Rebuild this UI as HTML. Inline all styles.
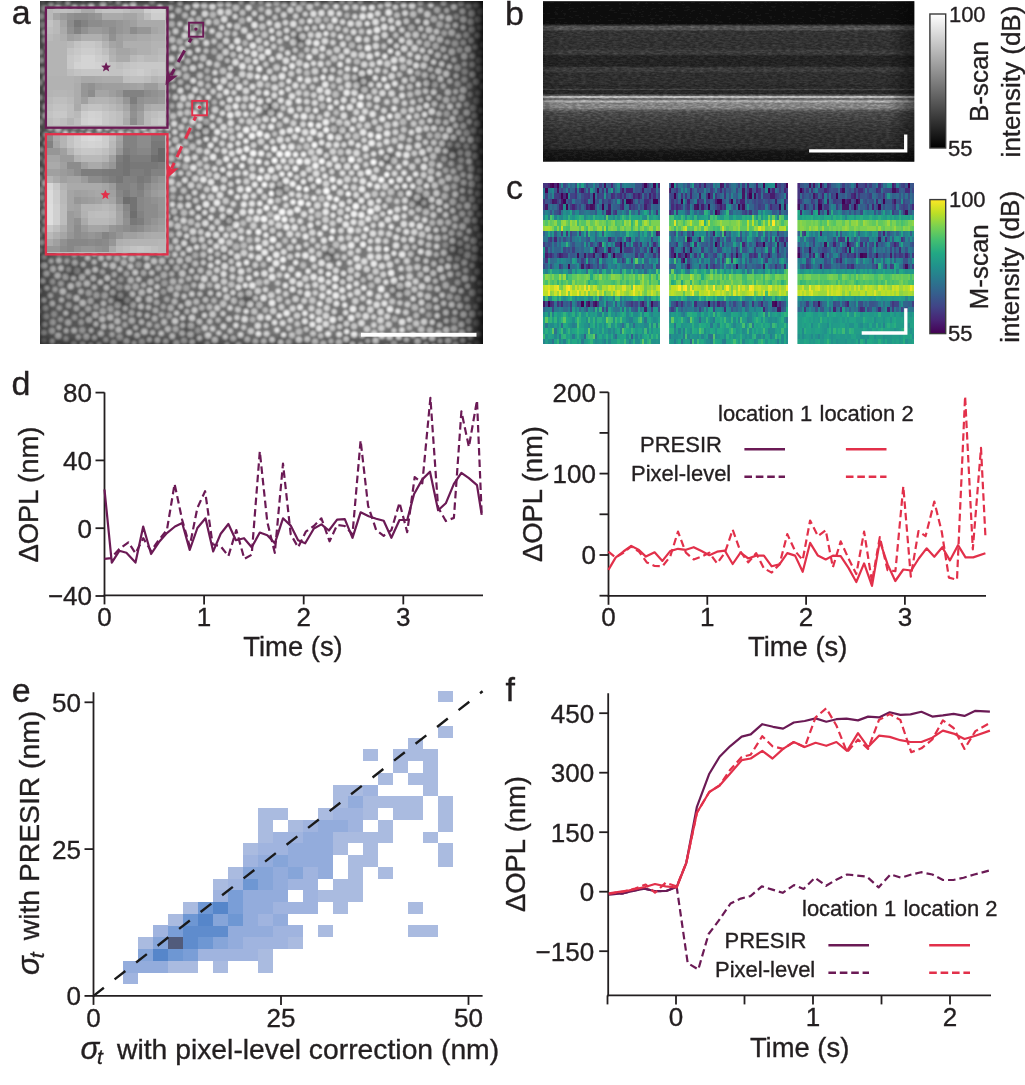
<!DOCTYPE html>
<html><head><meta charset="utf-8"><title>Figure</title>
<style>html,body{margin:0;padding:0;background:#fff;}body{width:1025px;height:1085px;overflow:hidden;font-family:"Liberation Sans",sans-serif;}svg{display:block;}</style>
</head><body>
<svg width="1025" height="1085" viewBox="0 0 1025 1085" font-family="'Liberation Sans', sans-serif" fill="#231f20">
<style>text{stroke:#231f20;stroke-width:0.35px;}</style>
<defs><clipPath id="clipA"><rect x="40.0" y="1.0" width="443.0" height="343.0"/></clipPath><filter id="blurA" x="-2%" y="-2%" width="104%" height="104%"><feGaussianBlur stdDeviation="1.0"/></filter><linearGradient id="shadeAx" x1="0" x2="1" y1="0" y2="0"><stop offset="0" stop-color="#000" stop-opacity="0.45"/><stop offset="0.03" stop-color="#000" stop-opacity="0.2"/><stop offset="0.3" stop-color="#000" stop-opacity="0.12"/><stop offset="0.5" stop-color="#000" stop-opacity="0.0"/><stop offset="0.78" stop-color="#000" stop-opacity="0.0"/><stop offset="0.86" stop-color="#000" stop-opacity="0.1"/><stop offset="0.92" stop-color="#000" stop-opacity="0.22"/><stop offset="0.97" stop-color="#000" stop-opacity="0.45"/><stop offset="1" stop-color="#000" stop-opacity="0.85"/></linearGradient><linearGradient id="shadeAy" x1="0" x2="0" y1="0" y2="1"><stop offset="0" stop-color="#000" stop-opacity="0.5"/><stop offset="0.012" stop-color="#000" stop-opacity="0.1"/><stop offset="0.5" stop-color="#000" stop-opacity="0.0"/><stop offset="0.97" stop-color="#000" stop-opacity="0.08"/><stop offset="1" stop-color="#000" stop-opacity="0.35"/></linearGradient><radialGradient id="blob"><stop offset="0" stop-color="#000" stop-opacity="0.28"/><stop offset="1" stop-color="#000" stop-opacity="0"/></radialGradient><radialGradient id="shadeBL" cx="0.1" cy="0.95" r="0.45"><stop offset="0" stop-color="#000" stop-opacity="0.1"/><stop offset="1" stop-color="#000" stop-opacity="0"/></radialGradient><filter id="blurI" x="-2%" y="-2%" width="104%" height="104%"><feGaussianBlur stdDeviation="0.7"/></filter><linearGradient id="bscanG" x1="0" x2="0" y1="0" y2="1"><stop offset="0.0000" stop-color="#0d0d0d"/><stop offset="0.1408" stop-color="#0d0d0d"/><stop offset="0.1583" stop-color="#464646"/><stop offset="0.1769" stop-color="#464646"/><stop offset="0.1857" stop-color="#2b2b2b"/><stop offset="0.2978" stop-color="#292929"/><stop offset="0.3072" stop-color="#313131"/><stop offset="0.3290" stop-color="#313131"/><stop offset="0.3414" stop-color="#1e1e1e"/><stop offset="0.4037" stop-color="#1e1e1e"/><stop offset="0.4150" stop-color="#313131"/><stop offset="0.4380" stop-color="#313131"/><stop offset="0.4474" stop-color="#272727"/><stop offset="0.5159" stop-color="#272727"/><stop offset="0.5283" stop-color="#212121"/><stop offset="0.5439" stop-color="#272727"/><stop offset="0.5502" stop-color="#383838"/><stop offset="0.5564" stop-color="#222222"/><stop offset="0.5751" stop-color="#212121"/><stop offset="0.5875" stop-color="#525252"/><stop offset="0.5938" stop-color="#ababab"/><stop offset="0.6000" stop-color="#ababab"/><stop offset="0.6062" stop-color="#626262"/><stop offset="0.6143" stop-color="#5e5e5e"/><stop offset="0.6206" stop-color="#9d9d9d"/><stop offset="0.6280" stop-color="#9d9d9d"/><stop offset="0.6343" stop-color="#6d6d6d"/><stop offset="0.6405" stop-color="#757575"/><stop offset="0.6654" stop-color="#757575"/><stop offset="0.6810" stop-color="#4e4e4e"/><stop offset="0.6935" stop-color="#404040"/><stop offset="0.7464" stop-color="#353535"/><stop offset="0.8087" stop-color="#2b2b2b"/><stop offset="0.9146" stop-color="#242424"/><stop offset="0.9333" stop-color="#151515"/><stop offset="1.0000" stop-color="#0f0f0f"/></linearGradient><linearGradient id="bscanX" x1="0" x2="1" y1="0" y2="0"><stop offset="0" stop-color="#000" stop-opacity="0.15"/><stop offset="0.05" stop-color="#000" stop-opacity="0"/><stop offset="0.93" stop-color="#000" stop-opacity="0"/><stop offset="1" stop-color="#000" stop-opacity="0.45"/></linearGradient><filter id="speck" x="0" y="0" width="100%" height="100%"><feTurbulence type="fractalNoise" baseFrequency="0.22 0.6" numOctaves="2" seed="3" result="n"/><feColorMatrix in="n" type="matrix" values="0 0 0 0 0  0 0 0 0 0  0 0 0 0 0  1.6 0 0 0 -0.55" result="a"/><feComposite in="SourceGraphic" in2="a" operator="in"/></filter><linearGradient id="cbB" x1="0" x2="0" y1="0" y2="1"><stop offset="0" stop-color="#fff"/><stop offset="1" stop-color="#000"/></linearGradient><clipPath id="clipC"><rect x="543" y="182.6" width="117" height="161.8"/><rect x="669.1" y="182.6" width="119.1" height="161.8"/><rect x="797.4" y="182.6" width="117" height="161.8"/></clipPath><filter id="blurC" x="-1%" y="-1%" width="102%" height="102%"><feGaussianBlur stdDeviation="0.55"/></filter><linearGradient id="cbV" x1="0" x2="0" y1="0" y2="1"><stop offset="0.00" stop-color="#fde725"/><stop offset="0.10" stop-color="#bddf26"/><stop offset="0.20" stop-color="#7ad151"/><stop offset="0.30" stop-color="#44bf70"/><stop offset="0.40" stop-color="#22a884"/><stop offset="0.50" stop-color="#21918c"/><stop offset="0.60" stop-color="#2a788e"/><stop offset="0.70" stop-color="#355f8d"/><stop offset="0.80" stop-color="#414487"/><stop offset="0.90" stop-color="#482475"/><stop offset="1.00" stop-color="#440154"/></linearGradient></defs>
<g clip-path="url(#clipA)">
<rect x="40.0" y="1.0" width="443.0" height="343.0" fill="#7c7c7c"/>
<g filter="url(#blurA)" stroke-linecap="round" fill="none">
<path stroke="#707070" stroke-width="9.2" d="M239.1 151.1h0M252 135.9h0M243.5 157.7h0M242 165.8h0M253.6 145.1h0M266.4 147.2h0M266.8 163h0M230.7 122.9h0M237.9 113.7h0M274.6 160.4h0M279.7 154.1h0M213.1 157h0M228.2 107.7h0M222.4 113.2h0M222.3 103h0M243.7 106.4h0M274.7 133.8h0M271.1 169.9h0M245.5 98.7h0M216.8 149.9h0M265.6 118.8h0M223.9 179.6h0M238.3 181.3h0M206.2 139h0M205.7 131.1h0M206.2 122h0M222.7 169.6h0M287.8 139.5h0M197.9 134h0M236.5 79.5h0M216.8 176.3h0M253 98h0M295.5 168.5h0M275 177.8h0M283.3 146.9h0M290 174.3h0M206 104.8h0M205.6 112.6h0M252.5 86.7h0M289.9 130.4h0M279.6 184.4h0M185.6 142.7h0M208.1 85.9h0M275.1 105.8h0M198.1 106.6h0M184.8 120.1h0M265.8 107.1h0M215.6 80.6h0M266.5 92.9h0M199.3 126.2h0M303.4 181.7h0M245.4 196.6h0M268.7 100.5h0M192.8 68.1h0M190.4 136.6h0M179.3 156.4h0M193.1 80.6h0M310.6 178.8h0M298.9 195.3h0M264.3 196.9h0M297.7 129.7h0M211 197.2h0M180.7 173h0M313.1 186.4h0M299.5 108.8h0M209.1 62.9h0M210.6 145.3h0M173.9 47.9h0M191 185.3h0M315.5 165.8h0M271.4 193.4h0M270.9 112.6h0M172.7 150.3h0M168.3 143.4h0M286 180.7h0M279.3 192.3h0M269.6 71.3h0M319.4 151.5h0M187.7 87.1h0M198.9 98.7h0M230.5 68.1h0M306.3 189.2h0M167.9 135.9h0M300.8 202.7h0M184.9 180.1h0M288.8 81.1h0M310.7 124.6h0M311.7 117h0M330.4 136.9h0M160.1 143.4h0M278 200.4h0M274.1 78.3h0M291.9 96.1h0M187.8 61.2h0M233.1 54.6h0M154.3 121.8h0M250.4 67.7h0M171.7 78.6h0M171.1 68.6h0M173.7 86.6h0M297.4 209.6h0M188.3 205.2h0M318.7 125.6h0M165 73.8h0M326 183.7h0M314.5 145h0M165.9 87.4h0M189.3 52.6h0M284.6 68.8h0M337.9 166.4h0M326.4 155.4h0M315.7 110.4h0M188.4 197.2h0M351.2 142.7h0M159.5 115h0M308.4 204.1h0M348.3 193.9h0M143.1 66.5h0M342.9 159.7h0M157.9 151.1h0M272.1 185.5h0M336.3 102.4h0M152.2 95.1h0M259.4 211.5h0M272.5 230.5h0M313.8 95.1h0M198.5 207.8h0M187.2 27.9h0M268 52h0M192.9 34.2h0M204.8 212.5h0M216.1 234.9h0M226.2 40.9h0M144.8 98h0M298.9 71h0M255.6 61.7h0M152.2 56.7h0M208.3 22.1h0M351.4 159.5h0M331.8 171.7h0M292.2 220.1h0M152.9 79.3h0M144 166.5h0M345.8 186.8h0M160.1 127.1h0M155.4 158.7h0M340.6 152.1h0M303 124.2h0M165.6 192.4h0M137.3 60.7h0M200.8 231.9h0M210.2 241.8h0M144.6 112.4h0M327.7 92h0M157.1 171.5h0M246.8 51.1h0M343.9 144.7h0M180.5 198.1h0M252.8 45.6h0M122.7 112.2h0M239.2 48.7h0M145.1 81.6h0M325.3 84.5h0M227.3 60.5h0M129.5 102.3h0M373.6 153.8h0M328.9 99.7h0M141 174.1h0M264 219h0M292.1 66h0M229.4 25.3h0M355.2 179.7h0M287.7 52.9h0M349.5 201.3h0M135.5 68.8h0M144 56.2h0M370.6 135h0M361.3 200.5h0M137 113.8h0M176.1 218.6h0M362 189.3h0M165.5 200.6h0M160.6 56.6h0M365.5 148.2h0M183.5 220.6h0M125.4 93.6h0M156.4 49.6h0M172.3 204.4h0M193.4 12.9h0M294.6 227.5h0M129.6 84.9h0M332.9 215.3h0M136.9 98.9h0M174 211.5h0M104.1 101.1h0M132.5 141.2h0M223.9 248.8h0M167.6 216.3h0M164.5 42.5h0M224.5 257.3h0M258.4 232h0M279.1 33.4h0M310.4 225.3h0M318.2 223h0M193.6 239.7h0M115.8 90h0M367.5 125.4h0M295.2 50.1h0M355.8 206.2h0M109 94.3h0M135.4 152h0M258.7 247.6h0M204.9 13.7h0M325.1 227.7h0M110.3 120.5h0M381.5 163.6h0M340.4 212h0M353.9 119.8h0M378.7 200.8h0M376.4 169.9h0M139.3 182.1h0M374.7 121.9h0M324.9 70.3h0M384.9 206.1h0M237.3 256.5h0M235.1 16.5h0M172 15.8h0M386.8 157.6h0M321.3 98h0M255.3 265h0M346.8 216.8h0M159.6 33.2h0M112.7 133.5h0M302.3 36.6h0M143.7 188.9h0M155.6 212.5h0M196.5 247.2h0M216 -3.3h0M123.8 125.4h0M251 247.9h0M293.6 34.2h0M99.2 129.4h0M105.1 70.7h0M210.5 258.1h0M197.7 225.1h0M109.3 148.8h0M368.9 96.8h0M120.4 61.9h0M111.9 102h0M374.7 194h0M314.6 27.9h0M290.1 256.7h0M361.4 214.9h0M171.7 23.9h0M208 234.4h0M370.7 203h0M389.9 116.2h0M354 214h0M376.8 107.2h0M316.4 43.1h0M363.8 207.6h0M256.2 273.9h0M179.1 233.9h0M322.3 26.7h0M94.3 89.4h0M400.6 194h0M323 77.4h0M269.3 258.9h0M170.6 7.6h0M312.3 232.4h0M252.3 285.5h0M332.8 69.8h0M186.6 236.1h0M242.5 12.7h0M361 97h0M139.4 37.6h0M180 2.6h0M257.8 291h0M120 52.5h0M317.8 245.9h0M110.9 65h0M107.1 127.6h0M339.4 122.7h0M255.3 298.3h0M322.4 48.4h0M386.8 174.6h0M382.6 214h0M238.4 287.2h0M137.3 29.2h0M400.4 146.4h0M290.2 247.6h0M384 110.6h0M182.9 253.7h0M360.6 173.6h0M254.4 13.4h0M125.7 182.8h0M105.8 51.5h0M286.7 38.2h0M264.4 273.5h0M114.2 155.3h0M159.9 6.7h0M97.7 96.7h0M165.8 240.9h0M152.1 0.6h0M268.6 12.3h0M97.9 74.1h0M231.1 261.4h0M254.5 24.9h0M191.6 270.9h0M84.7 102.2h0M339.5 219.9h0M283.9 14.9h0M188.5 259.3h0M171.4 -0.6h0M124.7 38.9h0M249.9 304.1h0M112.9 49.1h0M313.4 13.7h0M284.3 4.7h0M301.8 21.4h0M261.4 17.8h0M341 230.6h0M321.4 13h0M294 240.8h0M245.3 285.3h0M331.4 238.4h0M263.5 297.9h0M122.1 198h0M140.9 215.6h0M299.8 284.1h0M128.7 222.4h0M77 104.4h0M143 23.4h0M246.4 -5h0M152.1 251.8h0M259.3 305h0M306.7 28.3h0M71.4 98.7h0M248.8 293.4h0M308.4 42.1h0M127.5 25.6h0M271.4 269.4h0M130 13.9h0M120.9 169h0M290.4 10.1h0M267.2 -4.3h0M99.3 55.5h0M409.5 140h0M356.9 61.6h0M399.7 179.6h0M325.9 33.5h0M396.8 187h0M412.2 166.8h0M232.9 292.6h0M136.6 221.9h0M118.4 24h0M203.3 262.6h0M376.9 99.2h0M82.1 67.1h0M82.8 127.5h0M364 236.4h0M324.4 -4.7h0M364.3 64.4h0M412.7 186.2h0M373.2 225.3h0M295.7 262.6h0M120.8 176.7h0M305.3 14h0M359.7 47.2h0M70.5 109.2h0M285.4 22.6h0M300 292.1h0M61.5 87.7h0M297.7 -4.3h0M122.8 205.9h0M246.1 311.2h0M86.1 141.3h0M129.4 249.1h0M351.9 45.1h0M355.3 69.4h0M316.6 -6.6h0M346.7 51.1h0M166.6 267.6h0M115.5 163.5h0M105.9 35h0M101.8 164.2h0M69.3 65.7h0M196.5 277.3h0M375.3 77.9h0M369.7 72h0M150 243.9h0M62.6 106.3h0M229 318.8h0M63.5 97.2h0M143 -3.8h0M144.1 233.4h0M185.1 266.3h0M150.5 19.8h0M403.7 111.1h0M73.2 133.9h0M252.6 319.5h0M295.6 298.9h0M358.4 39.1h0M363.4 81.4h0M118.7 10.2h0M307.6 294h0M409 193.4h0M386.4 249.1h0M326.2 129.9h0M89 158.4h0M106.9 235.9h0M425.5 159.2h0M99 31h0M328.5 274h0M370.3 241.1h0M429.8 135.5h0M353.6 32h0M394 253.3h0M138.6 264.7h0M97.4 171.1h0M60 121.7h0M382.4 93.1h0M402.1 95.6h0M331.6 250.8h0M266.1 325.5h0M363 244.5h0M171.7 273.9h0M403.8 239.6h0M423.9 167h0M431.8 163.8h0M419.4 181.8h0M335.5 278.5h0M361.9 73.6h0M210.4 293.1h0M397.1 261h0M199.9 294.1h0M94.7 178.4h0M254.3 311.4h0M155.1 220.7h0M113.7 250.7h0M65.2 115.4h0M65.8 58.5h0M99.3 19.6h0M218.9 294.3h0M338.9 263.5h0M398.4 229.6h0M416.8 116h0M205.5 299.8h0M394.9 83.6h0M375.9 46h0M115.5 208.6h0M379.7 62.4h0M99.1 149.4h0M60.7 64.9h0M367.3 23.5h0M343.5 273.3h0M133.1 4.1h0M171.5 261.6h0M154 261.2h0M391.2 272.9h0M441.7 128.9h0M445.9 122.3h0M417.3 259h0M45.7 106.7h0M257.8 325.7h0M258.4 333.9h0M157.6 228.6h0M378.1 248.8h0M308.1 271.2h0M420.8 251.6h0M88.7 133.8h0M234.1 300.7h0M73 43.9h0M414.3 247h0M147.3 265.9h0M417.3 197.6h0M61.6 51.7h0M159.5 98.1h0M89.9 227.6h0M378.6 257h0M349.9 278.4h0M56.3 58h0M91.1 32.3h0M186.9 311.4h0M385.4 71.3h0M275.1 17.4h0M201.8 307.5h0M370.3 15.7h0M381.8 266.1h0M342 0.4h0M45.2 115.5h0M357.2 274.8h0M154 27.1h0M384.7 35.1h0M419.9 226.3h0M426 260.9h0M366.7 269.2h0M390.4 51h0M93.6 143.8h0M422.3 152.2h0M377 30h0M363.2 279.8h0M123.8 262.5h0M86 192.2h0M370.2 276.9h0M444.1 158.8h0M88.8 184.8h0M110.1 -0.3h0M437.6 149.9h0M426.5 105.6h0M75.3 31.1h0M69 167.6h0M53.5 42.4h0M65.4 132.9h0M360.4 0.6h0M404.7 80.4h0M53.4 136.1h0M342.6 281.9h0M46.1 143h0M350.8 270.3h0M98.1 10.4h0M83.3 30.6h0M108.9 257.2h0M427.4 279h0M445.7 170.3h0M450 144.7h0M54.2 144.1h0M283.6 335h0M47.8 55.5h0M71.3 23.6h0M423.9 202.5h0M38.9 138.8h0M91.4 197.7h0M240.5 334.9h0M452.5 155.1h0M329 300.2h0M371.8 7.6h0M394.3 68.3h0M272.1 339.9h0M265.3 310.1h0M274.4 347.9h0M438 121.5h0M37.6 105.5h0M375.7 271.5h0M336.4 303.7h0M39.9 52.1h0M453.4 137.7h0M80 225.7h0M61.2 25.2h0M38.1 130.1h0M428.6 244.9h0M67 152.2h0M426.2 269.1h0M108.6 215.5h0M383.1 19.1h0M384.3 27h0M39.7 97.5h0M409.9 86.7h0M439.5 210h0M280.7 342.7h0M204.4 315.3h0M65.9 17.8h0M89.8 213.4h0M35.1 65.8h0M297.1 315.6h0M150.5 282h0M449.5 129.9h0M238.6 345.3h0M436.5 193.2h0M74.3 231.4h0M354.8 16.4h0M417.9 92.5h0M426.6 185.9h0M420.6 100.1h0M468 153.8h0M436.3 254.6h0M439 113.8h0M463.8 182.6h0M44.2 32.3h0M41 149.5h0M355.5 -6.1h0M75.8 239h0M180.8 306.3h0M218.1 320.2h0M401.6 277.8h0M434.4 103.8h0M435.4 281.1h0M83.2 -1.5h0M182.8 325.4h0M475 146.9h0M107.2 278h0M428.7 98.1h0M71.7 216.1h0M434.8 185.5h0M67.4 180.9h0M377.7 13.5h0M36 33.8h0M416.1 65.5h0M446.7 113.8h0M346.5 323.7h0M170.7 307.9h0M466.7 132.9h0M396.5 45.8h0M81.9 253h0M385.9 282.2h0M439.1 97.3h0M182.4 333.2h0M63.5 196h0M214.9 340.3h0M34 145.2h0M385.9 241.1h0M390.1 41h0M460.8 118.2h0M428 296.5h0M163.4 291.8h0M439.2 201.9h0M436.1 230h0M225.2 337.1h0M304.9 321.2h0M343.1 297.8h0M319 320h0M325.8 323.9h0M156.7 302.4h0M70 244.8h0M446.2 99.9h0M95.2 269.7h0M362.1 308.1h0M346.2 339.5h0M478 178.3h0M437.3 289h0M433.7 91.9h0M380.4 6.1h0M452.8 210.7h0M470.5 191.6h0M48.5 19.8h0M41.3 242.5h0M445.2 237.3h0M421.5 302.5h0M417.8 73.1h0M460.2 152.6h0M155.5 310.3h0M390.9 20.4h0M56 187.5h0M106.5 287.6h0M93.8 24.9h0M412.5 79h0M479.5 162.9h0M480.2 170.7h0M448 266.4h0M441.6 260.8h0M306.3 329.3h0M474.8 115.7h0M447.9 92.3h0M48.3 192.1h0M77.8 246.6h0M301.8 347.6h0M426.5 83.1h0M373.6 316.9h0M138.5 299.2h0M401.8 40.2h0M395.5 7.2h0M440.3 268.9h0M390.6 -4.1h0M358.2 315.2h0M197.7 348.1h0M32.8 153.2h0M392.7 289.9h0M346.7 331.5h0M40.5 169.6h0M476.5 81.8h0M354.1 326.2h0M186.8 348.6h0M192.1 342.2h0M140.9 306.5h0M461.1 290.9h0M139.3 314.3h0M481.3 110.4h0M34.9 75.5h0M317.8 349.9h0M74.3 255.1h0M477.4 123.4h0M436.8 307.6h0M452.5 240.9h0M444.2 229.3h0M488.6 200.6h0M472.3 199.3h0M462.5 190.6h0M44.7 183.1h0M93.3 278.2h0M90.5 300.9h0M339.2 350.9h0M390 309.2h0M45.4 221.4h0M481.8 131.7h0M112.9 292.6h0M32.4 172.6h0M351.3 318h0M445.9 312.5h0M81.8 277h0M430.4 51.5h0M330.9 349.7h0M430.5 69.3h0M457.7 298.2h0M470.8 139.7h0M473.5 108h0M449.9 81.2h0M470.3 94.4h0M456.2 266.4h0M131.6 312.7h0M467.7 286.2h0M362.1 335.5h0M491.3 116.1h0M96.1 306.7h0M433.6 62h0M370.4 309.8h0M456.2 75.8h0M120.4 295.7h0M147.2 315.6h0M451.6 233h0M416.2 315.5h0M41.6 197.6h0M475.6 207.3h0M31.5 230.9h0M152.6 332.6h0M73.5 278h0M53.9 202.8h0M411.4 27.6h0M455.6 112.1h0M455.1 312.3h0M171.8 350.3h0M437.2 315.7h0M440 39.5h0M352.5 344.4h0M488.6 136.2h0M420.9 28.6h0M406.3 21.2h0M405.1 13.1h0M489.1 80.4h0M460.5 251.2h0M483.5 118.2h0M70.7 286.3h0M82.1 314.1h0M398.3 23h0M446.3 73.8h0M432.2 38h0M487.7 61.8h0M367.8 341.3h0M88.9 319.7h0M426.1 58h0M55.4 245.8h0M339.7 326.5h0M340.4 318.3h0M374.2 333h0M149.3 339.9h0M381.8 336h0M65.8 313h0M397.9 53.4h0M443.3 49.1h0M163.6 349.7h0M52.4 281.7h0M65.6 276.9h0M449.5 66.5h0M44 257h0M387.3 316.5h0M388.7 324.5h0M57.6 275.6h0M424.1 321.7h0M417.7 21.1h0M432.2 322.2h0M50.9 261.1h0M464.3 56.2h0M403.8 5.1h0M147.5 348h0M488.2 70.1h0M475 220.5h0M472.4 265.5h0M445.7 57h0M446.3 320.8h0M117.4 321.2h0M426.3 22.4h0M96.5 295.3h0M421.5 -5.9h0M76.5 298.2h0M95.9 323.9h0M103.6 326.7h0M439.6 325.2h0M484.8 267.2h0M52.2 303.5h0M458.4 274.1h0M490.3 150.8h0M134.1 343.3h0M394 343.7h0M94.4 253.8h0M125.1 308.1h0M428.8 306.2h0M467.9 307.1h0M476.7 323h0M483.3 44.7h0M447.5 42h0M481.8 243.6h0M375.6 341h0M91.1 330.3h0M46.2 273.6h0M478.4 334h0M440.1 341.3h0M424.1 336.6h0M443.5 2.4h0M488.8 291.2h0M455.6 344.7h0M413.9 -2.6h0M86.4 337h0M60.9 268.1h0M398.8 337.2h0M471.4 40.5h0M59 327.3h0M46.7 288h0M482.6 259.3h0M437.2 10h0M54 314.1h0M36.4 319.5h0M66.2 330.7h0M135.7 327.6h0M472 29.6h0M469.1 231.1h0M463.3 42.6h0M94.4 337.9h0M44.7 324.4h0M487.7 308.9h0M446.8 10.5h0M66.7 348h0M58.6 346.5h0M35.8 265.6h0M461.9 332.5h0M463.1 27.6h0M462.8 340.7h0M487.8 300.7h0M424.9 352.3h0M426 344.3h0M417 349.9h0M409.3 347.7h0M469.5 345.5h0M36.5 336.8h0M52.8 269h0M468.7 321h0M86.4 351.8h0M51.8 330.8h0M456.3 16.4h0M470.9 21.7h0M461 2.9h0M480.6 313.3h0"/>
<path stroke="#797979" stroke-width="9.2" d="M245.9 141h0M253.2 153.3h0M238.1 143.3h0M235.9 160.4h0M260.9 141.6h0M259.6 133.7h0M261.1 153.4h0M252.4 168.5h0M263.2 126.6h0M230.2 145.6h0M254.2 128h0M249.5 121.5h0M267 136h0M237.9 127.7h0M232.1 138h0M226.2 158.9h0M274.3 149h0M250.7 160.8h0M267.3 177h0M252.6 176.5h0M229.6 174h0M237.5 173.1h0M230.2 115.2h0M230.7 184.1h0M268.9 155h0M272.4 141.6h0M238 98.9h0M233.9 92.5h0M229.8 99.7h0M219.1 162.2h0M287.7 153.9h0M259.8 178.3h0M230.6 130.6h0M253.1 114.4h0M286.7 167.6h0M212.3 117.1h0M279.4 124.8h0M295.5 154.4h0M211 182.1h0M198.9 142.1h0M230.7 85.1h0M245.9 90.9h0M214.4 102h0M230.7 192.2h0M254.8 184.6h0M245.6 82.4h0M200.4 171.9h0M281.9 174.1h0M273.6 119.6h0M223.5 127.2h0M296.8 177.3h0M195.3 178.4h0M208.2 97.3h0M193.3 167.6h0M175.5 139.9h0M258.5 92.3h0M314.7 158.4h0M242.4 66.2h0M225.7 201h0M240.2 189.3h0M200 118.3h0M280.9 100.3h0M199.3 150.6h0M188.8 173.7h0M259.7 190.9h0M242.2 74.2h0M281.4 92.4h0M274.3 95.5h0M207.1 70.6h0M179.3 146.9h0M296.1 116.1h0M200.6 65.8h0M290.8 110.4h0M298.8 187.9h0M309.8 138.8h0M215 72.5h0M187 158.9h0M174.8 131.9h0M187.4 112.4h0M182.3 135.3h0M184.7 68.6h0M281.6 84.3h0M188.3 104.5h0M267.7 85.1h0M177.8 64.4h0M191 96.8h0M195.1 89.9h0M286.3 188.7h0M288.7 102.8h0M167.7 128.1h0M229.7 211.5h0M172.9 173.8h0M236.1 216.5h0M237.3 197h0M318.6 181h0M194.7 192.5h0M321.6 142.4h0M318.6 191.5h0M307.7 109.5h0M265.8 64.2h0M328.6 144.9h0M326.4 190.9h0M206.1 50.8h0M169.9 166h0M299.4 161.5h0M178.1 73.5h0M321.8 161.2h0M195.2 58.1h0M153.1 139.2h0M259.8 203.4h0M180.4 82h0M306.8 101.6h0M180.1 105.5h0M163.7 180.1h0M229.7 75.7h0M165.2 150.2h0M172 105.8h0M332.8 151.6h0M175.2 97.1h0M261.9 57h0M325.8 122.2h0M146.5 134.8h0M338.6 137.3h0M197.9 49.8h0M214.1 51.5h0M156.3 71.2h0M217.2 222h0M173 189.4h0M333.9 187.6h0M151.1 64.8h0M229.2 220.6h0M284.5 219.5h0M220.2 46.2h0M347.1 166.4h0M259.2 68.9h0M285.9 60.8h0M251 211.5h0M206.1 204.2h0M180.4 90.7h0M167.2 95.7h0M334.1 129h0M290.1 212.5h0M158.3 89.6h0M146.4 120.2h0M249 219h0M161.3 64.7h0M340.3 192.6h0M222.7 216.6h0M321.6 198.6h0M187.8 43.4h0M272 59.2h0M339.8 181.9h0M329.4 197.5h0M229.4 228.6h0M221.3 228.7h0M266.4 207.8h0M150.6 87.2h0M136.6 131.5h0M225.6 52h0M147.2 159.3h0M271.1 222.5h0M152 114h0M286.5 227.1h0M212 227.8h0M179.9 24.1h0M279.4 56.4h0M325.7 212h0M148.4 105.2h0M347.7 135.7h0M348.6 151.8h0M127.9 118.4h0M155.7 179.2h0M254.3 53.8h0M277 217.5h0M306.6 146.2h0M209 174.3h0M326.9 114.2h0M312.4 87.1h0M139.9 106.1h0M358.2 145.3h0M248.8 232.1h0M142.9 90.1h0M216.4 21.9h0M152 193.4h0M356.1 195h0M171.4 158.2h0M237.3 41h0M235.8 224.7h0M351.5 172.8h0M265.2 77.8h0M205.3 223.3h0M356.4 166.9h0M152.1 165.6h0M266.3 43.3h0M322.4 106h0M342.2 107.8h0M149.1 172.7h0M231.6 46.6h0M234.9 33.7h0M245.1 43h0M204 28.9h0M256.7 32.5h0M272.5 38.4h0M185 15.3h0M129.6 63.3h0M379.1 128.6h0M133.4 91.9h0M333.1 85.8h0M343.9 115.8h0M283.7 251.8h0M303.3 173.7h0M128.8 133.8h0M365.9 164.6h0M346.9 123.4h0M115.1 109.2h0M195.7 41.9h0M210.9 217.6h0M134.1 52.2h0M362.8 181.3h0M272.9 239.6h0M307.9 80.5h0M187.2 7.3h0M196 5.1h0M334 207.1h0M115.9 126.2h0M229.4 242.6h0M346.7 92.8h0M139.9 138.3h0M368.5 172.1h0M343.8 100h0M230.8 252.5h0M194.7 113.4h0M204 246.7h0M349.9 107.3h0M303.3 228.6h0M122 85.6h0M212.4 6.6h0M293.6 58h0M117.5 139.9h0M271.5 30.5h0M170.3 224h0M306.3 65.4h0M373.9 177.7h0M129.1 165.2h0M265.9 235.1h0M300.9 44.6h0M313.5 63.3h0M381.3 152.2h0M190.9 221.9h0M217.5 254h0M109.8 141.1h0M224.2 19.2h0M340.7 87.9h0M158.5 204.9h0M167.6 33.2h0M348 209h0M264.7 252.4h0M237.2 26.4h0M124.7 142.5h0M354.5 92.6h0M322.8 169h0M241.9 20.7h0M328.3 63.2h0M249 270h0M204.2 5.4h0M126.1 47h0M369.7 184.6h0M244.3 30.4h0M265.3 242.9h0M262.3 26.6h0M361.9 118.4h0M364.1 140.1h0M132.4 41.8h0M217.8 262h0M271.4 248.2h0M197.9 -3.1h0M132.7 186.6h0M220.2 3.8h0M150.6 152.1h0M356.5 85.2h0M283 259.7h0M189.6 -1.8h0M277.7 25.2h0M309.2 57.1h0M171.1 234.6h0M228.4 4h0M132.5 178.6h0M249.2 19.2h0M258.8 257.7h0M224.7 266.2h0M241.1 1.3h0M340.2 72.3h0M249.7 36.5h0M243.7 245.4h0M246.5 262.4h0M387.1 133.4h0M390.2 212h0M390.2 150h0M387.4 125.2h0M100.6 108.2h0M224.3 -3.3h0M252.5 0.6h0M232.3 269.2h0M283 267.8h0M370.5 211.4h0M162.6 222.3h0M340.1 64.4h0M390.9 192h0M398.4 154.3h0M279.6 234.5h0M364.4 89.6h0M276.3 254.8h0M113.4 57.3h0M118.5 43.7h0M299.3 63h0M405.5 162.8h0M184.1 243.2h0M93.6 103.8h0M329.2 52.4h0M122.8 161.3h0M345.8 224.4h0M391.3 181.3h0M404.8 186h0M138.5 208.4h0M175.5 240.9h0M224 281.6h0M127.8 172.8h0M85.8 89h0M374.5 91.5h0M138.7 200.9h0M130.7 201h0M295.7 16.2h0M232.7 -3h0M265.5 289.6h0M266.4 281.8h0M137 193.3h0M404.9 208.1h0M95.7 114.4h0M161.5 -2.6h0M96.2 136.5h0M341.4 56.5h0M102.9 118.5h0M278.7 245.4h0M104.7 135.1h0M395.4 132.1h0M130.4 33.3h0M385.2 186.5h0M292.6 281.1h0M84.6 74.5h0M107.7 43h0M135.6 20h0M115.9 193.1h0M306.1 244.6h0M165.1 230.1h0M98.8 46.7h0M79.2 96.1h0M231.3 284.6h0M348.8 237.7h0M312.7 258.7h0M151.9 35h0M309.7 6.7h0M79.9 111.9h0M77.7 88h0M285.4 285.4h0M293.6 2.8h0M95 62.5h0M388 219.6h0M69.9 90.6h0M297.7 255h0M318.5 35.2h0M162 260.9h0M319.2 254h0M336.9 49.7h0M159.5 236.3h0M408.6 147.6h0M209.1 272.9h0M292.6 289.3h0M307 49.7h0M114.1 200.9h0M379.1 85.2h0M303.2 1.7h0M91.9 54.8h0M101.8 142.3h0M120.6 31.8h0M397.7 116h0M289.4 -4.3h0M349.8 262.5h0M146.2 7.4h0M382.9 194.1h0M112.8 175.8h0M353.8 54.4h0M327.9 257.8h0M342.9 44.2h0M142.9 225.7h0M405 200.4h0M91.2 151.2h0M241.1 271.6h0M144.5 249.8h0M151.6 235.9h0M369.6 56.4h0M146.7 180h0M414.4 153.3h0M403.8 129.7h0M96.5 122.2h0M396.2 217.7h0M336.7 256h0M391.2 226.5h0M62.6 79.7h0M370.7 84.5h0M325.9 6.3h0M338 28.3h0M117.4 183.7h0M339.2 13.7h0M340.6 36.5h0M103 188.5h0M418.7 137.6h0M112.2 29.2h0M75.9 72.2h0M305.4 255.5h0M121.4 229.7h0M72.8 118.1h0M344.1 257.2h0M236.9 317.4h0M417.9 145.6h0M367.9 47.9h0M97 157.1h0M298.5 247.2h0M308.7 -4.3h0M281.2 -4.8h0M178 247.9h0M193.8 285.1h0M108.7 192.7h0M366.8 39.7h0M409 117.2h0M96.3 38.8h0M272 303h0M320.7 271.4h0M95.9 186.3h0M389 233.9h0M90.3 126.2h0M358.2 250.7h0M54.3 91.7h0M250.8 331.1h0M230 307.9h0M87.6 39.4h0M179.7 260.7h0M429.5 149.2h0M102.2 181.1h0M122.6 17.3h0M396.1 245.4h0M372.9 233.5h0M356.7 239.3h0M369.1 104.7h0M307.4 286.3h0M55.9 99.6h0M89.6 47.1h0M342.6 21.9h0M417.6 160.8h0M201.7 286.3h0M123 240.1h0M76.6 53.6h0M396.2 237.3h0M81.5 156.5h0M268.3 317.6h0M244.7 319.2h0M91.2 205.7h0M116.3 216.1h0M433.9 142.6h0M330.2 26.8h0M80.7 46.3h0M287.9 301.8h0M387.3 86.5h0M412.2 204.1h0M107.5 207.5h0M433.2 156.3h0M418.8 129.7h0M279.3 299h0M167.1 254.8h0M279.3 315.8h0M184.1 296.3h0M83.6 164.2h0M442 143.5h0M391.7 93.4h0M274.6 322.4h0M372.1 64.2h0M110.9 9.3h0M104.9 25.6h0M386.8 257.2h0M126.1 -1.9h0M384.8 56.3h0M107.4 243.7h0M75.1 125.9h0M103.8 250.6h0M226.7 297.1h0M151.7 272.8h0M433.9 128.3h0M376.3 38h0M391.7 76.2h0M418.7 208.9h0M384.1 79h0M304.2 300.8h0M101 257.9h0M134.7 -3.8h0M424.6 114.4h0M74.1 148.2h0M321.2 279.5h0M103 3.8h0M58.1 129.5h0M52.6 82.8h0M79.1 177.6h0M335.1 286.6h0M93.8 220.3h0M322.5 287.7h0M445.5 151h0M273.2 310.9h0M263.8 341.6h0M94.2 262h0M414.3 232.1h0M243.7 327.3h0M336.7 -5.9h0M347.1 15.4h0M143.6 273h0M373.8 263.8h0M83.4 148.8h0M49.9 63.2h0M78.5 170.1h0M420.3 274.7h0M350.6 23.6h0M176.2 294.6h0M350.4 0.3h0M362.6 16.5h0M281.4 306.9h0M99.8 239.2h0M53.7 107.2h0M81 135h0M300.1 307.2h0M431 171.3h0M109.3 168.4h0M389.8 264.8h0M45.5 134.5h0M85.9 220.5h0M431.8 111.5h0M377.2 54h0M282.7 323.1h0M62 146.6h0M420.9 242.3h0M425.5 142.2h0M429.9 120.6h0M39.2 82.5h0M94 -3.6h0M445.5 136.5h0M363.7 287.8h0M108.6 160.7h0M289 328h0M375 -0h0M247.3 339.7h0M417.4 267.1h0M421.9 286.4h0M419.2 108.2h0M79 23.7h0M451.3 163.3h0M91.2 5.7h0M41.1 60.2h0M96.7 231.9h0M383.2 274.5h0M223 313.5h0M157.4 278.7h0M135.2 272.4h0M356.7 258.6h0M50.5 71.2h0M65.8 9.9h0M430.6 179h0M371.3 285.3h0M170.5 289h0M383.9 46.2h0M429.6 236.9h0M425.9 212h0M120 269.2h0M37.2 113.7h0M344.8 305.1h0M448.7 177.9h0M42.1 70.3h0M46.7 88.7h0M51.1 12.2h0M102.9 -4.5h0M47.8 98.4h0M411.9 224.5h0M81.2 184.8h0M440.2 222.2h0M403.2 67.4h0M266.3 349.5h0M377.6 280.3h0M461 160.1h0M182.6 317.8h0M44.7 40.1h0M188.3 303.3h0M431.5 199.5h0M72 174.7h0M404.2 48.6h0M209.4 307h0M298.9 340h0M36.1 90.1h0M463.3 125.9h0M79.5 216.1h0M235.9 325.3h0M334.2 311.6h0M59.4 158.9h0M91.8 15.7h0M172.9 281.5h0M345.6 312.6h0M227 344.7h0M460.2 167.5h0M78.3 191.9h0M67.8 2h0M432.2 207.1h0M325.9 315.8h0M233.2 338.7h0M230.3 330.9h0M83.1 208.9h0M143.6 285h0M332.7 319.7h0M88.5 248.3h0M71.9 223.9h0M399.5 74.5h0M355.3 301.1h0M84.1 241.4h0M199.3 321.7h0M137 247.2h0M409.4 62.2h0M192 317.9h0M55.8 173h0M126.5 273.6h0M65.2 228.5h0M332.4 327.9h0M91.6 238.2h0M69.7 202.3h0M223.5 326.3h0M164.5 283.1h0M176.6 313h0M410.1 71.3h0M418.5 84.4h0M70.8 193.5h0M149.6 290.4h0M67.8 236.2h0M120.8 279.4h0M471.2 168.8h0M285.5 350h0M73.4 -3.9h0M433.3 273.2h0M61.1 166.6h0M376.7 304.7h0M156.1 294.8h0M437.4 238.1h0M175 321.1h0M469.5 121.5h0M169.1 315.7h0M114.2 274.4h0M214.2 348.5h0M293.7 349h0M73.3 185.7h0M427.7 229h0M46.4 161.5h0M59.7 180.5h0M433.8 263.7h0M339.1 334.6h0M102.5 271.9h0M218.8 333h0M320.7 336.2h0M172.2 336.4h0M163.2 306.6h0M313 333.7h0M222 351.2h0M442 106.5h0M59.1 223.4h0M34.6 21.7h0M443.2 86.2h0M395.8 35.2h0M392.1 28.3h0M319.3 328.3h0M455.7 91.6h0M410.7 254.1h0M309.8 348h0M199.4 338.3h0M323.3 343.9h0M83 264.6h0M450.1 106.5h0M442.2 295.1h0M485.7 143.9h0M442.7 277.5h0M382.5 -3.3h0M51.3 210.3h0M455.3 194.2h0M446.3 206h0M127.5 287.6h0M475.5 156h0M417.9 57.1h0M33.3 241.3h0M482.1 151.3h0M312.4 324.4h0M462.7 198.8h0M407.2 292.7h0M380.6 311.9h0M207.3 343.8h0M435.5 299.5h0M452.9 201.7h0M184.1 340.9h0M397.1 15.1h0M463.1 174.5h0M63.9 173.8h0M487.4 160.6h0M399.9 302.8h0M39.3 250.2h0M469.8 85.7h0M138.6 279.3h0M33.7 194.2h0M457.7 282.3h0M100.4 282.2h0M413.1 298.5h0M451.8 304.7h0M407.8 34.9h0M49.2 -4.4h0M50.8 3.8h0M483.3 86.2h0M397.9 311.2h0M459.5 206.3h0M367 329.1h0M59 211.1h0M53 218.1h0M478.9 139.4h0M113.3 282.9h0M423.7 65.6h0M401.9 29.9h0M388.1 3.8h0M398 -0.6h0M405.8 -3h0M119.5 287.6h0M415.7 34.7h0M133 305h0M432.6 76.9h0M86.9 283.4h0M450.2 274.3h0M76.9 270.7h0M449.5 258.4h0M443.7 303.3h0M440.3 78.9h0M424.3 36.1h0M453.1 289.1h0M67 209.8h0M154.7 318.4h0M312 316.4h0M354.2 334.6h0M165.8 341.6h0M452.7 249.1h0M394.8 318.9h0M57.9 8h0M38 217.7h0M484.7 207.7h0M472.7 74.5h0M488.3 215h0M457.4 258.4h0M68.9 269.4h0M132.3 294.1h0M80.9 291.6h0M473.9 130.5h0M483 221.8h0M402 321.9h0M427.2 44h0M412.1 5.7h0M409.5 42.5h0M466.6 104.3h0M45.9 77.9h0M438.4 71.1h0M487.2 125.6h0M435.7 45.9h0M419.3 42.1h0M413.2 14.2h0M455.7 125.4h0M58.9 260.4h0M117.7 304.9h0M102.8 311.3h0M482.1 76.1h0M60.9 283.6h0M467.1 220.3h0M464.5 63.9h0M420.4 2.3h0M95.3 314.8h0M467 298.9h0M76.4 308.2h0M476.8 100.8h0M472.5 64.6h0M148.5 307.3h0M436.6 31.6h0M446.3 330h0M61.5 299.8h0M427.4 14.3h0M441.7 63.9h0M155.6 348.5h0M141.5 321.9h0M44.1 265.6h0M444.2 33.1h0M454.1 59.8h0M464.4 262.5h0M466.7 112.6h0M394 330.5h0M126.9 300.1h0M389.6 337.1h0M475.5 249h0M467.4 254.9h0M88.7 293h0M463.6 314.4h0M68.7 305.2h0M52.6 322.2h0M74.5 317.3h0M75 208.7h0M460 243.3h0M475.5 47h0M416.3 323.5h0M480.9 52.6h0M430.8 5h0M438.7 333.3h0M479.5 60.4h0M430.1 330.2h0M470.7 337.3h0M485.2 275.4h0M50.3 295.5h0M413 334.9h0M480.3 283.1h0M459.7 49.9h0M43.8 300.1h0M129.2 332.6h0M68.2 322.5h0M81.1 322.2h0M90.8 345h0M37.7 311.3h0M453.1 -1.4h0M113.6 342.9h0M489.7 226.6h0M58.3 335.9h0M490.6 260.6h0M111.3 326.5h0M42.7 280.9h0M128.7 349.4h0M66.1 338.9h0M417.6 341.7h0M448.2 341.1h0M45.4 308.1h0M490 242.8h0M82.7 344.3h0M449 18.4h0M119.7 337.5h0M486.8 318.6h0M485.7 36.8h0M448.9 349.4h0M73.9 344.1h0M37 328h0M43.8 332.6h0M455.5 25.2h0M126.5 341.4h0M462.5 11.3h0M137.1 335.6h0M479.8 27.4h0M433.8 346.4h0M74.1 330.4h0M405.9 312.3h0M52.1 341.4h0M406.5 339.9h0M432.2 338.2h0M43.8 340.7h0M463.4 19.5h0M484.3 251.3h0M478.5 19.4h0M481 11.7h0M487 6.1h0M462.3 349.5h0M476.7 4.8h0M468.6 6h0M454 6.9h0M484.6 -1.8h0"/>
<path stroke="#828282" stroke-width="9.2" d="M240 135.4h0M231.8 153.5h0M246.2 130h0M258.8 161.5h0M246.6 149h0M241.5 120.8h0M261.5 170.2h0M222.1 143.4h0M224.3 135.6h0M224.4 151.1h0M215.2 139.3h0M230 165.9h0M219.3 120.6h0M207 151.7h0M235.7 106.2h0M245.7 114.1h0M215.1 109.8h0M205.5 159.1h0M251.8 106.2h0M245.5 173.1h0M217.2 131.9h0M271.2 126.8h0M278.6 167.1h0M192.4 146.7h0M226.3 92h0M214.6 168.5h0M239 86.9h0M282.4 132h0M185.9 151.1h0M283.3 160.7h0M223.2 187.8h0M264.5 184.7h0M212.3 126.2h0M206.8 166.8h0M203.3 179.6h0M280.1 139.7h0M194.8 157.3h0M249.9 75.7h0M246.4 181.4h0M259.9 84.2h0M257.8 120.7h0M219.5 95.7h0M294.9 136.8h0M280 115.1h0M286.1 120.2h0M248.4 189.3h0M291.4 161.2h0M233.3 204.1h0M291.4 146.7h0M307.3 161.5h0M192.7 121.5h0M223.7 80.7h0M219.8 87.5h0M202.8 91.7h0M207.8 78.3h0M292.7 183.9h0M200 75.5h0M200.5 83.7h0M309 169.3h0M185.5 166.5h0M173 116.1h0M299.1 147.3h0M311.2 152.1h0M215 189h0M253.6 195.9h0M260.1 101.5h0M219.9 195.3h0M223 70.9h0M199.6 163.7h0M302 139.8h0M189.1 128.7h0M213.1 91.4h0M181.3 127.2h0M303.5 154.3h0M203 58h0M177.8 164.6h0M283 108.1h0M206.8 189.3h0M306.3 196.7h0M199.2 186.2h0M305.2 132.2h0M221.9 208.9h0M174.1 123.7h0M171.4 58.6h0M217 64.7h0M313.2 131.9h0M288.3 89.1h0M216.9 202.8h0M166.7 112h0M313.9 198.1h0M251.9 203.7h0M291.7 194h0M165.4 120.5h0M285.2 197.8h0M178.8 184.3h0M186.3 76.4h0M195.7 200.5h0M219.8 57.3h0M303.9 116.4h0M325 176.1h0M183.2 98.2h0M171.3 181.7h0M293 202.1h0M153.1 130.7h0M293.4 123.2h0M243.9 204.4h0M235.5 62.2h0M183.7 190.6h0M163.3 157.5h0M317.4 205.5h0M319.6 117.4h0M212.4 209.6h0M259 109.9h0M242.8 212.3h0M282 76.3h0M299.9 78.9h0M316.2 173.5h0M298.7 100.8h0M247.8 60h0M320.3 134.8h0M257.5 76.6h0M180.1 113.5h0M206.2 42.9h0M332.5 179.5h0M329.2 164.2h0M298.7 92.8h0M291.2 73.8h0M295.4 85.5h0M282.1 211.9h0M275.1 208h0M276.6 67.5h0M270.2 214.4h0M148.2 72.8h0M214 41.3h0M212 31h0M274.8 87.6h0M160.8 80.8h0M138.3 121.5h0M159.6 187h0M303.3 86.4h0M201.7 36.4h0M182 49.2h0M256.5 218.7h0M330.3 107.4h0M278.7 225.4h0M196.2 26.9h0M180.9 57h0M147.5 144.8h0M143.5 127.5h0M264.6 227h0M160 135.2h0M179.7 41.6h0M131.5 125.7h0M336.4 144.8h0M304 214.2h0M164 104.6h0M270.5 201.4h0M219.1 35.2h0M311.4 210.8h0M233.8 235.5h0M347.3 179.3h0M286 205.5h0M314.8 102.8h0M241.3 238.3h0M184.8 35.6h0M366.1 156.1h0M336.4 199.3h0M281.4 48.8h0M190.9 20.7h0M225.9 235.3h0M180.1 206h0M191.9 212.5h0M198.3 217.3h0M319.8 90h0M273.7 46.6h0M227.1 33.1h0M285.1 240.7h0M332.8 119.6h0M356.5 153h0M212.8 14.8h0M165 172.3h0M260.4 48.6h0M202.9 196.6h0M356.1 136.3h0M353.9 187.5h0M130.2 110.3h0M240.9 56.5h0M121.7 104.3h0M161.7 165h0M264.6 34.6h0M326.4 204.6h0M117 117.2h0M137.5 84.1h0M183.9 212.8h0M342.4 173.1h0M306.3 93.7h0M132.6 77.5h0M198.9 19.2h0M243.1 223.1h0M221.6 27.5h0M279.8 41.3h0M306.9 73h0M156.3 107.1h0M140.4 75.2h0M221.4 241.1h0M341.9 204.2h0M151.6 185.9h0M335.6 94.3h0M220.4 12h0M175.6 31.2h0M336.2 112.6h0M236.2 246.7h0M240.9 230.7h0M249.4 240h0M300.1 221.2h0M359.5 160h0M139.7 46.3h0M126.9 55.9h0M216.4 246.3h0M139.6 145.7h0M143 152.8h0M315.6 79.5h0M293.4 42.2h0M342.1 130.1h0M356.2 112.2h0M177.8 226.3h0M243.9 253h0M367.2 195.5h0M178.4 10.6h0M124 77.8h0M148.2 49.3h0M325.6 219.8h0M158.7 196.8h0M311 218.2h0M318.3 214.8h0M207.8 -2.1h0M301.3 55.3h0M138.6 159.7h0M128.2 149.5h0M165.5 208.7h0M379.3 144.6h0M146.7 41.3h0M257.4 239.7h0M145.4 197.2h0M150.6 203.4h0M238.7 264.2h0M251.1 255.9h0M310.7 34.9h0M107.7 112.2h0M363.1 132.3h0M201.7 239.5h0M332.7 230.9h0M378.6 136.7h0M352.3 129.1h0M156.5 41.5h0M118.2 97.3h0M116.1 80.1h0M315 51.2h0M339 80.2h0M192.9 231.5h0M335 159h0M309.9 21h0M120.1 70.1h0M331.2 77.9h0M166.1 50.6h0M315 71.3h0M210.3 250.5h0M299.3 29h0M172.1 39.8h0M320 233.8h0M182 -5.4h0M381.3 179.8h0M365 111.4h0M360.2 105h0M353.5 222.1h0M377.3 186.6h0M348.3 84.9h0M389 199.6h0M120.8 132.8h0M388.9 167h0M361.4 222.9h0M189.3 249.3h0M263.4 264.5h0M228.4 12.2h0M104.1 79.5h0M371.6 143.1h0M129 193.6h0M354.7 77.4h0M322 56.2h0M382.2 118.8h0M164 13.9h0M358.3 230.3h0M258.8 40.3h0M109.7 85.2h0M332.6 223.3h0M289.8 234.1h0M323.9 240.5h0M293.3 23.9h0M353.5 100.4h0M372.6 114.1h0M172.7 196.9h0M393.9 160.8h0M185.5 228.3h0M286.6 30.3h0M253.4 225.8h0M249 278h0M235.9 7.8h0M291.1 269h0M386.7 141.7h0M203.2 254.6h0M394.6 140.7h0M240.2 279.3h0M396.9 201.3h0M269.3 22.9h0M279.3 274.9h0M277.7 283h0M305.6 236.5h0M259 282.4h0M298 234.5h0M103.1 62.6h0M377.3 208.3h0M334.2 58.6h0M347.4 68.8h0M277.8 9.8h0M359.3 125.7h0M394.6 173.4h0M130.1 157.5h0M112.7 72.9h0M145.1 31.2h0M136.2 167.7h0M381.5 224.7h0M320.6 64h0M89.7 96.1h0M147.5 210.9h0M195.3 263.6h0M287 275.8h0M248.6 7.6h0M127.9 71h0M346.7 77h0M195.3 255.2h0M102.5 89.2h0M96.4 81.8h0M406.5 155.1h0M117.2 147.7h0M261.1 9h0M78.5 79.9h0M223.7 274h0M260.8 0.9h0M88.3 81.4h0M404.1 172.8h0M158.1 244.4h0M210.6 265.6h0M158.5 20h0M312.8 240.2h0M395.4 123.9h0M276.1 263.2h0M373.5 162.1h0M317.9 20.3h0M87.9 109.8h0M333.2 34.6h0M386.9 101.9h0M200.6 270.3h0M350.6 230.2h0M397.3 209.5h0M299.1 8.8h0M91.2 69.7h0M104.5 154.7h0M130.2 208.5h0M324.9 248.3h0M368.1 218.9h0M298.3 274.6h0M268.5 4h0M80.7 119.9h0M153.4 12h0M317 3h0M174.8 254.5h0M144.1 15.3h0M88.6 118.2h0M240.8 294.8h0M330.9 12.9h0M170.1 247.4h0M311.6 250.6h0M132.7 215.4h0M341 238.7h0M351.2 245.3h0M276.5 1.9h0M324.9 41.1h0M87 61h0M332.9 42.6h0M343.4 247.6h0M147.7 219.1h0M285.8 293.9h0M336 244.7h0M271.2 295.1h0M278.2 291h0M331 0h0M398.8 166.8h0M348.3 60.7h0M113.7 37.2h0M350.6 253.1h0M216.9 270.1h0M375.9 217.7h0M336.1 6.3h0M305.5 278.6h0M109.7 184.3h0M150.2 227.5h0M401.8 137.4h0M326.2 19.6h0M214.9 278.5h0M411.4 132.3h0M104.7 174.2h0M242 302.7h0M124.1 214h0M395.7 100.6h0M217.5 286.3h0M225.1 289.4h0M413.7 123.7h0M163.8 26.1h0M411.5 109.8h0M84.3 53.4h0M142.5 241.3h0M136.6 235.9h0M111.1 20.3h0M329.5 265.8h0M403.1 122h0M238 309.5h0M105.9 199.9h0M394.2 108.6h0M121.3 247.9h0M409.3 178.9h0M321.6 262.9h0M67.9 73.6h0M303.2 265.2h0M204.2 278.8h0M232.4 276.9h0M381 232.9h0M125.5 6.3h0M348.3 38h0M138.2 10.2h0M260.3 317.2h0M159.8 252.4h0M404.2 216.1h0M131.8 258.8h0M334.6 20.2h0M67.2 125.1h0M76.3 61.7h0M70.5 82.4h0M78 142h0M335.9 270.6h0M98.3 201.9h0M256.8 -6.4h0M128 234.1h0M131.1 241.5h0M99.6 209.5h0M113.4 223.5h0M188.7 278.6h0M133.5 228.7h0M404.5 103.2h0M107.4 228.2h0M121.2 221.9h0M423.7 175h0M346.2 7.4h0M345.8 30.2h0M146.6 257.8h0M361.8 55.1h0M181.1 280.9h0M209.6 284.9h0M366.2 229h0M378 240.5h0M412.7 102.1h0M176.6 267.9h0M186.3 287.9h0M426.3 128.4h0M411.5 212.3h0M114.7 234.1h0M58.5 72.7h0M401.7 87.8h0M163.9 274.9h0M403.9 224h0M416.9 218.2h0M89 170h0M124.6 255.1h0M314.4 266.5h0M361.4 31.4h0M69.3 51.1h0M401 268.5h0M79.5 38.1h0M118.3 1.1h0M272.1 277.2h0M115.3 242.5h0M437.7 135.7h0M101.1 217.2h0M328.5 282.2h0M358.8 23.7h0M158.4 268.2h0M182.3 273.5h0M191.8 293.9h0M292.6 308.4h0M402.2 254.4h0M406.1 247.3h0M369.8 248.9h0M100.3 225h0M406.9 261h0M369.3 31.8h0M51.9 120.1h0M75.5 163h0M410.1 94.6h0M74 155.7h0M196.2 301.7h0M394.2 60.2h0M370.5 256.6h0M178.3 287.6h0M266.6 333.8h0M39.9 122h0M421.8 122.1h0M313.6 277h0M286.6 313.1h0M276.9 330.1h0M409.3 268.5h0M54.1 50.3h0M329 292h0M415.7 174h0M439.5 165.4h0M93.9 164.2h0M116.9 258.4h0M355.3 7.1h0M130.4 266.5h0M217.1 308h0M356.4 283.7h0M364.3 261.4h0M61.6 43.6h0M69.7 141.3h0M50.1 127.9h0M96.7 246.3h0M358.2 266.7h0M290.3 320.1h0M432.3 222.8h0M363.5 8.3h0M315.2 292.8h0M258.1 349.4h0M122.5 189.8h0M411.8 239.5h0M67.3 160.1h0M86.6 22h0M377.5 70.2h0M406.3 231.8h0M57.3 114.2h0M67.3 30.4h0M214 300.5h0M357.4 292.2h0M60.1 34.1h0M387.4 63.8h0M312.4 300.4h0M322.2 296h0M438.6 174.1h0M174.6 301.6h0M421.9 234.4h0M56 151.9h0M122 153.9h0M74.3 15.1h0M342.1 290.1h0M67.5 38.2h0M424.8 219.9h0M292 335.4h0M409.6 276.4h0M194.6 310.2h0M433.4 215.1h0M335.8 295.5h0M249.6 348.4h0M52 34.7h0M138.9 255.5h0M350.2 294.8h0M429.6 287.7h0M456.6 178.8h0M52.4 26.8h0M255.4 341.6h0M299 331.8h0M57.8 17.8h0M362.8 298h0M297.3 323.9h0M326.8 308h0M453.4 171.3h0M349.2 286.7h0M60.7 139.1h0M462.5 139.4h0M223.2 303.7h0M304.9 313.2h0M446.4 188.1h0M319.8 303.8h0M426.2 194h0M48.1 153.4h0M452.6 118.9h0M436.7 246.3h0M83.3 233.3h0M204.8 327.8h0M457.8 145.5h0M82.5 14.9h0M369.7 293.4h0M318.8 311.8h0M212.6 328.7h0M76.8 199.5h0M212.6 314.3h0M375.5 22h0M445.7 214.8h0M112.9 265.7h0M419.5 189.9h0M408 284.4h0M98 194h0M53.5 164.7h0M315.2 284.8h0M105.1 264.5h0M458.8 132.4h0M367.6 -3.4h0M381.2 288.9h0M441.7 181.6h0M402.2 59.6h0M84.4 201h0M157.1 286.8h0M42.1 24.7h0M414.4 289.3h0M74.6 6.8h0M378.5 296.7h0M232.4 350.8h0M454.3 186.3h0M105.2 14.6h0M190.8 325.9h0M209.7 321.4h0M455.5 218.3h0M61.8 203.6h0M388.7 12.5h0M444.8 196.1h0M83 6.8h0M470.4 176.5h0M86.8 177.3h0M420.3 294.6h0M52 180.4h0M425.7 90.9h0M62.4 242.2h0M394 280.7h0M141.7 292.4h0M175.7 329h0M472 184h0M428.6 253.1h0M466.2 146.3h0M59.7 234.5h0M87.6 257.9h0M288.8 342.5h0M166.8 299.2h0M36.6 44.4h0M51.9 226.3h0M434.6 84.5h0M444 252.7h0M65 -5.7h0M415.7 281.4h0M328.1 334.1h0M64.3 188.1h0M445.8 285.2h0M208 335.6h0M38.6 235h0M46.7 47.6h0M410 54.3h0M47.6 173.7h0M353 308.9h0M130.7 280.2h0M469.1 161.4h0M458.8 105.3h0M315.1 341.9h0M400.1 286.2h0M40.5 189.7h0M338.9 342.8h0M386.7 295.4h0M369.3 302h0M487.9 184.6h0M190.4 334.2h0M167.8 329h0M33.3 13.6h0M457.6 83.9h0M453.9 99.2h0M384.4 303.4h0M307.2 339.5h0M43.8 212.2h0M87.7 271.9h0M311.4 308.3h0M43.9 8.4h0M74.9 263h0M49 241.6h0M462.3 213.8h0M67 261.1h0M449.9 296.7h0M36.1 5.8h0M414.7 48.3h0M488.4 168.8h0M461.9 97.8h0M365.8 316.3h0M361.5 323.1h0M176.4 343.5h0M486 176.6h0M157.2 326.1h0M161.2 333.4h0M41.1 16.2h0M51.7 234.3h0M34.2 -2.2h0M422.4 50.3h0M58.8 -0.2h0M414.8 307.4h0M63.9 217.4h0M467.5 205.8h0M94.4 287.3h0M55.7 195.3h0M373.8 324.9h0M399.4 294.6h0M135.6 286.8h0M478.4 193.5h0M164.1 322h0M464.4 79.6h0M486.7 192.6h0M42.3 0.3h0M34.1 164.5h0M445.6 245.1h0M381.4 328.1h0M392.2 301.4h0M464.9 71.7h0M39.2 158.1h0M88.2 308.8h0M407.5 304.3h0M466.3 238.6h0M480.4 201h0M161.6 314.5h0M149.2 299.2h0M38.5 178h0M455 226.2h0M459.7 233.9h0M479.9 214.2h0M409.4 319.5h0M470.5 213.3h0M33.9 184.9h0M44.8 229.8h0M104.7 295.5h0M37.9 225.7h0M32.8 211.5h0M462.6 226.4h0M437.8 55.1h0M67 252.3h0M478.4 92.8h0M59.1 252.5h0M429 29.9h0M48.1 249.8h0M37.7 204.9h0M474 240.8h0M78.6 284.2h0M425 75.3h0M111 300.6h0M422.2 310.6h0M479.7 68.5h0M360.6 344.9h0M380.5 320.2h0M463.3 89.9h0M476.7 228.3h0M102.3 319.1h0M55.1 289.3h0M157.4 340.5h0M428.9 314.8h0M479.9 185.9h0M103.4 303.4h0M472.5 56h0M45.9 204.3h0M487.8 93.1h0M131.8 320.6h0M454.4 320.3h0M448.3 222.3h0M378.8 348.4h0M457.5 67.7h0M465.2 278.5h0M69 296.1h0M485.1 100.9h0M473.4 278.7h0M110.4 308.7h0M82.7 302.9h0M420.4 10.4h0M488.9 53.6h0M141.8 342.3h0M59.3 307.8h0M117.2 313.1h0M62.8 291.5h0M460 305.8h0M60.5 319.3h0M144.4 331.6h0M465.8 270.5h0M149.2 324.4h0M433.8 19.1h0M454.8 336.5h0M474.8 257.7h0M467.5 246.7h0M477.8 271.7h0M347.5 350.9h0M367.6 349.6h0M331 341.5h0M197.4 330.3h0M110.2 317.2h0M124.5 316.5h0M461.4 324.4h0M454.3 328.4h0M439.7 24.5h0M35.7 257.4h0M451.9 51.8h0M46 316.3h0M469.4 329.1h0M429.1 -3h0M394.2 351.8h0M402 329.9h0M455.2 43.4h0M386.9 347.3h0M421.3 329.4h0M36.3 303.2h0M458.5 36.1h0M82.3 330.1h0M437.4 -3.2h0M78.3 337.3h0M124.9 324.7h0M467.9 49.2h0M139.5 350.3h0M472.5 292.8h0M35.7 273.8h0M401.2 347.3h0M479.7 299.3h0M447.5 26h0M480.6 291.2h0M112 334.7h0M480.2 235.5h0M105.9 340h0M100.8 333.7h0M99.1 344.7h0M34.9 283.5h0M451.8 32.8h0M485.2 326.7h0M441.4 16.7h0M38.9 290.8h0M108.9 349.7h0M488.6 282.9h0M472.5 313.9h0M409.5 327.6h0M486.4 336h0M487.9 28.8h0M78.2 351.2h0M477.7 344.1h0M488.4 234.7h0M95.1 351.9h0M120.7 347.3h0M485.9 345h0M476 306.5h0M118.7 329.6h0M47 348.3h0M466.2 34.9h0M440.8 350.6h0M477.7 35.4h0M37.8 346.4h0M486.5 18h0M471.9 13.5h0M465.8 -3.8h0M489.3 108h0M476.4 -3.4h0"/>
<path stroke="#c6c6c6" stroke-width="5.2" d="M274.7 133.8h0M214.4 102h0M279.6 184.4h0M207.8 78.3h0M299.1 147.3h0M207.1 70.6h0M286.3 188.7h0M172 105.8h0M342.9 159.7h0M285.1 240.7h0M333.1 85.8h0M336.2 112.6h0M301.3 55.3h0M263.4 264.5h0M109.7 85.2h0M172.7 196.9h0M162.6 222.3h0M261.1 9h0M130.4 33.3h0M98.8 46.7h0M326.2 19.6h0M124.1 214h0M67.2 125.1h0M81.5 156.5h0M347.1 15.4h0M93.9 164.2h0M363.2 279.8h0M450 144.7h0M51.1 12.2h0M120.8 279.4h0M46.7 47.6h0M441.6 260.8h0M488.6 200.6h0M470.3 94.4h0M457.4 258.4h0M460.5 251.2h0M483.5 118.2h0M428.9 314.8h0M480.9 52.6h0M43.8 340.7h0M86.4 351.8h0M468.6 6h0M489.3 108h0"/>
<path stroke="#c6c6c6" stroke-width="5.8" d="M279.4 124.8h0M189.1 128.7h0M267.7 85.1h0M278 200.4h0M214.1 51.5h0M151.1 64.8h0M220.2 46.2h0M270.2 214.4h0M144.6 112.4h0M122.7 112.2h0M322.4 106h0M245.1 43h0M243.1 223.1h0M306.9 73h0M249.4 240h0M389 199.6h0M400.6 194h0M195.3 255.2h0M284.3 4.7h0M62.6 79.7h0M303.2 265.2h0M70.5 82.4h0M252.6 319.5h0M80.7 46.3h0M444.1 158.8h0M445.7 170.3h0M56 151.9h0M96.7 231.9h0M371.3 285.3h0M265.3 310.1h0M37.6 105.5h0M460.8 118.2h0M163.4 291.8h0M417.8 73.1h0M479.5 162.9h0M469.8 85.7h0M74.3 255.1h0M445.6 245.1h0M394.8 318.9h0M52.4 281.7h0M126.9 300.1h0M197.4 330.3h0M139.5 350.3h0M34.9 283.5h0M486.4 336h0M35.8 265.6h0M456.3 16.4h0"/>
<path stroke="#c6c6c6" stroke-width="6.4" d="M206.2 122h0M185.5 166.5h0M163.7 180.1h0M321.6 198.6h0M229.4 228.6h0M306.6 146.2h0M340.6 152.1h0M356.1 136.3h0M335.6 94.3h0M236.2 246.7h0M124 77.8h0M318.3 214.8h0M241.9 20.7h0M159.6 33.2h0M197.9 -3.1h0M374.7 194h0M243.7 245.4h0M390.9 192h0M259 282.4h0M122.1 198h0M259.3 305h0M356.9 61.6h0M336 244.7h0M136.6 221.9h0M351.9 45.1h0M403.1 122h0M186.3 287.9h0M138.6 264.7h0M60 121.7h0M52.6 82.8h0M299 331.8h0M164.5 283.1h0M446.7 113.8h0M46.4 161.5h0M119.5 287.6h0M411.4 27.6h0M428.8 306.2h0M476.7 323h0M54 314.1h0M485.2 326.7h0"/>
<path stroke="#d6d6d6" stroke-width="5.2" d="M268.9 155h0M253.1 114.4h0M197.9 134h0M245.6 82.4h0M296.8 177.3h0M208.1 85.9h0M265.8 107.1h0M188.8 173.7h0M190.4 136.6h0M283 108.1h0M313.1 186.4h0M306.3 196.7h0M199.2 186.2h0M187.7 87.1h0M318.6 191.5h0M265.8 64.2h0M180.4 82h0M319.6 117.4h0M326.4 155.4h0M196.2 26.9h0M331.8 171.7h0M366.1 156.1h0M281.4 48.8h0M312.4 87.1h0M332.8 119.6h0M180.5 198.1h0M227.3 60.5h0M256.7 32.5h0M365.9 164.6h0M359.5 160h0M104.1 101.1h0M295.2 50.1h0M135.4 152h0M300.9 44.6h0M150.6 203.4h0M217.5 254h0M340.7 87.9h0M384.9 206.1h0M328.3 63.2h0M249 270h0M299.3 29h0M216 -3.3h0M340.2 72.3h0M363.8 207.6h0M170.6 7.6h0M396.9 201.3h0M277.7 283h0M317.8 245.9h0M255.3 298.3h0M277.8 9.8h0M359.3 125.7h0M127.8 172.8h0M306.1 244.6h0M69.9 90.6h0M409.5 140h0M307 49.7h0M82.8 127.5h0M150.2 227.5h0M382.9 194.1h0M359.7 47.2h0M325.9 6.3h0M69.3 65.7h0M344.1 257.2h0M348.3 38h0M62.6 106.3h0M98.3 201.9h0M185.1 266.3h0M256.8 -6.4h0M102.2 181.1h0M369.1 104.7h0M209.6 284.9h0M287.9 301.8h0M361.4 31.4h0M397.1 261h0M83.6 164.2h0M417.3 259h0M414.3 247h0M56.3 58h0M385.4 71.3h0M275.1 17.4h0M75.3 31.1h0M375 -0h0M214 300.5h0M451.3 163.3h0M423.9 202.5h0M157.4 278.7h0M91.4 197.7h0M383.9 46.2h0M52 34.7h0M108.6 215.5h0M297.3 323.9h0M89.8 213.4h0M420.6 100.1h0M436.3 254.6h0M399.5 74.5h0M218.1 320.2h0M83 6.8h0M439.1 97.3h0M466.2 146.3h0M102.5 271.9h0M166.8 299.2h0M36.6 44.4h0M163.2 306.6h0M442 106.5h0M380.4 6.1h0M395.8 35.2h0M48.5 19.8h0M382.5 -3.3h0M453.9 99.2h0M306.3 329.3h0M487.4 160.6h0M67 261.1h0M40.5 169.6h0M157.2 326.1h0M459.5 206.3h0M430.5 69.3h0M68.9 269.4h0M367.8 341.3h0M69 296.1h0M163.6 349.7h0M44 257h0M488.2 70.1h0M60.5 319.3h0M458.4 274.1h0M394.2 351.8h0M447.5 42h0M470.7 337.3h0M409.5 327.6h0M486.8 318.6h0M58.6 346.5h0M476 306.5h0M462.3 349.5h0"/>
<path stroke="#d6d6d6" stroke-width="5.8" d="M252.4 168.5h0M253.6 145.1h0M243.7 106.4h0M219.1 162.2h0M236.5 79.5h0M246.4 181.4h0M257.8 120.7h0M185.6 142.7h0M291.4 161.2h0M309 169.3h0M199.6 163.7h0M264.3 196.9h0M281.6 84.3h0M177.8 64.4h0M307.7 109.5h0M311.7 117h0M293.4 123.2h0M183.7 190.6h0M187.8 61.2h0M233.1 54.6h0M154.3 121.8h0M167.2 95.7h0M138.3 121.5h0M143.1 66.5h0M136.6 131.5h0M147.5 144.8h0M272.5 230.5h0M347.7 135.7h0M353.9 187.5h0M306.3 93.7h0M144 56.2h0M198.9 19.2h0M140.4 75.2h0M143 152.8h0M303.3 228.6h0M122 85.6h0M178.4 10.6h0M148.2 49.3h0M376.4 169.9h0M156.5 41.5h0M374.7 121.9h0M255.3 265h0M189.6 -1.8h0M171.1 234.6h0M290.1 256.7h0M358.3 230.3h0M332.6 223.3h0M185.5 228.3h0M242.5 12.7h0M394.6 140.7h0M102.5 89.2h0M374.5 91.5h0M266.4 281.8h0M112.9 49.1h0M301.8 21.4h0M348.8 237.7h0M130 13.9h0M319.2 254h0M82.1 67.1h0M375.9 217.7h0M403.8 129.7h0M136.6 235.9h0M73.2 133.9h0M429.8 135.5h0M176.6 267.9h0M417.6 160.8h0M331.6 250.8h0M412.2 204.1h0M279.3 299h0M167.1 254.8h0M410.1 94.6h0M143.6 273h0M201.8 307.5h0M78.5 170.1h0M420.3 274.7h0M93.6 143.8h0M370.2 276.9h0M432.3 222.8h0M98.1 10.4h0M94 -3.6h0M438 121.5h0M429.6 287.7h0M461 160.1h0M409.9 86.7h0M460.2 167.5h0M126.5 273.6h0M332.4 327.9h0M232.4 350.8h0M454.3 186.3h0M169.1 315.7h0M62.4 242.2h0M385.9 241.1h0M175.7 329h0M59.7 180.5h0M156.7 302.4h0M313 333.7h0M445.2 237.3h0M410.7 254.1h0M412.5 79h0M457.6 83.9h0M462.7 198.8h0M397.1 15.1h0M449.9 296.7h0M358.2 315.2h0M488.4 168.8h0M457.7 282.3h0M55.7 195.3h0M317.8 349.9h0M42.3 0.3h0M392.2 301.4h0M464.9 71.7h0M133 305h0M131.6 312.7h0M362.1 335.5h0M473.9 130.5h0M451.6 233h0M416.2 315.5h0M60.9 283.6h0M420.4 2.3h0M444.2 33.1h0M74.5 317.3h0M367.6 349.6h0M46 316.3h0M81.1 322.2h0M37.7 311.3h0M453.1 -1.4h0M66.7 348h0M461 2.9h0M476.7 4.8h0"/>
<path stroke="#d6d6d6" stroke-width="6.4" d="M260.9 141.6h0M249.5 121.5h0M230.6 130.6h0M192.4 146.7h0M275 177.8h0M200.4 171.9h0M314.7 158.4h0M225.7 201h0M311.2 152.1h0M223 70.9h0M172.7 150.3h0M186.3 76.4h0M219.8 57.3h0M332.8 151.6h0M247.8 60h0M326 183.7h0M165.9 87.4h0M276.6 67.5h0M334.1 129h0M340.3 192.6h0M179.7 41.6h0M347.3 179.3h0M216.4 21.9h0M212.8 14.8h0M260.4 48.6h0M171.4 158.2h0M130.2 110.3h0M264.6 34.6h0M183.9 212.8h0M379.1 128.6h0M156.4 49.6h0M174 211.5h0M115.9 126.2h0M325.6 219.8h0M367.5 125.4h0M128.2 149.5h0M340.4 212h0M190.9 221.9h0M262.3 26.6h0M171.7 23.9h0M164 13.9h0M387.4 125.2h0M253.4 225.8h0M235.9 7.8h0M334.2 58.6h0M290.2 247.6h0M346.7 77h0M317.9 20.3h0M385.2 186.5h0M299.1 8.8h0M140.9 215.6h0M107.7 43h0M80.7 119.9h0M135.6 20h0M115.9 193.1h0M231.3 284.6h0M170.1 247.4h0M276.5 1.9h0M303.2 1.7h0M120.6 31.8h0M401.8 137.4h0M151.6 235.9h0M115.5 163.5h0M99.6 209.5h0M403.7 111.1h0M123 240.1h0M163.9 274.9h0M431.8 163.8h0M419.4 181.8h0M254.3 311.4h0M437.7 135.7h0M234.1 300.7h0M336.7 -5.9h0M109.3 168.4h0M350.8 270.3h0M86.6 22h0M79 23.7h0M312.4 300.4h0M47.8 55.5h0M425.9 212h0M375.7 271.5h0M403.2 67.4h0M377.6 280.3h0M417.9 92.5h0M83.3 233.3h0M419.5 189.9h0M42.1 24.7h0M67.8 236.2h0M73.4 -3.9h0M466.7 132.9h0M444.8 196.1h0M452.9 201.7h0M354.1 326.2h0M59 211.1h0M58.8 -0.2h0M414.8 307.4h0M478.9 139.4h0M472.3 199.3h0M76.9 270.7h0M45.4 221.4h0M457.7 298.2h0M473.5 108h0M104.7 295.5h0M427.2 44h0M37.7 204.9h0M435.7 45.9h0M476.8 100.8h0M454.4 320.3h0M374.2 333h0M65.6 276.9h0M88.7 293h0M96.5 295.3h0M52.6 322.2h0M394 343.7h0M455.2 43.4h0M82.3 330.1h0M35.7 273.8h0M437.2 10h0M424.9 352.3h0"/>
<path stroke="#dedede" stroke-width="5.2" d="M263.2 126.6h0M241.5 120.8h0M266.8 163h0M230.7 184.1h0M272.4 141.6h0M216.8 149.9h0M287.8 139.5h0M219.5 95.7h0M177.8 164.6h0M178.8 184.3h0M195.7 200.5h0M206.1 50.8h0M173.7 86.6h0M188.4 197.2h0M160.8 80.8h0M303.3 86.4h0M157.9 151.1h0M286 205.5h0M273.7 46.6h0M165.6 192.4h0M343.9 144.7h0M351.5 172.8h0M234.9 33.7h0M355.2 179.7h0M349.5 201.3h0M176.1 218.6h0M279.8 41.3h0M151.6 185.9h0M115.1 109.2h0M129.6 84.9h0M224.5 257.3h0M318.2 223h0M311 218.2h0M207.8 -2.1h0M379.3 144.6h0M322.8 169h0M364.1 140.1h0M132.7 186.6h0M293.6 34.2h0M314.6 27.9h0M376.8 107.2h0M332.8 69.8h0M279.6 234.5h0M279.3 274.9h0M298 234.5h0M382.6 214h0M394.6 173.4h0M231.1 261.4h0M312.8 240.2h0M87.9 109.8h0M333.2 34.6h0M386.9 101.9h0M285.8 293.9h0M373.2 225.3h0M109.7 184.3h0M146.2 7.4h0M300 292.1h0M144.5 249.8h0M86.1 141.3h0M336.7 256h0M166.6 267.6h0M150 243.9h0M193.8 285.1h0M131.1 241.5h0M113.4 223.5h0M188.7 278.6h0M358.2 250.7h0M122.6 17.3h0M345.8 30.2h0M266.1 325.5h0M171.7 273.9h0M314.4 266.5h0M398.4 229.6h0M126.1 -1.9h0M158.4 268.2h0M171.5 261.6h0M74 155.7h0M243.7 327.3h0M186.9 311.4h0M81 135h0M88.8 184.8h0M45.5 134.5h0M315.2 292.8h0M258.1 349.4h0M342.6 281.9h0M289 328h0M80 225.7h0M453.4 171.3h0M72 174.7h0M457.8 145.5h0M227 344.7h0M230.3 330.9h0M435.4 281.1h0M86.8 177.3h0M114.2 274.4h0M433.8 263.7h0M320.7 336.2h0M64.3 188.1h0M443.2 86.2h0M470.5 191.6h0M482.1 151.3h0M301.8 347.6h0M207.3 343.8h0M399.9 302.8h0M36.1 5.8h0M392.7 289.9h0M50.8 3.8h0M39.2 158.1h0M161.6 314.5h0M424.3 36.1h0M459.7 233.9h0M484.7 207.7h0M67 252.3h0M466.6 104.3h0M478.4 92.8h0M55.1 289.3h0M487.7 61.8h0M467 298.9h0M339.7 326.5h0M340.4 318.3h0M59.3 307.8h0M394 330.5h0M472.4 265.5h0M446.3 320.8h0M421.5 -5.9h0M467.5 246.7h0M460 243.3h0M490.3 150.8h0M124.9 324.7h0M38.9 290.8h0M66.1 338.9h0M44.7 324.4h0M446.8 10.5h0M485.9 345h0"/>
<path stroke="#dedede" stroke-width="5.8" d="M232.1 138h0M219.3 120.6h0M286.7 167.6h0M230.7 85.1h0M206.8 166.8h0M202.8 91.7h0M258.5 92.3h0M200 75.5h0M310.6 178.8h0M298.9 195.3h0M184.7 68.6h0M206.8 189.3h0M188.3 104.5h0M299.5 108.8h0M217 64.7h0M269.6 71.3h0M166.7 112h0M306.8 101.6h0M163.3 157.5h0M298.7 92.8h0M291.2 73.8h0M217.2 222h0M158.3 89.6h0M249 219h0M272.1 185.5h0M147.2 159.3h0M271.1 222.5h0M313.8 95.1h0M298.9 71h0M348.6 151.8h0M292.2 220.1h0M209 174.3h0M303 124.2h0M227.1 33.1h0M356.1 195h0M185 15.3h0M303.3 173.7h0M240.9 230.7h0M356.2 112.2h0M204 246.7h0M279.1 33.4h0M146.7 41.3h0M167.6 33.2h0M339 80.2h0M197.7 225.1h0M368.9 96.8h0M228.4 4h0M203.2 254.6h0M384 110.6h0M329.2 52.4h0M195.3 263.6h0M88.3 81.4h0M96.2 136.5h0M261.4 17.8h0M341 230.6h0M278.7 245.4h0M200.6 270.3h0M395.4 132.1h0M324.9 248.3h0M246.4 -5h0M311.6 250.6h0M95 62.5h0M87 61h0M350.6 253.1h0M414.4 153.3h0M413.7 123.7h0M103 188.5h0M238 309.5h0M196.5 277.3h0M381 232.9h0M308.7 -4.3h0M108.7 192.7h0M96.3 38.8h0M389 233.9h0M411.5 212.3h0M65.8 58.5h0M115.3 242.5h0M416.8 116h0M205.5 299.8h0M101.1 217.2h0M406.1 247.3h0M304.2 300.8h0M445.9 122.3h0M196.2 301.7h0M421.8 122.1h0M357.2 274.8h0M355.3 7.1h0M281.4 306.9h0M86 192.2h0M83.3 30.6h0M383.2 274.5h0M292 335.4h0M138.9 255.5h0M47.8 98.4h0M428.6 244.9h0M266.3 349.5h0M209.4 307h0M439 113.8h0M233.2 338.7h0M434.4 103.8h0M475 146.9h0M67.4 180.9h0M346.5 323.7h0M63.5 196h0M73.3 185.7h0M288.8 342.5h0M434.6 84.5h0M362.1 308.1h0M155.5 310.3h0M475.5 156h0M474.8 115.7h0M39.3 250.2h0M53 218.1h0M464.4 79.6h0M444.2 229.3h0M339.2 350.9h0M470.5 213.3h0M456.2 266.4h0M96.1 306.7h0M120.4 295.7h0M59.1 252.5h0M406.3 21.2h0M476.7 228.3h0M82.1 314.1h0M448.3 222.3h0M443.3 49.1h0M68.7 305.2h0M459.7 49.9h0M471.4 40.5h0M45.4 308.1h0M463.3 42.6h0M73.9 344.1h0M43.8 332.6h0M466.2 34.9h0M409.3 347.7h0M468.7 321h0"/>
<path stroke="#dedede" stroke-width="6.4" d="M250.7 160.8h0M228.2 107.7h0M245.5 98.7h0M223.9 179.6h0M259.9 84.2h0M175.5 139.9h0M173 116.1h0M199.3 150.6h0M211 197.2h0M187.4 112.4h0M203 58h0M279.3 192.3h0M153.1 130.7h0M274.1 78.3h0M317.4 205.5h0M316.2 173.5h0M173 189.4h0M347.1 166.4h0M159.5 115h0M278.7 225.4h0M356.5 153h0M152 193.4h0M129.5 102.3h0M165.5 200.6h0M346.9 123.4h0M139.7 46.3h0M136.9 98.9h0M229.4 242.6h0M243.9 253h0M193.6 239.7h0M117.5 139.9h0M165.5 208.7h0M110.3 120.5h0M237.2 26.4h0M315 71.3h0M220.2 3.8h0M361.4 222.9h0M94.3 89.4h0M312.3 232.4h0M257.8 291h0M364.4 89.6h0M299.3 63h0M360.6 173.6h0M85.8 89h0M96.4 81.8h0M137 193.3h0M188.5 259.3h0M248.8 293.4h0M309.7 6.7h0M147.7 219.1h0M99.3 55.5h0M271.2 295.1h0M336.9 49.7h0M412.2 166.8h0M118.4 24h0M305.5 278.6h0M397.7 116h0M112.8 175.8h0M70.5 109.2h0M395.7 100.6h0M105.9 35h0M138.2 10.2h0M295.6 298.9h0M250.8 331.1h0M58.5 72.7h0M330.2 26.8h0M433.2 156.3h0M100.3 225h0M51.9 120.1h0M75.5 163h0M178.3 287.6h0M273.2 310.9h0M349.9 278.4h0M49.9 63.2h0M409.3 268.5h0M116.9 258.4h0M366.7 269.2h0M431 171.3h0M417.4 267.1h0M387.4 63.8h0M329 300.2h0M170.5 289h0M456.6 178.8h0M440.2 222.2h0M61.2 25.2h0M44.7 40.1h0M223.2 303.7h0M446.4 188.1h0M297.1 315.6h0M48.1 153.4h0M318.8 311.8h0M172.9 281.5h0M355.3 301.1h0M441.7 181.6h0M471.2 168.8h0M170.7 307.9h0M446.2 99.9h0M445.8 285.2h0M38.6 235h0M40.5 189.7h0M127.5 287.6h0M407.2 292.7h0M184.1 340.9h0M367 329.1h0M135.6 286.8h0M398 -0.6h0M381.4 328.1h0M90.5 300.9h0M41.6 197.6h0M475.6 207.3h0M413.2 14.2h0M457.5 67.7h0M110.4 308.7h0M388.7 324.5h0M467.4 254.9h0M433.8 19.1h0M454.8 336.5h0M474.8 257.7h0M439.7 24.5h0M430.1 330.2h0M401.2 347.3h0M472 29.6h0M119.7 337.5h0M78.2 351.2h0M477.7 344.1h0M51.8 330.8h0M476.4 -3.4h0"/>
<path stroke="#e6e6e6" stroke-width="5.2" d="M237.9 127.7h0M266.4 147.2h0M222.1 143.4h0M222.3 103h0M233.9 92.5h0M205.5 159.1h0M198.9 142.1h0M206 104.8h0M233.3 204.1h0M253.6 195.9h0M200.6 65.8h0M213.1 91.4h0M182.3 135.3h0M180.7 173h0M198.9 98.7h0M230.5 68.1h0M291.7 194h0M160.1 143.4h0M153.1 139.2h0M214 41.3h0M159.6 187h0M160 135.2h0M152 114h0M210.2 241.8h0M373.6 153.8h0M141 174.1h0M342.4 173.1h0M133.4 91.9h0M125.4 93.6h0M300.1 221.2h0M315.6 79.5h0M132.5 141.2h0M167.6 216.3h0M257.4 239.7h0M381.5 163.6h0M107.7 112.2h0M378.7 200.8h0M324.9 70.3h0M112.7 133.5h0M271.4 248.2h0M150.6 152.1h0M210.5 258.1h0M354.7 77.4h0M322 56.2h0M353.5 100.4h0M139.4 37.6h0M180 2.6h0M254.4 13.4h0M89.7 96.1h0M138.7 200.9h0M295.7 16.2h0M265.5 289.6h0M161.5 -2.6h0M294 240.8h0M104.7 135.1h0M268.5 4h0M317 3h0M332.9 42.6h0M159.5 236.3h0M396.8 187h0M203.3 262.6h0M349.8 262.5h0M305.3 14h0M327.9 257.8h0M129.4 249.1h0M338 28.3h0M298.5 247.2h0M320.7 271.4h0M404.5 103.2h0M107.4 228.2h0M87.6 39.4h0M181.1 280.9h0M307.4 286.3h0M370.3 241.1h0M412.7 102.1h0M55.9 99.6h0M401.7 87.8h0M416.9 218.2h0M199.9 294.1h0M65.2 115.4h0M441.7 128.9h0M74.1 148.2h0M154 27.1h0M426 260.9h0M290.3 320.1h0M46.1 143h0M425.5 142.2h0M377.5 70.2h0M74.3 15.1h0M38.9 138.8h0M38.1 130.1h0M362.8 298h0M334.2 311.6h0M432.2 207.1h0M143.6 285h0M98 194h0M428.7 98.1h0M209.7 321.4h0M396.5 45.8h0M485.7 143.9h0M56 187.5h0M373.6 316.9h0M395.5 7.2h0M463.1 174.5h0M197.7 348.1h0M34.2 -2.2h0M481.3 110.4h0M373.8 324.9h0M113.3 282.9h0M462.5 190.6h0M449.5 258.4h0M449.9 81.2h0M37.9 225.7h0M152.6 332.6h0M48.1 249.8h0M419.3 42.1h0M489.1 80.4h0M464.5 63.9h0M378.8 348.4h0M485.1 100.9h0M420.4 10.4h0M454.1 59.8h0M50.9 261.1h0M445.7 57h0M465.8 270.5h0M149.2 324.4h0M439.6 325.2h0M475.5 47h0M124.5 316.5h0M485.2 275.4h0M437.4 -3.2h0M447.5 26h0M112 334.7h0M90.8 345h0M135.7 327.6h0M490 242.8h0M485.7 36.8h0M120.7 347.3h0M479.8 27.4h0M426 344.3h0M406.5 339.9h0"/>
<path stroke="#e6e6e6" stroke-width="5.8" d="M237.5 173.1h0M278.6 167.1h0M294.9 136.8h0M286.1 120.2h0M184.8 120.1h0M200.5 83.7h0M179.3 156.4h0M259.7 190.9h0M274.3 95.5h0M309.8 138.8h0M181.3 127.2h0M328.6 144.9h0M250.4 67.7h0M175.2 97.1h0M180.1 113.5h0M329.2 164.2h0M351.2 142.7h0M264.6 227h0M336.4 144.8h0M304 214.2h0M155.7 179.2h0M314.8 102.8h0M155.4 158.7h0M326.9 114.2h0M200.8 231.9h0M149.1 172.7h0M160.6 56.6h0M283.7 251.8h0M128.8 133.8h0M367.2 195.5h0M138.6 159.7h0M145.4 197.2h0M310.7 34.9h0M353.9 119.8h0M120.1 70.1h0M182 -5.4h0M365 111.4h0M258.8 40.3h0M390.2 150h0M232.3 269.2h0M291.1 269h0M386.7 141.7h0M120 52.5h0M103.1 62.6h0M145.1 31.2h0M130.7 201h0M165.8 240.9h0M339.5 219.9h0M283.9 14.9h0M124.7 38.9h0M395.4 123.9h0M341.4 56.5h0M397.3 209.5h0M152.1 251.8h0M240.8 294.8h0M341 238.7h0M120.9 169h0M209.1 272.9h0M331 0h0M114.1 200.9h0M364 236.4h0M324.4 -4.7h0M242 302.7h0M285.4 22.6h0M405 200.4h0M117.4 183.7h0M418.7 137.6h0M101.8 164.2h0M335.9 270.6h0M366.8 39.7h0M423.7 175h0M118.7 10.2h0M429.5 149.2h0M146.6 257.8h0M356.7 239.3h0M378 240.5h0M433.9 142.6h0M403.8 239.6h0M442 143.5h0M372.1 64.2h0M75.1 125.9h0M292.6 308.4h0M418.7 208.9h0M406.9 261h0M266.6 333.8h0M39.9 122h0M69.7 141.3h0M69 167.6h0M360.4 0.6h0M404.7 80.4h0M420.9 242.3h0M108.9 257.2h0M247.3 339.7h0M419.2 108.2h0M174.6 301.6h0M255.4 341.6h0M326.8 308h0M463.3 125.9h0M59.4 158.9h0M463.8 182.6h0M315.2 284.8h0M199.3 321.7h0M409.4 62.2h0M91.6 238.2h0M414.4 289.3h0M378.5 296.7h0M433.3 273.2h0M455.5 218.3h0M182.4 333.2h0M59.7 234.5h0M51.9 226.3h0M34.6 21.7h0M460.2 152.6h0M311.4 308.3h0M462.3 213.8h0M407.8 34.9h0M63.9 217.4h0M88.2 308.8h0M407.5 304.3h0M112.9 292.6h0M32.4 172.6h0M445.9 312.5h0M154.7 318.4h0M437.8 55.1h0M483 221.8h0M78.6 284.2h0M425 75.3h0M482.1 76.1h0M45.9 204.3h0M76.4 308.2h0M472.5 64.6h0M387.3 316.5h0M464.4 262.5h0M477.8 271.7h0M347.5 350.9h0M484.8 267.2h0M467.9 307.1h0M483.3 44.7h0M443.5 2.4h0M405.9 312.3h0M486.5 18h0"/>
<path stroke="#e6e6e6" stroke-width="6.4" d="M267.3 177h0M252.6 176.5h0M215.1 109.8h0M185.9 151.1h0M216.8 176.3h0M245.9 90.9h0M280.1 139.7h0M249.9 75.7h0M195.3 178.4h0M275.1 105.8h0M242.2 74.2h0M305.2 132.2h0M191 185.3h0M319.4 151.5h0M165.4 120.5h0M178.1 73.5h0M180.1 105.5h0M171.7 78.6h0M338.6 137.3h0M156.3 71.2h0M337.9 166.4h0M274.8 87.6h0M161.3 64.7h0M201.7 36.4h0M225.6 52h0M131.5 125.7h0M219.1 35.2h0M144 166.5h0M190.9 20.7h0M139.9 106.1h0M152.1 165.6h0M343.9 115.8h0M362.8 181.3h0M139.6 145.7h0M293.4 42.2h0M177.8 226.3h0M170.3 224h0M373.9 177.7h0M315 51.2h0M124.7 142.5h0M204.2 5.4h0M321.3 98h0M172.1 39.8h0M265.3 242.9h0M348.3 84.9h0M123.8 125.4h0M120.4 61.9h0M132.5 178.6h0M370.7 203h0M289.8 234.1h0M393.9 160.8h0M240.2 279.3h0M110.9 65h0M339.4 122.7h0M377.3 208.3h0M93.6 103.8h0M138.5 208.4h0M224 281.6h0M117.2 147.7h0M152.1 0.6h0M268.6 12.3h0M388 219.6h0M290.4 10.1h0M343.4 247.6h0M162 260.9h0M376.9 99.2h0M364.3 64.4h0M353.8 54.4h0M104.7 174.2h0M316.6 -6.6h0M179.7 260.7h0M372.9 233.5h0M361.8 55.1h0M382.4 93.1h0M155.1 220.7h0M99.3 19.6h0M391.7 93.4h0M375.9 46h0M386.8 257.2h0M358.8 23.7h0M226.7 297.1h0M391.7 76.2h0M378.1 248.8h0M58.1 129.5h0M322.5 287.7h0M378.6 257h0M83.4 148.8h0M381.8 266.1h0M384.7 35.1h0M364.3 261.4h0M123.8 262.5h0M437.6 149.9h0M389.8 264.8h0M357.4 292.2h0M421.9 234.4h0M409.6 276.4h0M448.7 177.9h0M42.1 70.3h0M35.1 65.8h0M150.5 282h0M426.2 194h0M82.5 14.9h0M468 153.8h0M325.9 315.8h0M83.1 208.9h0M434.8 185.5h0M69.7 202.3h0M437.4 238.1h0M428 296.5h0M130.7 280.2h0M43.8 212.2h0M447.9 92.3h0M77.8 246.6h0M380.6 311.9h0M43.9 8.4h0M32.8 153.2h0M186.8 348.6h0M388.1 3.8h0M486.7 192.6h0M415.7 34.7h0M44.8 229.8h0M370.4 309.8h0M440 39.5h0M380.5 320.2h0M102.8 311.3h0M467.1 220.3h0M88.9 319.7h0M131.8 320.6h0M426.1 58h0M141.8 342.3h0M416.3 323.5h0M451.9 51.8h0M479.5 60.4h0M421.3 329.4h0M36.3 303.2h0M472.5 292.8h0M68.2 322.5h0M489.7 226.6h0M482.6 259.3h0M128.7 349.4h0M47 348.3h0M52.8 269h0M470.9 21.7h0"/>
<path stroke="#eeeeee" stroke-width="5.2" d="M238.1 143.3h0M261.5 170.2h0M245.5 173.1h0M238.3 181.3h0M212.3 117.1h0M214.6 168.5h0M283.3 160.7h0M303.4 181.7h0M296.1 116.1h0M302 139.8h0M288.3 89.1h0M167.9 135.9h0M194.7 192.5h0M321.6 142.4h0M325 176.1h0M169.9 166h0M195.2 58.1h0M229.2 220.6h0M272 59.2h0M336.3 102.4h0M311.4 210.8h0M152.9 79.3h0M345.8 186.8h0M191.9 212.5h0M358.2 145.3h0M266.3 43.3h0M240.9 56.5h0M287.7 52.9h0M134.1 52.2h0M332.9 215.3h0M187.2 7.3h0M230.8 252.5h0M313.5 63.3h0M381.3 152.2h0M158.5 204.9h0M348 209h0M118.2 97.3h0M386.8 157.6h0M346.8 216.8h0M251 247.9h0M241.1 1.3h0M286.6 30.3h0M137.3 29.2h0M182.9 253.7h0M286.7 38.2h0M127.9 71h0M191.6 270.9h0M260.8 0.9h0M158.1 244.4h0M130.2 208.5h0M306.7 28.3h0M88.6 118.2h0M297.7 255h0M278.2 291h0M398.8 166.8h0M232.9 292.6h0M348.3 60.7h0M379.1 85.2h0M101.8 142.3h0M121.3 247.9h0M232.4 276.9h0M236.9 317.4h0M404.2 216.1h0M281.2 -4.8h0M346.2 7.4h0M425.5 159.2h0M89.6 47.1h0M342.6 21.9h0M210.4 293.1h0M401 268.5h0M338.9 263.5h0M328.5 282.2h0M110.9 9.3h0M104.9 25.6h0M343.5 273.3h0M94.2 262h0M89.9 227.6h0M356.4 283.7h0M50.1 127.9h0M62 146.6h0M223 313.5h0M350.2 294.8h0M102.9 -4.5h0M67 152.2h0M383.1 19.1h0M79.5 216.1h0M354.8 16.4h0M345.6 312.6h0M41 149.5h0M53.5 164.7h0M180.8 306.3h0M458.8 132.4h0M401.6 277.8h0M182.8 325.4h0M74.6 6.8h0M469.5 121.5h0M425.7 90.9h0M385.9 282.2h0M34 145.2h0M390.1 41h0M218.8 333h0M70 244.8h0M222 351.2h0M452.8 210.7h0M455.7 91.6h0M386.7 295.4h0M435.5 299.5h0M139.3 314.3h0M94.4 287.3h0M401.9 29.9h0M432.6 76.9h0M466.3 238.6h0M443.7 303.3h0M480.4 201h0M455 226.2h0M456.2 75.8h0M147.2 315.6h0M111 300.6h0M422.2 310.6h0M455.7 125.4h0M360.6 344.9h0M420.9 28.6h0M148.5 307.3h0M141.5 321.9h0M417.7 21.1h0M488.9 53.6h0M331 341.5h0M469.4 329.1h0M458.5 36.1h0M91.1 330.3h0M50.3 295.5h0M440.1 341.3h0M480.3 283.1h0M59 327.3h0M480.6 291.2h0M105.9 340h0M66.2 330.7h0M94.4 337.9h0M487.7 308.9h0M36.5 336.8h0M37.8 346.4h0"/>
<path stroke="#eeeeee" stroke-width="5.8" d="M231.8 153.5h0M235.9 160.4h0M230.2 145.6h0M224.4 151.1h0M229.6 174h0M207 151.7h0M251.8 106.2h0M282.4 132h0M223.2 187.8h0M254.8 184.6h0M252.5 86.7h0M194.8 157.3h0M280 115.1h0M280.9 100.3h0M260.1 101.5h0M221.9 208.9h0M168.3 143.4h0M251.9 203.7h0M212.4 209.6h0M320.3 134.8h0M295.4 85.5h0M222.7 216.6h0M339.8 181.9h0M259.4 211.5h0M212 227.8h0M144.8 98h0M180.1 206h0M356.4 166.9h0M361.3 200.5h0M341.9 204.2h0M195.7 41.9h0M343.8 100h0M310.4 225.3h0M115.8 90h0M158.7 196.8h0M201.7 239.5h0M139.3 182.1h0M335 159h0M331.2 77.9h0M166.1 50.6h0M132.4 41.8h0M143.7 188.9h0M353.5 222.1h0M377.3 186.6h0M120.8 132.8h0M105.1 70.7h0M109.3 148.8h0M323.9 240.5h0M179.1 233.9h0M100.6 108.2h0M107.1 127.6h0M400.4 146.4h0M405.5 162.8h0M381.5 224.7h0M320.6 64h0M175.5 240.9h0M368.1 218.9h0M143 23.4h0M165.1 230.1h0M144.1 15.3h0M79.2 96.1h0M132.7 215.4h0M271.4 269.4h0M293.6 2.8h0M113.7 37.2h0M216.9 270.1h0M289.4 -4.3h0M342.9 44.2h0M61.5 87.7h0M411.5 109.8h0M75.9 72.2h0M229 318.8h0M178 247.9h0M133.5 228.7h0M363.4 81.4h0M353.6 32h0M426.3 128.4h0M396.2 237.3h0M115.5 208.6h0M376.3 38h0M263.8 341.6h0M342 0.4h0M176.2 294.6h0M217.1 308h0M53.7 107.2h0M282.7 323.1h0M65.8 9.9h0M433.4 215.1h0M429.6 236.9h0M39.7 97.5h0M74.3 231.4h0M91.8 15.7h0M75.8 239h0M65.2 228.5h0M377.7 13.5h0M61.8 203.6h0M420.3 294.6h0M52 180.4h0M81.9 253h0M343.1 297.8h0M415.7 281.4h0M437.3 289h0M390.9 20.4h0M442.7 277.5h0M167.8 329h0M480.2 170.7h0M87.7 271.9h0M486 176.6h0M436.8 307.6h0M164.1 322h0M93.3 278.2h0M450.2 274.3h0M481.8 131.7h0M165.8 341.6h0M33.9 184.9h0M80.9 291.6h0M455.6 112.1h0M58.9 260.4h0M403.8 5.1h0M147.5 348h0M117.2 313.1h0M52.2 303.5h0M35.7 257.4h0M386.9 347.3h0M480.2 235.5h0M82.7 344.3h0M37 328h0M462.5 11.3h0M137.1 335.6h0"/>
<path stroke="#eeeeee" stroke-width="6.4" d="M254.2 128h0M230.7 122.9h0M237.9 113.7h0M271.1 169.9h0M265.6 118.8h0M289.9 130.4h0M223.5 127.2h0M291.4 146.7h0M307.3 161.5h0M223.7 80.7h0M240.2 189.3h0M245.4 196.6h0M219.9 195.3h0M290.8 110.4h0M191 96.8h0M288.7 102.8h0M270.9 112.6h0M229.7 211.5h0M286 180.7h0M171.3 181.7h0M291.9 96.1h0M229.7 75.7h0M171.1 68.6h0M259 109.9h0M242.8 212.3h0M261.9 57h0M285.9 60.8h0M290.1 212.5h0M146.4 120.2h0M182 49.2h0M256.5 218.7h0M279.4 56.4h0M325.7 212h0M148.4 105.2h0M226.2 40.9h0M127.9 118.4h0M233.8 235.5h0M208.3 22.1h0M319.8 90h0M142.9 90.1h0M327.7 92h0M121.7 104.3h0M132.6 77.5h0M362 189.3h0M365.5 148.2h0M294.6 227.5h0M307.9 80.5h0M223.9 248.8h0M349.9 107.3h0M363.1 132.3h0M354.5 92.6h0M237.3 256.5h0M244.3 30.4h0M356.5 85.2h0M277.7 25.2h0M228.4 12.2h0M258.8 257.7h0M387.1 133.4h0M372.6 114.1h0M252.5 0.6h0M113.4 57.3h0M345.8 224.4h0M105.8 51.5h0M264.4 273.5h0M114.2 155.3h0M84.7 102.2h0M95.7 114.4h0M292.6 281.1h0M91.2 69.7h0M299.8 284.1h0M324.9 41.1h0M318.5 35.2h0M399.7 179.6h0M408.6 147.6h0M329.5 265.8h0M346.7 51.1h0M321.6 262.9h0M72.8 118.1h0M67.9 73.6h0M417.9 145.6h0M260.3 317.2h0M131.8 258.8h0M90.3 126.2h0M396.1 245.4h0M116.3 216.1h0M403.9 224h0M69.3 51.1h0M94.7 178.4h0M99.1 149.4h0M182.3 273.5h0M154 261.2h0M257.8 325.7h0M103 3.8h0M370.5 256.6h0M414.3 232.1h0M350.4 0.3h0M358.2 266.7h0M39.2 82.5h0M356.7 258.6h0M50.5 71.2h0M426.2 269.1h0M188.3 303.3h0M238.6 345.3h0M436.5 193.2h0M76.8 199.5h0M212.6 314.3h0M402.2 59.6h0M84.4 201h0M36 33.8h0M105.2 14.6h0M376.7 304.7h0M141.7 292.4h0M472 184h0M325.8 323.9h0M65 -5.7h0M478 178.3h0M309.8 348h0M33.3 241.3h0M365.8 316.3h0M361.5 323.1h0M483.3 86.2h0M423.7 65.6h0M453.1 289.1h0M81.8 277h0M149.2 299.2h0M38.5 178h0M57.9 8h0M38 217.7h0M409.5 42.5h0M45.9 77.9h0M438.4 71.1h0M429 29.9h0M432.2 38h0M55.4 245.8h0M57.6 275.6h0M389.6 337.1h0M454.3 328.4h0M86.4 337h0M490.6 260.6h0M451.8 32.8h0M488.6 282.9h0M471.9 13.5h0"/>
<path stroke="#f6f6f6" stroke-width="5.2" d="M215.2 139.3h0M230 165.9h0M222.4 113.2h0M245.7 114.1h0M222.7 169.6h0M295.5 154.4h0M290 174.3h0M230.7 192.2h0M205.6 112.6h0M281.9 174.1h0M215.6 80.6h0M268.7 100.5h0M281.4 92.4h0M215 72.5h0M174.8 131.9h0M303.5 154.3h0M236.1 216.5h0M237.3 197h0M313.9 198.1h0M285.2 197.8h0M288.8 81.1h0M259.8 203.4h0M165 73.8h0M333.9 187.6h0M275.1 208h0M284.6 68.8h0M315.7 110.4h0M148.2 72.8h0M187.8 43.4h0M308.4 204.1h0M330.3 107.4h0M179.9 24.1h0M204.8 212.5h0M241.3 238.3h0M225.9 235.3h0M198.3 217.3h0M248.8 232.1h0M202.9 196.6h0M145.1 81.6h0M231.6 46.6h0M204 28.9h0M272.5 38.4h0M221.6 27.5h0M193.4 12.9h0M293.6 58h0M271.5 30.5h0M129.1 165.2h0M265.9 235.1h0M251.1 255.9h0M352.3 129.1h0M109.8 141.1h0M235.1 16.5h0M369.7 184.6h0M320 233.8h0M99.2 129.4h0M388.9 167h0M256.2 273.9h0M269.3 22.9h0M347.4 68.8h0M130.1 157.5h0M112.7 72.9h0M125.7 182.8h0M122.8 161.3h0M159.9 6.7h0M404.1 172.8h0M174.8 254.5h0M71.4 98.7h0M79.9 111.9h0M285.4 285.4h0M336.1 6.3h0M295.7 262.6h0M411.4 132.3h0M91.2 151.2h0M225.1 289.4h0M391.2 226.5h0M370.7 84.5h0M339.2 13.7h0M340.6 36.5h0M375.3 77.9h0M76.3 61.7h0M63.5 97.2h0M230 307.9h0M99 31h0M394 253.3h0M114.7 234.1h0M218.9 294.3h0M184.1 296.3h0M274.6 322.4h0M60.7 64.9h0M103.8 250.6h0M151.7 272.8h0M369.8 248.9h0M308.1 271.2h0M79.1 177.6h0M93.8 220.3h0M276.9 330.1h0M439.5 165.4h0M110.1 -0.3h0M377.2 54h0M53.4 136.1h0M429.9 120.6h0M57.3 114.2h0M67.3 30.4h0M438.6 174.1h0M122 153.9h0M120 269.2h0M274.4 347.9h0M52.4 26.8h0M81.2 184.8h0M57.8 17.8h0M462.5 139.4h0M439.5 210h0M212.6 328.7h0M445.7 214.8h0M83.2 -1.5h0M71.7 216.1h0M418.5 84.4h0M436.1 230h0M225.2 337.1h0M87.6 257.9h0M410 54.3h0M199.4 338.3h0M369.3 302h0M83 264.6h0M446.3 206h0M138.6 279.3h0M33.7 194.2h0M461.1 290.9h0M422.4 50.3h0M430.4 51.5h0M409.4 319.5h0M467.7 286.2h0M488.3 215h0M32.8 211.5h0M487.2 125.6h0M53.9 202.8h0M455.1 312.3h0M103.4 303.4h0M472.5 56h0M487.8 93.1h0M397.9 53.4h0M61.5 299.8h0M449.5 66.5h0M95.9 323.9h0M125.1 308.1h0M78.3 337.3h0M46.7 288h0M99.1 344.7h0M36.4 319.5h0M441.4 16.7h0M448.9 349.4h0M455.5 25.2h0M462.8 340.7h0M52.1 341.4h0M440.8 350.6h0"/>
<path stroke="#f6f6f6" stroke-width="5.8" d="M240 135.4h0M261.1 153.4h0M267 136h0M224.3 135.6h0M238 98.9h0M229.8 99.7h0M271.2 126.8h0M253 98h0M295.5 168.5h0M283.3 146.9h0M198.1 106.6h0M292.7 183.9h0M266.5 92.9h0M200 118.3h0M209.1 62.9h0M173.9 47.9h0M184.9 180.1h0M243.9 204.4h0M165.2 150.2h0M298.7 100.8h0M188.3 205.2h0M318.7 125.6h0M332.5 179.5h0M189.3 52.6h0M251 211.5h0M329.4 197.5h0M221.3 228.7h0M270.5 201.4h0M255.6 61.7h0M152.2 56.7h0M157.1 171.5h0M246.8 51.1h0M326.4 204.6h0M135.5 68.8h0M370.6 135h0M129.6 63.3h0M156.3 107.1h0M175.6 31.2h0M216.4 246.3h0M334 207.1h0M306.3 65.4h0M109 94.3h0M325.1 227.7h0M116.1 80.1h0M104.1 79.5h0M129 193.6h0M382.2 118.8h0M398.4 154.3h0M305.6 236.5h0M322.4 48.4h0M238.4 287.2h0M248.6 7.6h0M127.5 25.6h0M77.7 88h0M292.6 289.3h0M217.5 286.3h0M96.5 122.2h0M369.7 72h0M125.5 6.3h0M97 157.1h0M78 142h0M54.3 91.7h0M89 158.4h0M402.1 95.6h0M268.3 317.6h0M387.3 86.5h0M394.9 83.6h0M379.7 62.4h0M101 257.9h0M88.7 133.8h0M130.4 266.5h0M300.1 307.2h0M96.7 246.3h0M85.9 220.5h0M411.8 239.5h0M67.3 160.1h0M406.3 231.8h0M54.2 144.1h0M91.2 5.7h0M322.2 296h0M41.1 60.2h0M342.1 290.1h0M240.5 334.9h0M194.6 310.2h0M452.5 155.1h0M46.7 88.7h0M336.4 303.7h0M453.4 137.7h0M65.9 17.8h0M204.8 327.8h0M369.7 293.4h0M88.5 248.3h0M223.5 326.3h0M410.1 71.3h0M214.2 348.5h0M427.7 229h0M304.9 321.2h0M339.1 334.6h0M444 252.7h0M95.2 269.7h0M346.2 339.5h0M433.7 91.9h0M392.1 28.3h0M41.3 242.5h0M421.5 302.5h0M487.9 184.6h0M106.5 287.6h0M455.3 194.2h0M384.4 303.4h0M307.2 339.5h0M138.5 299.2h0M401.8 40.2h0M390.6 -4.1h0M74.9 263h0M192.1 342.2h0M140.9 306.5h0M34.9 75.5h0M399.4 294.6h0M478.4 193.5h0M440.3 78.9h0M330.9 349.7h0M132.3 294.1h0M352.5 344.4h0M405.1 13.1h0M398.3 23h0M436.6 31.6h0M155.6 348.5h0M475 220.5h0M481.8 243.6h0M413 334.9h0M60.9 268.1h0M100.8 333.7h0M111.3 326.5h0M108.9 349.7h0M417 349.9h0M74.1 330.4h0M484.6 -1.8h0"/>
<path stroke="#f6f6f6" stroke-width="6.4" d="M239.1 151.1h0M239 86.9h0M211 182.1h0M192.7 121.5h0M192.8 68.1h0M179.3 146.9h0M171.4 58.6h0M315.5 165.8h0M313.2 131.9h0M303.9 116.4h0M330.4 136.9h0M183.2 98.2h0M235.5 62.2h0M282 76.3h0M297.4 209.6h0M325.8 122.2h0M146.5 134.8h0M143.5 127.5h0M286.5 227.1h0M216.1 234.9h0M254.3 53.8h0M160.1 127.1h0M205.3 223.3h0M325.3 84.5h0M183.5 220.6h0M346.7 92.8h0M139.9 138.3h0M368.5 172.1h0M264.7 252.4h0M192.9 231.5h0M361.9 118.4h0M371.6 143.1h0M361.4 214.9h0M224.7 266.2h0M354 214h0M249.7 36.5h0M293.3 23.9h0M276.3 254.8h0M406.5 155.1h0M97.7 96.7h0M97.9 74.1h0M276.1 263.2h0M313.4 13.7h0M321.4 13h0M102.9 118.5h0M350.6 230.2h0M263.5 297.9h0M330.9 12.9h0M312.7 258.7h0M308.4 42.1h0M351.2 245.3h0M214.9 278.5h0M241.1 271.6h0M369.6 56.4h0M396.2 217.7h0M163.8 26.1h0M305.4 255.5h0M358.4 39.1h0M307.6 294h0M201.7 286.3h0M76.6 53.6h0M244.7 319.2h0M79.5 38.1h0M272.1 277.2h0M113.7 250.7h0M418.8 129.7h0M45.7 106.7h0M321.2 279.5h0M417.3 197.6h0M394.2 60.2h0M159.5 98.1h0M313.6 277h0M91.1 32.3h0M373.8 263.8h0M45.2 115.5h0M350.6 23.6h0M422.3 152.2h0M122.5 189.8h0M427.4 279h0M421.9 286.4h0M430.6 179h0M39.9 52.1h0M384.3 27h0M60.7 139.1h0M404.2 48.6h0M375.5 22h0M112.9 265.7h0M355.5 -6.1h0M137 247.2h0M190.8 325.9h0M394 280.7h0M428.6 253.1h0M439.2 201.9h0M319 320h0M315.1 341.9h0M319.3 328.3h0M400.1 286.2h0M323.3 343.9h0M338.9 342.8h0M93.8 24.9h0M51.3 210.3h0M48.3 192.1h0M414.7 48.3h0M461.9 97.8h0M176.4 343.5h0M41.1 16.2h0M477.4 123.4h0M34.1 164.5h0M405.8 -3h0M86.9 283.4h0M67 209.8h0M462.6 226.4h0M412.1 5.7h0M31.5 230.9h0M474 240.8h0M479.7 68.5h0M117.7 304.9h0M95.3 314.8h0M446.3 73.8h0M381.8 336h0M446.3 330h0M427.4 14.3h0M424.1 321.7h0M466.7 112.6h0M475.5 249h0M144.4 331.6h0M117.4 321.2h0M438.7 333.3h0M46.2 273.6h0M113.6 342.9h0M58.3 335.9h0M417.6 341.7h0M472.5 313.9h0M487.9 28.8h0M488.4 234.7h0M126.5 341.4h0M118.7 329.6h0M463.4 19.5h0M481 11.7h0"/>
<path stroke="#fefefe" stroke-width="5.2" d="M245.9 141h0M242 165.8h0M258.8 161.5h0M206.2 139h0M264.5 184.7h0M212.3 126.2h0M273.6 119.6h0M208.2 97.3h0M298.8 187.9h0M271.4 193.4h0M167.7 128.1h0M306.3 189.2h0M293 202.1h0M299.9 78.9h0M257.5 76.6h0M197.9 49.8h0M212 31h0M348.3 193.9h0M150.6 87.2h0M198.5 207.8h0M336.4 199.3h0M161.7 165h0M342.2 107.8h0M328.9 99.7h0M117 117.2h0M137.5 84.1h0M229.4 25.3h0M137 113.8h0M172.3 204.4h0M210.9 217.6h0M126.9 55.9h0M164.5 42.5h0M238.7 264.2h0M332.7 230.9h0M309.9 21h0M172 15.8h0M210.3 250.5h0M217.8 262h0M196.5 247.2h0M249.2 19.2h0M389.9 116.2h0M246.5 262.4h0M390.2 212h0M322.3 26.7h0M224.3 -3.3h0M323 77.4h0M269.3 258.9h0M249 278h0M283 267.8h0M186.6 236.1h0M340.1 64.4h0M386.8 174.6h0M118.5 43.7h0M136.2 167.7h0M391.3 181.3h0M287 275.8h0M404.8 186h0M210.6 265.6h0M404.9 208.1h0M245.3 285.3h0M331.4 238.4h0M128.7 222.4h0M267.2 -4.3h0M325.9 33.5h0M412.7 186.2h0M246.1 311.2h0M355.3 69.4h0M394.2 108.6h0M121.4 229.7h0M409.3 178.9h0M144.1 233.4h0M409 117.2h0M95.9 186.3h0M386.4 249.1h0M106.9 235.9h0M366.2 229h0M328.5 274h0M97.4 171.1h0M107.5 207.5h0M118.3 1.1h0M279.3 315.8h0M384.8 56.3h0M107.4 243.7h0M367.3 23.5h0M191.8 293.9h0M384.1 79h0M369.3 31.8h0M424.6 114.4h0M73 43.9h0M445.5 151h0M329 292h0M415.7 174h0M390.4 51h0M61.6 43.6h0M363.5 8.3h0M65.4 132.9h0M363.7 287.8h0M283.6 335h0M71.3 23.6h0M424.8 219.9h0M249.6 348.4h0M344.8 305.1h0M349.2 286.7h0M182.6 317.8h0M204.4 315.3h0M304.9 313.2h0M319.8 303.8h0M235.9 325.3h0M436.7 246.3h0M426.6 185.9h0M67.8 2h0M105.1 264.5h0M367.6 -3.4h0M157.1 286.8h0M176.6 313h0M70.8 193.5h0M61.1 166.6h0M156.1 294.8h0M47.6 173.7h0M458.8 105.3h0M442.2 295.1h0M63.9 173.8h0M346.7 331.5h0M100.4 282.2h0M413.1 298.5h0M161.2 333.4h0M49.2 -4.4h0M397.9 311.2h0M312 316.4h0M479.9 214.2h0M452.7 249.1h0M491.3 116.1h0M433.6 62h0M73.5 278h0M437.2 315.7h0M479.9 185.9h0M149.3 339.9h0M65.8 313h0M473.4 278.7h0M441.7 63.9h0M432.2 322.2h0M134.1 343.3h0M430.8 5h0M94.4 253.8h0M402 329.9h0M478.4 334h0M43.8 300.1h0M479.7 299.3h0M42.7 280.9h0M469.1 231.1h0M95.1 351.9h0M463.1 27.6h0M477.7 35.4h0M469.5 345.5h0M480.6 313.3h0M465.8 -3.8h0"/>
<path stroke="#fefefe" stroke-width="5.8" d="M243.5 157.7h0M226.2 158.9h0M246.6 149h0M274.3 149h0M274.6 160.4h0M235.7 106.2h0M217.2 131.9h0M259.8 178.3h0M226.3 92h0M248.4 189.3h0M219.8 87.5h0M199.3 126.2h0M193.1 80.6h0M297.7 129.7h0M195.1 89.9h0M210.6 145.3h0M174.1 123.7h0M172.9 173.8h0M318.6 181h0M310.7 124.6h0M321.8 161.2h0M206.2 42.9h0M314.5 145h0M284.5 219.5h0M259.2 68.9h0M180.4 90.7h0M266.4 207.8h0M192.9 34.2h0M164 104.6h0M137.3 60.7h0M265.2 77.8h0M239.2 48.7h0M292.1 66h0M258.4 232h0M378.6 136.7h0M126.1 47h0M381.3 179.8h0M283 259.7h0M309.2 57.1h0M189.3 249.3h0M111.9 102h0M208 234.4h0M361 97h0M184.1 243.2h0M147.5 210.9h0M232.7 -3h0M223.7 274h0M171.4 -0.6h0M373.5 162.1h0M104.5 154.7h0M298.3 274.6h0M153.4 12h0M297.7 -4.3h0M142.5 241.3h0M105.9 199.9h0M159.8 252.4h0M334.6 20.2h0M128 234.1h0M121.2 221.9h0M409 193.4h0M326.2 129.9h0M363 244.5h0M124.6 255.1h0M433.9 128.3h0M258.4 333.9h0M134.7 -3.8h0M420.8 251.6h0M335.1 286.6h0M61.6 51.7h0M99.8 239.2h0M426.5 105.6h0M60.1 34.1h0M135.2 272.4h0M371.8 7.6h0M394.3 68.3h0M272.1 339.9h0M37.2 113.7h0M411.9 224.5h0M280.7 342.7h0M431.5 199.5h0M36.1 90.1h0M452.6 118.9h0M78.3 191.9h0M44.2 32.3h0M71.9 223.9h0M84.1 241.4h0M107.2 278h0M416.1 65.5h0M149.6 290.4h0M285.5 350h0M470.4 176.5h0M293.7 349h0M328.1 334.1h0M172.2 336.4h0M59.1 223.4h0M469.1 161.4h0M450.1 106.5h0M448 266.4h0M417.9 57.1h0M312.4 324.4h0M451.8 304.7h0M452.5 240.9h0M472.7 74.5h0M171.8 350.3h0M488.6 136.2h0M157.4 340.5h0M460 305.8h0M426.3 22.4h0M103.6 326.7h0M461.4 324.4h0M429.1 -3h0M424.1 336.6h0M413.9 -2.6h0M129.2 332.6h0M398.8 337.2h0M487.8 300.7h0M433.8 346.4h0M487 6.1h0M454 6.9h0"/>
<path stroke="#fefefe" stroke-width="6.4" d="M253.2 153.3h0M252 135.9h0M246.2 130h0M259.6 133.7h0M279.7 154.1h0M213.1 157h0M230.2 115.2h0M287.7 153.9h0M205.7 131.1h0M203.3 179.6h0M193.3 167.6h0M242.4 66.2h0M215 189h0M187 158.9h0M216.9 202.8h0M300.8 202.7h0M326.4 190.9h0M299.4 161.5h0M282.1 211.9h0M206.1 204.2h0M180.9 57h0M152.2 95.1h0M187.2 27.9h0M268 52h0M351.4 159.5h0M184.8 35.6h0M277 217.5h0M165 172.3h0M237.3 41h0M235.8 224.7h0M252.8 45.6h0M264 219h0M221.4 241.1h0M220.4 12h0M272.9 239.6h0M196 5.1h0M342.1 130.1h0M194.7 113.4h0M212.4 6.6h0M355.8 206.2h0M258.7 247.6h0M204.9 13.7h0M224.2 19.2h0M360.2 105h0M302.3 36.6h0M155.6 212.5h0M316.4 43.1h0M252.3 285.5h0M370.5 211.4h0M254.5 24.9h0M78.5 79.9h0M158.5 20h0M249.9 304.1h0M84.6 74.5h0M77 104.4h0M151.9 35h0M91.9 54.8h0M120.8 176.7h0M142.9 225.7h0M146.7 180h0M122.8 205.9h0M84.3 53.4h0M111.1 20.3h0M112.2 29.2h0M204.2 278.8h0M367.9 47.9h0M143 -3.8h0M272 303h0M150.5 19.8h0M91.2 205.7h0M423.9 167h0M89 170h0M335.5 278.5h0M361.9 73.6h0M133.1 4.1h0M391.2 272.9h0M402.2 254.4h0M157.6 228.6h0M147.3 265.9h0M286.6 313.1h0M370.3 15.7h0M54.1 50.3h0M419.9 226.3h0M362.6 16.5h0M377 30h0M53.5 42.4h0M431.8 111.5h0M445.5 136.5h0M108.6 160.7h0M67.5 38.2h0M335.8 295.5h0M298.9 340h0M449.5 129.9h0M408 284.4h0M332.7 319.7h0M381.2 288.9h0M192 317.9h0M55.8 173h0M388.7 12.5h0M175 321.1h0M214.9 340.3h0M208 335.6h0M353 308.9h0M190.4 334.2h0M33.3 13.6h0M426.5 83.1h0M440.3 268.9h0M49 241.6h0M476.5 81.8h0M51.7 234.3h0M467.5 205.8h0M44.7 183.1h0M390 309.2h0M351.3 318h0M470.8 139.7h0M354.2 334.6h0M402 321.9h0M463.3 89.9h0M102.3 319.1h0M70.7 286.3h0M465.2 278.5h0M82.7 302.9h0M44.1 265.6h0M464.3 56.2h0M62.8 291.5h0M463.6 314.4h0M76.5 298.2h0M75 208.7h0M110.2 317.2h0M375.6 341h0M467.9 49.2h0M488.8 291.2h0M455.6 344.7h0M448.2 341.1h0M449 18.4h0M461.9 332.5h0M432.2 338.2h0M484.3 251.3h0M478.5 19.4h0"/>
</g>
<circle cx="361" cy="82" r="14" fill="url(#blob)"/>
<circle cx="430" cy="82" r="12" fill="url(#blob)"/>
<circle cx="270" cy="110" r="12" fill="url(#blob)"/>
<circle cx="340" cy="129" r="10" fill="url(#blob)"/>
<circle cx="205" cy="129" r="10" fill="url(#blob)"/>
<circle cx="300" cy="40" r="10" fill="url(#blob)"/>
<circle cx="420" cy="200" r="14" fill="url(#blob)"/>
<circle cx="245" cy="300" r="12" fill="url(#blob)"/>
<circle cx="330" cy="255" r="10" fill="url(#blob)"/>
<circle cx="400" cy="290" r="12" fill="url(#blob)"/>
<circle cx="190" cy="330" r="12" fill="url(#blob)"/>
<circle cx="120" cy="300" r="14" fill="url(#blob)"/>
<circle cx="455" cy="150" r="16" fill="url(#blob)"/>
<circle cx="455" cy="250" r="16" fill="url(#blob)"/>
<circle cx="280" cy="190" r="9" fill="url(#blob)"/>
<circle cx="390" cy="160" r="10" fill="url(#blob)"/>
<circle cx="75" cy="270" r="12" fill="url(#blob)"/>
<circle cx="230" cy="220" r="9" fill="url(#blob)"/>
<rect x="40.0" y="1.0" width="443.0" height="343.0" fill="url(#shadeAx)"/>
<rect x="40.0" y="1.0" width="443.0" height="343.0" fill="url(#shadeAy)"/>
<rect x="40.0" y="1.0" width="443.0" height="343.0" fill="url(#shadeBL)"/>
</g>
<g filter="url(#blurI)" shape-rendering="crispEdges">
<rect x="47" y="8.7" width="119.4" height="117.9" fill="#bbb"/>
<rect x="47" y="8.7" width="6.1" height="4.6" fill="#b9b9b9"/>
<rect x="52.8" y="8.7" width="7.3" height="4.6" fill="#bebebe"/>
<rect x="59.8" y="8.7" width="7.3" height="4.6" fill="#c0c0c0"/>
<rect x="66.8" y="8.7" width="7.3" height="4.6" fill="#bebebe"/>
<rect x="73.8" y="8.7" width="7.3" height="4.6" fill="#b9b9b9"/>
<rect x="80.8" y="8.7" width="7.3" height="4.6" fill="#aaaaaa"/>
<rect x="87.8" y="8.7" width="7.3" height="4.6" fill="#aaaaaa"/>
<rect x="94.8" y="8.7" width="7.3" height="4.6" fill="#bebebe"/>
<rect x="101.8" y="8.7" width="7.3" height="4.6" fill="#c3c3c3"/>
<rect x="108.8" y="8.7" width="7.3" height="4.6" fill="#c3c3c3"/>
<rect x="115.8" y="8.7" width="7.3" height="4.6" fill="#c3c3c3"/>
<rect x="122.8" y="8.7" width="7.3" height="4.6" fill="#bebebe"/>
<rect x="129.8" y="8.7" width="7.3" height="4.6" fill="#b9b9b9"/>
<rect x="136.8" y="8.7" width="7.3" height="4.6" fill="#b9b9b9"/>
<rect x="143.8" y="8.7" width="7.3" height="4.6" fill="#cdcdcd"/>
<rect x="150.8" y="8.7" width="7.3" height="4.6" fill="#d2d2d2"/>
<rect x="157.8" y="8.7" width="6.9" height="4.6" fill="#d2d2d2"/>
<rect x="47" y="13" width="6.1" height="7.3" fill="#b9b9b9"/>
<rect x="52.8" y="13" width="7.3" height="7.3" fill="#a5a5a5"/>
<rect x="59.8" y="13" width="7.3" height="7.3" fill="#9b9b9b"/>
<rect x="66.8" y="13" width="7.3" height="7.3" fill="#919191"/>
<rect x="73.8" y="13" width="7.3" height="7.3" fill="#8c8c8c"/>
<rect x="80.8" y="13" width="7.3" height="7.3" fill="#8c8c8c"/>
<rect x="87.8" y="13" width="7.3" height="7.3" fill="#919191"/>
<rect x="94.8" y="13" width="7.3" height="7.3" fill="#969696"/>
<rect x="101.8" y="13" width="7.3" height="7.3" fill="#aaaaaa"/>
<rect x="108.8" y="13" width="7.3" height="7.3" fill="#aaaaaa"/>
<rect x="115.8" y="13" width="7.3" height="7.3" fill="#aaaaaa"/>
<rect x="122.8" y="13" width="7.3" height="7.3" fill="#a5a5a5"/>
<rect x="129.8" y="13" width="7.3" height="7.3" fill="#a5a5a5"/>
<rect x="136.8" y="13" width="7.3" height="7.3" fill="#afafaf"/>
<rect x="143.8" y="13" width="7.3" height="7.3" fill="#bebebe"/>
<rect x="150.8" y="13" width="7.3" height="7.3" fill="#cdcdcd"/>
<rect x="157.8" y="13" width="6.9" height="7.3" fill="#cdcdcd"/>
<rect x="47" y="20" width="6.1" height="7.3" fill="#c3c3c3"/>
<rect x="52.8" y="20" width="7.3" height="7.3" fill="#b9b9b9"/>
<rect x="59.8" y="20" width="7.3" height="7.3" fill="#a5a5a5"/>
<rect x="66.8" y="20" width="7.3" height="7.3" fill="#8c8c8c"/>
<rect x="73.8" y="20" width="7.3" height="7.3" fill="#787878"/>
<rect x="80.8" y="20" width="7.3" height="7.3" fill="#828282"/>
<rect x="87.8" y="20" width="7.3" height="7.3" fill="#8c8c8c"/>
<rect x="94.8" y="20" width="7.3" height="7.3" fill="#8c8c8c"/>
<rect x="101.8" y="20" width="7.3" height="7.3" fill="#919191"/>
<rect x="108.8" y="20" width="7.3" height="7.3" fill="#919191"/>
<rect x="115.8" y="20" width="7.3" height="7.3" fill="#969696"/>
<rect x="122.8" y="20" width="7.3" height="7.3" fill="#9b9b9b"/>
<rect x="129.8" y="20" width="7.3" height="7.3" fill="#a0a0a0"/>
<rect x="136.8" y="20" width="7.3" height="7.3" fill="#aaaaaa"/>
<rect x="143.8" y="20" width="7.3" height="7.3" fill="#aaaaaa"/>
<rect x="150.8" y="20" width="7.3" height="7.3" fill="#aaaaaa"/>
<rect x="157.8" y="20" width="6.9" height="7.3" fill="#aaaaaa"/>
<rect x="47" y="27" width="6.1" height="7.3" fill="#bebebe"/>
<rect x="52.8" y="27" width="7.3" height="7.3" fill="#b9b9b9"/>
<rect x="59.8" y="27" width="7.3" height="7.3" fill="#aaaaaa"/>
<rect x="66.8" y="27" width="7.3" height="7.3" fill="#919191"/>
<rect x="73.8" y="27" width="7.3" height="7.3" fill="#828282"/>
<rect x="80.8" y="27" width="7.3" height="7.3" fill="#919191"/>
<rect x="87.8" y="27" width="7.3" height="7.3" fill="#9b9b9b"/>
<rect x="94.8" y="27" width="7.3" height="7.3" fill="#9b9b9b"/>
<rect x="101.8" y="27" width="7.3" height="7.3" fill="#969696"/>
<rect x="108.8" y="27" width="7.3" height="7.3" fill="#8c8c8c"/>
<rect x="115.8" y="27" width="7.3" height="7.3" fill="#969696"/>
<rect x="122.8" y="27" width="7.3" height="7.3" fill="#9b9b9b"/>
<rect x="129.8" y="27" width="7.3" height="7.3" fill="#8c8c8c"/>
<rect x="136.8" y="27" width="7.3" height="7.3" fill="#969696"/>
<rect x="143.8" y="27" width="7.3" height="7.3" fill="#969696"/>
<rect x="150.8" y="27" width="7.3" height="7.3" fill="#a5a5a5"/>
<rect x="157.8" y="27" width="6.9" height="7.3" fill="#aaaaaa"/>
<rect x="47" y="34" width="6.1" height="7.3" fill="#b9b9b9"/>
<rect x="52.8" y="34" width="7.3" height="7.3" fill="#b4b4b4"/>
<rect x="59.8" y="34" width="7.3" height="7.3" fill="#afafaf"/>
<rect x="66.8" y="34" width="7.3" height="7.3" fill="#a0a0a0"/>
<rect x="73.8" y="34" width="7.3" height="7.3" fill="#a5a5a5"/>
<rect x="80.8" y="34" width="7.3" height="7.3" fill="#afafaf"/>
<rect x="87.8" y="34" width="7.3" height="7.3" fill="#afafaf"/>
<rect x="94.8" y="34" width="7.3" height="7.3" fill="#afafaf"/>
<rect x="101.8" y="34" width="7.3" height="7.3" fill="#a5a5a5"/>
<rect x="108.8" y="34" width="7.3" height="7.3" fill="#919191"/>
<rect x="115.8" y="34" width="7.3" height="7.3" fill="#a0a0a0"/>
<rect x="122.8" y="34" width="7.3" height="7.3" fill="#a5a5a5"/>
<rect x="129.8" y="34" width="7.3" height="7.3" fill="#a5a5a5"/>
<rect x="136.8" y="34" width="7.3" height="7.3" fill="#aaaaaa"/>
<rect x="143.8" y="34" width="7.3" height="7.3" fill="#aaaaaa"/>
<rect x="150.8" y="34" width="7.3" height="7.3" fill="#afafaf"/>
<rect x="157.8" y="34" width="6.9" height="7.3" fill="#afafaf"/>
<rect x="47" y="41" width="6.1" height="7.3" fill="#b4b4b4"/>
<rect x="52.8" y="41" width="7.3" height="7.3" fill="#b4b4b4"/>
<rect x="59.8" y="41" width="7.3" height="7.3" fill="#b4b4b4"/>
<rect x="66.8" y="41" width="7.3" height="7.3" fill="#b9b9b9"/>
<rect x="73.8" y="41" width="7.3" height="7.3" fill="#c3c3c3"/>
<rect x="80.8" y="41" width="7.3" height="7.3" fill="#c8c8c8"/>
<rect x="87.8" y="41" width="7.3" height="7.3" fill="#c8c8c8"/>
<rect x="94.8" y="41" width="7.3" height="7.3" fill="#c3c3c3"/>
<rect x="101.8" y="41" width="7.3" height="7.3" fill="#b4b4b4"/>
<rect x="108.8" y="41" width="7.3" height="7.3" fill="#a5a5a5"/>
<rect x="115.8" y="41" width="7.3" height="7.3" fill="#a0a0a0"/>
<rect x="122.8" y="41" width="7.3" height="7.3" fill="#afafaf"/>
<rect x="129.8" y="41" width="7.3" height="7.3" fill="#afafaf"/>
<rect x="136.8" y="41" width="7.3" height="7.3" fill="#afafaf"/>
<rect x="143.8" y="41" width="7.3" height="7.3" fill="#afafaf"/>
<rect x="150.8" y="41" width="7.3" height="7.3" fill="#b4b4b4"/>
<rect x="157.8" y="41" width="6.9" height="7.3" fill="#b4b4b4"/>
<rect x="47" y="48" width="6.1" height="7.3" fill="#b4b4b4"/>
<rect x="52.8" y="48" width="7.3" height="7.3" fill="#b4b4b4"/>
<rect x="59.8" y="48" width="7.3" height="7.3" fill="#b4b4b4"/>
<rect x="66.8" y="48" width="7.3" height="7.3" fill="#c3c3c3"/>
<rect x="73.8" y="48" width="7.3" height="7.3" fill="#c8c8c8"/>
<rect x="80.8" y="48" width="7.3" height="7.3" fill="#cdcdcd"/>
<rect x="87.8" y="48" width="7.3" height="7.3" fill="#cdcdcd"/>
<rect x="94.8" y="48" width="7.3" height="7.3" fill="#c8c8c8"/>
<rect x="101.8" y="48" width="7.3" height="7.3" fill="#bebebe"/>
<rect x="108.8" y="48" width="7.3" height="7.3" fill="#afafaf"/>
<rect x="115.8" y="48" width="7.3" height="7.3" fill="#a5a5a5"/>
<rect x="122.8" y="48" width="7.3" height="7.3" fill="#a5a5a5"/>
<rect x="129.8" y="48" width="7.3" height="7.3" fill="#aaaaaa"/>
<rect x="136.8" y="48" width="7.3" height="7.3" fill="#afafaf"/>
<rect x="143.8" y="48" width="7.3" height="7.3" fill="#afafaf"/>
<rect x="150.8" y="48" width="7.3" height="7.3" fill="#b4b4b4"/>
<rect x="157.8" y="48" width="6.9" height="7.3" fill="#b9b9b9"/>
<rect x="47" y="55" width="6.1" height="7.3" fill="#b4b4b4"/>
<rect x="52.8" y="55" width="7.3" height="7.3" fill="#b4b4b4"/>
<rect x="59.8" y="55" width="7.3" height="7.3" fill="#b4b4b4"/>
<rect x="66.8" y="55" width="7.3" height="7.3" fill="#c8c8c8"/>
<rect x="73.8" y="55" width="7.3" height="7.3" fill="#cdcdcd"/>
<rect x="80.8" y="55" width="7.3" height="7.3" fill="#d4d4d4"/>
<rect x="87.8" y="55" width="7.3" height="7.3" fill="#d4d4d4"/>
<rect x="94.8" y="55" width="7.3" height="7.3" fill="#cdcdcd"/>
<rect x="101.8" y="55" width="7.3" height="7.3" fill="#c8c8c8"/>
<rect x="108.8" y="55" width="7.3" height="7.3" fill="#b4b4b4"/>
<rect x="115.8" y="55" width="7.3" height="7.3" fill="#aaaaaa"/>
<rect x="122.8" y="55" width="7.3" height="7.3" fill="#aaaaaa"/>
<rect x="129.8" y="55" width="7.3" height="7.3" fill="#b9b9b9"/>
<rect x="136.8" y="55" width="7.3" height="7.3" fill="#bebebe"/>
<rect x="143.8" y="55" width="7.3" height="7.3" fill="#b9b9b9"/>
<rect x="150.8" y="55" width="7.3" height="7.3" fill="#b9b9b9"/>
<rect x="157.8" y="55" width="6.9" height="7.3" fill="#bebebe"/>
<rect x="47" y="62" width="6.1" height="7.3" fill="#b4b4b4"/>
<rect x="52.8" y="62" width="7.3" height="7.3" fill="#b4b4b4"/>
<rect x="59.8" y="62" width="7.3" height="7.3" fill="#b4b4b4"/>
<rect x="66.8" y="62" width="7.3" height="7.3" fill="#c8c8c8"/>
<rect x="73.8" y="62" width="7.3" height="7.3" fill="#d2d2d2"/>
<rect x="80.8" y="62" width="7.3" height="7.3" fill="#d4d4d4"/>
<rect x="87.8" y="62" width="7.3" height="7.3" fill="#d4d4d4"/>
<rect x="94.8" y="62" width="7.3" height="7.3" fill="#d2d2d2"/>
<rect x="101.8" y="62" width="7.3" height="7.3" fill="#cdcdcd"/>
<rect x="108.8" y="62" width="7.3" height="7.3" fill="#c3c3c3"/>
<rect x="115.8" y="62" width="7.3" height="7.3" fill="#bebebe"/>
<rect x="122.8" y="62" width="7.3" height="7.3" fill="#c3c3c3"/>
<rect x="129.8" y="62" width="7.3" height="7.3" fill="#c6c6c6"/>
<rect x="136.8" y="62" width="7.3" height="7.3" fill="#c8c8c8"/>
<rect x="143.8" y="62" width="7.3" height="7.3" fill="#c8c8c8"/>
<rect x="150.8" y="62" width="7.3" height="7.3" fill="#c8c8c8"/>
<rect x="157.8" y="62" width="6.9" height="7.3" fill="#c8c8c8"/>
<rect x="47" y="69" width="6.1" height="7.3" fill="#b4b4b4"/>
<rect x="52.8" y="69" width="7.3" height="7.3" fill="#b4b4b4"/>
<rect x="59.8" y="69" width="7.3" height="7.3" fill="#b4b4b4"/>
<rect x="66.8" y="69" width="7.3" height="7.3" fill="#bebebe"/>
<rect x="73.8" y="69" width="7.3" height="7.3" fill="#c3c3c3"/>
<rect x="80.8" y="69" width="7.3" height="7.3" fill="#c6c6c6"/>
<rect x="87.8" y="69" width="7.3" height="7.3" fill="#c6c6c6"/>
<rect x="94.8" y="69" width="7.3" height="7.3" fill="#c6c6c6"/>
<rect x="101.8" y="69" width="7.3" height="7.3" fill="#c6c6c6"/>
<rect x="108.8" y="69" width="7.3" height="7.3" fill="#c3c3c3"/>
<rect x="115.8" y="69" width="7.3" height="7.3" fill="#c3c3c3"/>
<rect x="122.8" y="69" width="7.3" height="7.3" fill="#c8c8c8"/>
<rect x="129.8" y="69" width="7.3" height="7.3" fill="#cacaca"/>
<rect x="136.8" y="69" width="7.3" height="7.3" fill="#cdcdcd"/>
<rect x="143.8" y="69" width="7.3" height="7.3" fill="#c8c8c8"/>
<rect x="150.8" y="69" width="7.3" height="7.3" fill="#c3c3c3"/>
<rect x="157.8" y="69" width="6.9" height="7.3" fill="#c6c6c6"/>
<rect x="47" y="76" width="6.1" height="7.3" fill="#b2b2b2"/>
<rect x="52.8" y="76" width="7.3" height="7.3" fill="#b2b2b2"/>
<rect x="59.8" y="76" width="7.3" height="7.3" fill="#b2b2b2"/>
<rect x="66.8" y="76" width="7.3" height="7.3" fill="#b2b2b2"/>
<rect x="73.8" y="76" width="7.3" height="7.3" fill="#afafaf"/>
<rect x="80.8" y="76" width="7.3" height="7.3" fill="#a8a8a8"/>
<rect x="87.8" y="76" width="7.3" height="7.3" fill="#a8a8a8"/>
<rect x="94.8" y="76" width="7.3" height="7.3" fill="#aaaaaa"/>
<rect x="101.8" y="76" width="7.3" height="7.3" fill="#acacac"/>
<rect x="108.8" y="76" width="7.3" height="7.3" fill="#acacac"/>
<rect x="115.8" y="76" width="7.3" height="7.3" fill="#acacac"/>
<rect x="122.8" y="76" width="7.3" height="7.3" fill="#bebebe"/>
<rect x="129.8" y="76" width="7.3" height="7.3" fill="#c0c0c0"/>
<rect x="136.8" y="76" width="7.3" height="7.3" fill="#c0c0c0"/>
<rect x="143.8" y="76" width="7.3" height="7.3" fill="#bcbcbc"/>
<rect x="150.8" y="76" width="7.3" height="7.3" fill="#b4b4b4"/>
<rect x="157.8" y="76" width="6.9" height="7.3" fill="#b9b9b9"/>
<rect x="47" y="83" width="6.1" height="7.3" fill="#b2b2b2"/>
<rect x="52.8" y="83" width="7.3" height="7.3" fill="#b2b2b2"/>
<rect x="59.8" y="83" width="7.3" height="7.3" fill="#b2b2b2"/>
<rect x="66.8" y="83" width="7.3" height="7.3" fill="#b2b2b2"/>
<rect x="73.8" y="83" width="7.3" height="7.3" fill="#acacac"/>
<rect x="80.8" y="83" width="7.3" height="7.3" fill="#969696"/>
<rect x="87.8" y="83" width="7.3" height="7.3" fill="#919191"/>
<rect x="94.8" y="83" width="7.3" height="7.3" fill="#9b9b9b"/>
<rect x="101.8" y="83" width="7.3" height="7.3" fill="#9e9e9e"/>
<rect x="108.8" y="83" width="7.3" height="7.3" fill="#9e9e9e"/>
<rect x="115.8" y="83" width="7.3" height="7.3" fill="#9e9e9e"/>
<rect x="122.8" y="83" width="7.3" height="7.3" fill="#a0a0a0"/>
<rect x="129.8" y="83" width="7.3" height="7.3" fill="#a2a2a2"/>
<rect x="136.8" y="83" width="7.3" height="7.3" fill="#a5a5a5"/>
<rect x="143.8" y="83" width="7.3" height="7.3" fill="#9b9b9b"/>
<rect x="150.8" y="83" width="7.3" height="7.3" fill="#9b9b9b"/>
<rect x="157.8" y="83" width="6.9" height="7.3" fill="#aaaaaa"/>
<rect x="47" y="90" width="6.1" height="7.3" fill="#b4b4b4"/>
<rect x="52.8" y="90" width="7.3" height="7.3" fill="#b6b6b6"/>
<rect x="59.8" y="90" width="7.3" height="7.3" fill="#b6b6b6"/>
<rect x="66.8" y="90" width="7.3" height="7.3" fill="#b4b4b4"/>
<rect x="73.8" y="90" width="7.3" height="7.3" fill="#acacac"/>
<rect x="80.8" y="90" width="7.3" height="7.3" fill="#969696"/>
<rect x="87.8" y="90" width="7.3" height="7.3" fill="#8c8c8c"/>
<rect x="94.8" y="90" width="7.3" height="7.3" fill="#a5a5a5"/>
<rect x="101.8" y="90" width="7.3" height="7.3" fill="#a5a5a5"/>
<rect x="108.8" y="90" width="7.3" height="7.3" fill="#9e9e9e"/>
<rect x="115.8" y="90" width="7.3" height="7.3" fill="#969696"/>
<rect x="122.8" y="90" width="7.3" height="7.3" fill="#828282"/>
<rect x="129.8" y="90" width="7.3" height="7.3" fill="#828282"/>
<rect x="136.8" y="90" width="7.3" height="7.3" fill="#828282"/>
<rect x="143.8" y="90" width="7.3" height="7.3" fill="#8c8c8c"/>
<rect x="150.8" y="90" width="7.3" height="7.3" fill="#919191"/>
<rect x="157.8" y="90" width="6.9" height="7.3" fill="#969696"/>
<rect x="47" y="97" width="6.1" height="7.3" fill="#b9b9b9"/>
<rect x="52.8" y="97" width="7.3" height="7.3" fill="#bebebe"/>
<rect x="59.8" y="97" width="7.3" height="7.3" fill="#bebebe"/>
<rect x="66.8" y="97" width="7.3" height="7.3" fill="#b9b9b9"/>
<rect x="73.8" y="97" width="7.3" height="7.3" fill="#acacac"/>
<rect x="80.8" y="97" width="7.3" height="7.3" fill="#a0a0a0"/>
<rect x="87.8" y="97" width="7.3" height="7.3" fill="#b2b2b2"/>
<rect x="94.8" y="97" width="7.3" height="7.3" fill="#b4b4b4"/>
<rect x="101.8" y="97" width="7.3" height="7.3" fill="#b4b4b4"/>
<rect x="108.8" y="97" width="7.3" height="7.3" fill="#afafaf"/>
<rect x="115.8" y="97" width="7.3" height="7.3" fill="#a8a8a8"/>
<rect x="122.8" y="97" width="7.3" height="7.3" fill="#969696"/>
<rect x="129.8" y="97" width="7.3" height="7.3" fill="#7d7d7d"/>
<rect x="136.8" y="97" width="7.3" height="7.3" fill="#919191"/>
<rect x="143.8" y="97" width="7.3" height="7.3" fill="#969696"/>
<rect x="150.8" y="97" width="7.3" height="7.3" fill="#969696"/>
<rect x="157.8" y="97" width="6.9" height="7.3" fill="#9b9b9b"/>
<rect x="47" y="104" width="6.1" height="7.3" fill="#bebebe"/>
<rect x="52.8" y="104" width="7.3" height="7.3" fill="#c3c3c3"/>
<rect x="59.8" y="104" width="7.3" height="7.3" fill="#c3c3c3"/>
<rect x="66.8" y="104" width="7.3" height="7.3" fill="#bebebe"/>
<rect x="73.8" y="104" width="7.3" height="7.3" fill="#aaaaaa"/>
<rect x="80.8" y="104" width="7.3" height="7.3" fill="#bebebe"/>
<rect x="87.8" y="104" width="7.3" height="7.3" fill="#c3c3c3"/>
<rect x="94.8" y="104" width="7.3" height="7.3" fill="#c3c3c3"/>
<rect x="101.8" y="104" width="7.3" height="7.3" fill="#bebebe"/>
<rect x="108.8" y="104" width="7.3" height="7.3" fill="#b9b9b9"/>
<rect x="115.8" y="104" width="7.3" height="7.3" fill="#b2b2b2"/>
<rect x="122.8" y="104" width="7.3" height="7.3" fill="#a5a5a5"/>
<rect x="129.8" y="104" width="7.3" height="7.3" fill="#8c8c8c"/>
<rect x="136.8" y="104" width="7.3" height="7.3" fill="#969696"/>
<rect x="143.8" y="104" width="7.3" height="7.3" fill="#aaaaaa"/>
<rect x="150.8" y="104" width="7.3" height="7.3" fill="#afafaf"/>
<rect x="157.8" y="104" width="6.9" height="7.3" fill="#afafaf"/>
<rect x="47" y="111" width="6.1" height="7.3" fill="#c3c3c3"/>
<rect x="52.8" y="111" width="7.3" height="7.3" fill="#c8c8c8"/>
<rect x="59.8" y="111" width="7.3" height="7.3" fill="#c8c8c8"/>
<rect x="66.8" y="111" width="7.3" height="7.3" fill="#bebebe"/>
<rect x="73.8" y="111" width="7.3" height="7.3" fill="#b9b9b9"/>
<rect x="80.8" y="111" width="7.3" height="7.3" fill="#cdcdcd"/>
<rect x="87.8" y="111" width="7.3" height="7.3" fill="#d2d2d2"/>
<rect x="94.8" y="111" width="7.3" height="7.3" fill="#d0d0d0"/>
<rect x="101.8" y="111" width="7.3" height="7.3" fill="#c8c8c8"/>
<rect x="108.8" y="111" width="7.3" height="7.3" fill="#c3c3c3"/>
<rect x="115.8" y="111" width="7.3" height="7.3" fill="#bebebe"/>
<rect x="122.8" y="111" width="7.3" height="7.3" fill="#afafaf"/>
<rect x="129.8" y="111" width="7.3" height="7.3" fill="#919191"/>
<rect x="136.8" y="111" width="7.3" height="7.3" fill="#a0a0a0"/>
<rect x="143.8" y="111" width="7.3" height="7.3" fill="#b9b9b9"/>
<rect x="150.8" y="111" width="7.3" height="7.3" fill="#bebebe"/>
<rect x="157.8" y="111" width="6.9" height="7.3" fill="#c3c3c3"/>
<rect x="47" y="118" width="6.1" height="6.9" fill="#bebebe"/>
<rect x="52.8" y="118" width="7.3" height="6.9" fill="#c3c3c3"/>
<rect x="59.8" y="118" width="7.3" height="6.9" fill="#bebebe"/>
<rect x="66.8" y="118" width="7.3" height="6.9" fill="#b4b4b4"/>
<rect x="73.8" y="118" width="7.3" height="6.9" fill="#bebebe"/>
<rect x="80.8" y="118" width="7.3" height="6.9" fill="#d0d0d0"/>
<rect x="87.8" y="118" width="7.3" height="6.9" fill="#d4d4d4"/>
<rect x="94.8" y="118" width="7.3" height="6.9" fill="#d2d2d2"/>
<rect x="101.8" y="118" width="7.3" height="6.9" fill="#c8c8c8"/>
<rect x="108.8" y="118" width="7.3" height="6.9" fill="#c3c3c3"/>
<rect x="115.8" y="118" width="7.3" height="6.9" fill="#bebebe"/>
<rect x="122.8" y="118" width="7.3" height="6.9" fill="#aaaaaa"/>
<rect x="129.8" y="118" width="7.3" height="6.9" fill="#8c8c8c"/>
<rect x="136.8" y="118" width="7.3" height="6.9" fill="#a0a0a0"/>
<rect x="143.8" y="118" width="7.3" height="6.9" fill="#b9b9b9"/>
<rect x="150.8" y="118" width="7.3" height="6.9" fill="#c3c3c3"/>
<rect x="157.8" y="118" width="6.9" height="6.9" fill="#c8c8c8"/>
</g>
<rect x="45.9" y="7.6" width="121.6" height="120.1" fill="none" stroke="#6b1a55" stroke-width="2.3"/>
<g filter="url(#blurI)" shape-rendering="crispEdges">
<rect x="47" y="135.3" width="119.4" height="118" fill="#bbb"/>
<rect x="47" y="135.3" width="6.1" height="6.1" fill="#8c8c8c"/>
<rect x="52.8" y="135.3" width="7.3" height="6.1" fill="#aaaaaa"/>
<rect x="59.8" y="135.3" width="7.3" height="6.1" fill="#b4b4b4"/>
<rect x="66.8" y="135.3" width="7.3" height="6.1" fill="#c3c3c3"/>
<rect x="73.8" y="135.3" width="7.3" height="6.1" fill="#cdcdcd"/>
<rect x="80.8" y="135.3" width="7.3" height="6.1" fill="#d7d7d7"/>
<rect x="87.8" y="135.3" width="7.3" height="6.1" fill="#dadada"/>
<rect x="94.8" y="135.3" width="7.3" height="6.1" fill="#d7d7d7"/>
<rect x="101.8" y="135.3" width="7.3" height="6.1" fill="#cdcdcd"/>
<rect x="108.8" y="135.3" width="7.3" height="6.1" fill="#bebebe"/>
<rect x="115.8" y="135.3" width="7.3" height="6.1" fill="#a5a5a5"/>
<rect x="122.8" y="135.3" width="7.3" height="6.1" fill="#828282"/>
<rect x="129.8" y="135.3" width="7.3" height="6.1" fill="#828282"/>
<rect x="136.8" y="135.3" width="7.3" height="6.1" fill="#8c8c8c"/>
<rect x="143.8" y="135.3" width="7.3" height="6.1" fill="#8c8c8c"/>
<rect x="150.8" y="135.3" width="7.3" height="6.1" fill="#7d7d7d"/>
<rect x="157.8" y="135.3" width="6.9" height="6.1" fill="#7d7d7d"/>
<rect x="47" y="141.1" width="6.1" height="7.3" fill="#828282"/>
<rect x="52.8" y="141.1" width="7.3" height="7.3" fill="#a5a5a5"/>
<rect x="59.8" y="141.1" width="7.3" height="7.3" fill="#b4b4b4"/>
<rect x="66.8" y="141.1" width="7.3" height="7.3" fill="#c3c3c3"/>
<rect x="73.8" y="141.1" width="7.3" height="7.3" fill="#cdcdcd"/>
<rect x="80.8" y="141.1" width="7.3" height="7.3" fill="#d2d2d2"/>
<rect x="87.8" y="141.1" width="7.3" height="7.3" fill="#d4d4d4"/>
<rect x="94.8" y="141.1" width="7.3" height="7.3" fill="#d2d2d2"/>
<rect x="101.8" y="141.1" width="7.3" height="7.3" fill="#cdcdcd"/>
<rect x="108.8" y="141.1" width="7.3" height="7.3" fill="#b9b9b9"/>
<rect x="115.8" y="141.1" width="7.3" height="7.3" fill="#a0a0a0"/>
<rect x="122.8" y="141.1" width="7.3" height="7.3" fill="#828282"/>
<rect x="129.8" y="141.1" width="7.3" height="7.3" fill="#828282"/>
<rect x="136.8" y="141.1" width="7.3" height="7.3" fill="#8c8c8c"/>
<rect x="143.8" y="141.1" width="7.3" height="7.3" fill="#8c8c8c"/>
<rect x="150.8" y="141.1" width="7.3" height="7.3" fill="#787878"/>
<rect x="157.8" y="141.1" width="6.9" height="7.3" fill="#787878"/>
<rect x="47" y="148.1" width="6.1" height="7.3" fill="#969696"/>
<rect x="52.8" y="148.1" width="7.3" height="7.3" fill="#969696"/>
<rect x="59.8" y="148.1" width="7.3" height="7.3" fill="#a0a0a0"/>
<rect x="66.8" y="148.1" width="7.3" height="7.3" fill="#b4b4b4"/>
<rect x="73.8" y="148.1" width="7.3" height="7.3" fill="#c3c3c3"/>
<rect x="80.8" y="148.1" width="7.3" height="7.3" fill="#c8c8c8"/>
<rect x="87.8" y="148.1" width="7.3" height="7.3" fill="#c8c8c8"/>
<rect x="94.8" y="148.1" width="7.3" height="7.3" fill="#c6c6c6"/>
<rect x="101.8" y="148.1" width="7.3" height="7.3" fill="#c0c0c0"/>
<rect x="108.8" y="148.1" width="7.3" height="7.3" fill="#b4b4b4"/>
<rect x="115.8" y="148.1" width="7.3" height="7.3" fill="#969696"/>
<rect x="122.8" y="148.1" width="7.3" height="7.3" fill="#7d7d7d"/>
<rect x="129.8" y="148.1" width="7.3" height="7.3" fill="#828282"/>
<rect x="136.8" y="148.1" width="7.3" height="7.3" fill="#878787"/>
<rect x="143.8" y="148.1" width="7.3" height="7.3" fill="#878787"/>
<rect x="150.8" y="148.1" width="7.3" height="7.3" fill="#787878"/>
<rect x="157.8" y="148.1" width="6.9" height="7.3" fill="#696969"/>
<rect x="47" y="155.1" width="6.1" height="7.3" fill="#a5a5a5"/>
<rect x="52.8" y="155.1" width="7.3" height="7.3" fill="#a5a5a5"/>
<rect x="59.8" y="155.1" width="7.3" height="7.3" fill="#9b9b9b"/>
<rect x="66.8" y="155.1" width="7.3" height="7.3" fill="#9b9b9b"/>
<rect x="73.8" y="155.1" width="7.3" height="7.3" fill="#b2b2b2"/>
<rect x="80.8" y="155.1" width="7.3" height="7.3" fill="#b9b9b9"/>
<rect x="87.8" y="155.1" width="7.3" height="7.3" fill="#b9b9b9"/>
<rect x="94.8" y="155.1" width="7.3" height="7.3" fill="#b9b9b9"/>
<rect x="101.8" y="155.1" width="7.3" height="7.3" fill="#b4b4b4"/>
<rect x="108.8" y="155.1" width="7.3" height="7.3" fill="#a0a0a0"/>
<rect x="115.8" y="155.1" width="7.3" height="7.3" fill="#7d7d7d"/>
<rect x="122.8" y="155.1" width="7.3" height="7.3" fill="#737373"/>
<rect x="129.8" y="155.1" width="7.3" height="7.3" fill="#7d7d7d"/>
<rect x="136.8" y="155.1" width="7.3" height="7.3" fill="#7d7d7d"/>
<rect x="143.8" y="155.1" width="7.3" height="7.3" fill="#7d7d7d"/>
<rect x="150.8" y="155.1" width="7.3" height="7.3" fill="#6e6e6e"/>
<rect x="157.8" y="155.1" width="6.9" height="7.3" fill="#696969"/>
<rect x="47" y="162.1" width="6.1" height="7.3" fill="#aaaaaa"/>
<rect x="52.8" y="162.1" width="7.3" height="7.3" fill="#aaaaaa"/>
<rect x="59.8" y="162.1" width="7.3" height="7.3" fill="#a0a0a0"/>
<rect x="66.8" y="162.1" width="7.3" height="7.3" fill="#8c8c8c"/>
<rect x="73.8" y="162.1" width="7.3" height="7.3" fill="#8c8c8c"/>
<rect x="80.8" y="162.1" width="7.3" height="7.3" fill="#a0a0a0"/>
<rect x="87.8" y="162.1" width="7.3" height="7.3" fill="#aaaaaa"/>
<rect x="94.8" y="162.1" width="7.3" height="7.3" fill="#aaaaaa"/>
<rect x="101.8" y="162.1" width="7.3" height="7.3" fill="#a0a0a0"/>
<rect x="108.8" y="162.1" width="7.3" height="7.3" fill="#969696"/>
<rect x="115.8" y="162.1" width="7.3" height="7.3" fill="#787878"/>
<rect x="122.8" y="162.1" width="7.3" height="7.3" fill="#737373"/>
<rect x="129.8" y="162.1" width="7.3" height="7.3" fill="#787878"/>
<rect x="136.8" y="162.1" width="7.3" height="7.3" fill="#787878"/>
<rect x="143.8" y="162.1" width="7.3" height="7.3" fill="#787878"/>
<rect x="150.8" y="162.1" width="7.3" height="7.3" fill="#787878"/>
<rect x="157.8" y="162.1" width="6.9" height="7.3" fill="#7d7d7d"/>
<rect x="47" y="169.1" width="6.1" height="7.3" fill="#a0a0a0"/>
<rect x="52.8" y="169.1" width="7.3" height="7.3" fill="#a0a0a0"/>
<rect x="59.8" y="169.1" width="7.3" height="7.3" fill="#9b9b9b"/>
<rect x="66.8" y="169.1" width="7.3" height="7.3" fill="#969696"/>
<rect x="73.8" y="169.1" width="7.3" height="7.3" fill="#8c8c8c"/>
<rect x="80.8" y="169.1" width="7.3" height="7.3" fill="#7d7d7d"/>
<rect x="87.8" y="169.1" width="7.3" height="7.3" fill="#7d7d7d"/>
<rect x="94.8" y="169.1" width="7.3" height="7.3" fill="#7d7d7d"/>
<rect x="101.8" y="169.1" width="7.3" height="7.3" fill="#7a7a7a"/>
<rect x="108.8" y="169.1" width="7.3" height="7.3" fill="#787878"/>
<rect x="115.8" y="169.1" width="7.3" height="7.3" fill="#787878"/>
<rect x="122.8" y="169.1" width="7.3" height="7.3" fill="#737373"/>
<rect x="129.8" y="169.1" width="7.3" height="7.3" fill="#7d7d7d"/>
<rect x="136.8" y="169.1" width="7.3" height="7.3" fill="#7d7d7d"/>
<rect x="143.8" y="169.1" width="7.3" height="7.3" fill="#787878"/>
<rect x="150.8" y="169.1" width="7.3" height="7.3" fill="#828282"/>
<rect x="157.8" y="169.1" width="6.9" height="7.3" fill="#828282"/>
<rect x="47" y="176.1" width="6.1" height="7.3" fill="#b4b4b4"/>
<rect x="52.8" y="176.1" width="7.3" height="7.3" fill="#aaaaaa"/>
<rect x="59.8" y="176.1" width="7.3" height="7.3" fill="#a0a0a0"/>
<rect x="66.8" y="176.1" width="7.3" height="7.3" fill="#a5a5a5"/>
<rect x="73.8" y="176.1" width="7.3" height="7.3" fill="#a5a5a5"/>
<rect x="80.8" y="176.1" width="7.3" height="7.3" fill="#9b9b9b"/>
<rect x="87.8" y="176.1" width="7.3" height="7.3" fill="#8c8c8c"/>
<rect x="94.8" y="176.1" width="7.3" height="7.3" fill="#8c8c8c"/>
<rect x="101.8" y="176.1" width="7.3" height="7.3" fill="#848484"/>
<rect x="108.8" y="176.1" width="7.3" height="7.3" fill="#7d7d7d"/>
<rect x="115.8" y="176.1" width="7.3" height="7.3" fill="#767676"/>
<rect x="122.8" y="176.1" width="7.3" height="7.3" fill="#828282"/>
<rect x="129.8" y="176.1" width="7.3" height="7.3" fill="#808080"/>
<rect x="136.8" y="176.1" width="7.3" height="7.3" fill="#787878"/>
<rect x="143.8" y="176.1" width="7.3" height="7.3" fill="#7d7d7d"/>
<rect x="150.8" y="176.1" width="7.3" height="7.3" fill="#8c8c8c"/>
<rect x="157.8" y="176.1" width="6.9" height="7.3" fill="#949494"/>
<rect x="47" y="183.1" width="6.1" height="7.3" fill="#d7d7d7"/>
<rect x="52.8" y="183.1" width="7.3" height="7.3" fill="#c8c8c8"/>
<rect x="59.8" y="183.1" width="7.3" height="7.3" fill="#b4b4b4"/>
<rect x="66.8" y="183.1" width="7.3" height="7.3" fill="#aaaaaa"/>
<rect x="73.8" y="183.1" width="7.3" height="7.3" fill="#aaaaaa"/>
<rect x="80.8" y="183.1" width="7.3" height="7.3" fill="#aaaaaa"/>
<rect x="87.8" y="183.1" width="7.3" height="7.3" fill="#aaaaaa"/>
<rect x="94.8" y="183.1" width="7.3" height="7.3" fill="#aaaaaa"/>
<rect x="101.8" y="183.1" width="7.3" height="7.3" fill="#a5a5a5"/>
<rect x="108.8" y="183.1" width="7.3" height="7.3" fill="#9b9b9b"/>
<rect x="115.8" y="183.1" width="7.3" height="7.3" fill="#828282"/>
<rect x="122.8" y="183.1" width="7.3" height="7.3" fill="#828282"/>
<rect x="129.8" y="183.1" width="7.3" height="7.3" fill="#878787"/>
<rect x="136.8" y="183.1" width="7.3" height="7.3" fill="#7d7d7d"/>
<rect x="143.8" y="183.1" width="7.3" height="7.3" fill="#8c8c8c"/>
<rect x="150.8" y="183.1" width="7.3" height="7.3" fill="#969696"/>
<rect x="157.8" y="183.1" width="6.9" height="7.3" fill="#9b9b9b"/>
<rect x="47" y="190.1" width="6.1" height="7.3" fill="#dcdcdc"/>
<rect x="52.8" y="190.1" width="7.3" height="7.3" fill="#cdcdcd"/>
<rect x="59.8" y="190.1" width="7.3" height="7.3" fill="#b9b9b9"/>
<rect x="66.8" y="190.1" width="7.3" height="7.3" fill="#a5a5a5"/>
<rect x="73.8" y="190.1" width="7.3" height="7.3" fill="#a0a0a0"/>
<rect x="80.8" y="190.1" width="7.3" height="7.3" fill="#a2a2a2"/>
<rect x="87.8" y="190.1" width="7.3" height="7.3" fill="#a5a5a5"/>
<rect x="94.8" y="190.1" width="7.3" height="7.3" fill="#a8a8a8"/>
<rect x="101.8" y="190.1" width="7.3" height="7.3" fill="#a6a6a6"/>
<rect x="108.8" y="190.1" width="7.3" height="7.3" fill="#a0a0a0"/>
<rect x="115.8" y="190.1" width="7.3" height="7.3" fill="#878787"/>
<rect x="122.8" y="190.1" width="7.3" height="7.3" fill="#7d7d7d"/>
<rect x="129.8" y="190.1" width="7.3" height="7.3" fill="#878787"/>
<rect x="136.8" y="190.1" width="7.3" height="7.3" fill="#828282"/>
<rect x="143.8" y="190.1" width="7.3" height="7.3" fill="#919191"/>
<rect x="150.8" y="190.1" width="7.3" height="7.3" fill="#9b9b9b"/>
<rect x="157.8" y="190.1" width="6.9" height="7.3" fill="#a0a0a0"/>
<rect x="47" y="197.1" width="6.1" height="7.3" fill="#dcdcdc"/>
<rect x="52.8" y="197.1" width="7.3" height="7.3" fill="#cdcdcd"/>
<rect x="59.8" y="197.1" width="7.3" height="7.3" fill="#b9b9b9"/>
<rect x="66.8" y="197.1" width="7.3" height="7.3" fill="#a5a5a5"/>
<rect x="73.8" y="197.1" width="7.3" height="7.3" fill="#969696"/>
<rect x="80.8" y="197.1" width="7.3" height="7.3" fill="#9b9b9b"/>
<rect x="87.8" y="197.1" width="7.3" height="7.3" fill="#9e9e9e"/>
<rect x="94.8" y="197.1" width="7.3" height="7.3" fill="#a2a2a2"/>
<rect x="101.8" y="197.1" width="7.3" height="7.3" fill="#aaaaaa"/>
<rect x="108.8" y="197.1" width="7.3" height="7.3" fill="#a5a5a5"/>
<rect x="115.8" y="197.1" width="7.3" height="7.3" fill="#8c8c8c"/>
<rect x="122.8" y="197.1" width="7.3" height="7.3" fill="#6e6e6e"/>
<rect x="129.8" y="197.1" width="7.3" height="7.3" fill="#737373"/>
<rect x="136.8" y="197.1" width="7.3" height="7.3" fill="#878787"/>
<rect x="143.8" y="197.1" width="7.3" height="7.3" fill="#8c8c8c"/>
<rect x="150.8" y="197.1" width="7.3" height="7.3" fill="#919191"/>
<rect x="157.8" y="197.1" width="6.9" height="7.3" fill="#969696"/>
<rect x="47" y="204.1" width="6.1" height="7.3" fill="#dedede"/>
<rect x="52.8" y="204.1" width="7.3" height="7.3" fill="#d0d0d0"/>
<rect x="59.8" y="204.1" width="7.3" height="7.3" fill="#bcbcbc"/>
<rect x="66.8" y="204.1" width="7.3" height="7.3" fill="#a5a5a5"/>
<rect x="73.8" y="204.1" width="7.3" height="7.3" fill="#a2a2a2"/>
<rect x="80.8" y="204.1" width="7.3" height="7.3" fill="#b4b4b4"/>
<rect x="87.8" y="204.1" width="7.3" height="7.3" fill="#b4b4b4"/>
<rect x="94.8" y="204.1" width="7.3" height="7.3" fill="#b6b6b6"/>
<rect x="101.8" y="204.1" width="7.3" height="7.3" fill="#b9b9b9"/>
<rect x="108.8" y="204.1" width="7.3" height="7.3" fill="#b4b4b4"/>
<rect x="115.8" y="204.1" width="7.3" height="7.3" fill="#a0a0a0"/>
<rect x="122.8" y="204.1" width="7.3" height="7.3" fill="#878787"/>
<rect x="129.8" y="204.1" width="7.3" height="7.3" fill="#737373"/>
<rect x="136.8" y="204.1" width="7.3" height="7.3" fill="#878787"/>
<rect x="143.8" y="204.1" width="7.3" height="7.3" fill="#8c8c8c"/>
<rect x="150.8" y="204.1" width="7.3" height="7.3" fill="#8c8c8c"/>
<rect x="157.8" y="204.1" width="6.9" height="7.3" fill="#969696"/>
<rect x="47" y="211.1" width="6.1" height="7.3" fill="#dedede"/>
<rect x="52.8" y="211.1" width="7.3" height="7.3" fill="#d0d0d0"/>
<rect x="59.8" y="211.1" width="7.3" height="7.3" fill="#bcbcbc"/>
<rect x="66.8" y="211.1" width="7.3" height="7.3" fill="#9b9b9b"/>
<rect x="73.8" y="211.1" width="7.3" height="7.3" fill="#a0a0a0"/>
<rect x="80.8" y="211.1" width="7.3" height="7.3" fill="#b2b2b2"/>
<rect x="87.8" y="211.1" width="7.3" height="7.3" fill="#bcbcbc"/>
<rect x="94.8" y="211.1" width="7.3" height="7.3" fill="#bebebe"/>
<rect x="101.8" y="211.1" width="7.3" height="7.3" fill="#bebebe"/>
<rect x="108.8" y="211.1" width="7.3" height="7.3" fill="#b9b9b9"/>
<rect x="115.8" y="211.1" width="7.3" height="7.3" fill="#a5a5a5"/>
<rect x="122.8" y="211.1" width="7.3" height="7.3" fill="#8c8c8c"/>
<rect x="129.8" y="211.1" width="7.3" height="7.3" fill="#6e6e6e"/>
<rect x="136.8" y="211.1" width="7.3" height="7.3" fill="#828282"/>
<rect x="143.8" y="211.1" width="7.3" height="7.3" fill="#8c8c8c"/>
<rect x="150.8" y="211.1" width="7.3" height="7.3" fill="#8c8c8c"/>
<rect x="157.8" y="211.1" width="6.9" height="7.3" fill="#949494"/>
<rect x="47" y="218.1" width="6.1" height="7.3" fill="#dedede"/>
<rect x="52.8" y="218.1" width="7.3" height="7.3" fill="#d0d0d0"/>
<rect x="59.8" y="218.1" width="7.3" height="7.3" fill="#bcbcbc"/>
<rect x="66.8" y="218.1" width="7.3" height="7.3" fill="#9b9b9b"/>
<rect x="73.8" y="218.1" width="7.3" height="7.3" fill="#919191"/>
<rect x="80.8" y="218.1" width="7.3" height="7.3" fill="#aaaaaa"/>
<rect x="87.8" y="218.1" width="7.3" height="7.3" fill="#b9b9b9"/>
<rect x="94.8" y="218.1" width="7.3" height="7.3" fill="#b9b9b9"/>
<rect x="101.8" y="218.1" width="7.3" height="7.3" fill="#b9b9b9"/>
<rect x="108.8" y="218.1" width="7.3" height="7.3" fill="#b4b4b4"/>
<rect x="115.8" y="218.1" width="7.3" height="7.3" fill="#a5a5a5"/>
<rect x="122.8" y="218.1" width="7.3" height="7.3" fill="#919191"/>
<rect x="129.8" y="218.1" width="7.3" height="7.3" fill="#787878"/>
<rect x="136.8" y="218.1" width="7.3" height="7.3" fill="#7d7d7d"/>
<rect x="143.8" y="218.1" width="7.3" height="7.3" fill="#8c8c8c"/>
<rect x="150.8" y="218.1" width="7.3" height="7.3" fill="#949494"/>
<rect x="157.8" y="218.1" width="6.9" height="7.3" fill="#9b9b9b"/>
<rect x="47" y="225.1" width="6.1" height="7.3" fill="#c8c8c8"/>
<rect x="52.8" y="225.1" width="7.3" height="7.3" fill="#bebebe"/>
<rect x="59.8" y="225.1" width="7.3" height="7.3" fill="#afafaf"/>
<rect x="66.8" y="225.1" width="7.3" height="7.3" fill="#9b9b9b"/>
<rect x="73.8" y="225.1" width="7.3" height="7.3" fill="#8c8c8c"/>
<rect x="80.8" y="225.1" width="7.3" height="7.3" fill="#9b9b9b"/>
<rect x="87.8" y="225.1" width="7.3" height="7.3" fill="#a5a5a5"/>
<rect x="94.8" y="225.1" width="7.3" height="7.3" fill="#a5a5a5"/>
<rect x="101.8" y="225.1" width="7.3" height="7.3" fill="#a3a3a3"/>
<rect x="108.8" y="225.1" width="7.3" height="7.3" fill="#969696"/>
<rect x="115.8" y="225.1" width="7.3" height="7.3" fill="#919191"/>
<rect x="122.8" y="225.1" width="7.3" height="7.3" fill="#8c8c8c"/>
<rect x="129.8" y="225.1" width="7.3" height="7.3" fill="#878787"/>
<rect x="136.8" y="225.1" width="7.3" height="7.3" fill="#8c8c8c"/>
<rect x="143.8" y="225.1" width="7.3" height="7.3" fill="#969696"/>
<rect x="150.8" y="225.1" width="7.3" height="7.3" fill="#9b9b9b"/>
<rect x="157.8" y="225.1" width="6.9" height="7.3" fill="#a0a0a0"/>
<rect x="47" y="232.1" width="6.1" height="7.3" fill="#b9b9b9"/>
<rect x="52.8" y="232.1" width="7.3" height="7.3" fill="#afafaf"/>
<rect x="59.8" y="232.1" width="7.3" height="7.3" fill="#a5a5a5"/>
<rect x="66.8" y="232.1" width="7.3" height="7.3" fill="#969696"/>
<rect x="73.8" y="232.1" width="7.3" height="7.3" fill="#8c8c8c"/>
<rect x="80.8" y="232.1" width="7.3" height="7.3" fill="#919191"/>
<rect x="87.8" y="232.1" width="7.3" height="7.3" fill="#969696"/>
<rect x="94.8" y="232.1" width="7.3" height="7.3" fill="#919191"/>
<rect x="101.8" y="232.1" width="7.3" height="7.3" fill="#848484"/>
<rect x="108.8" y="232.1" width="7.3" height="7.3" fill="#8c8c8c"/>
<rect x="115.8" y="232.1" width="7.3" height="7.3" fill="#969696"/>
<rect x="122.8" y="232.1" width="7.3" height="7.3" fill="#a0a0a0"/>
<rect x="129.8" y="232.1" width="7.3" height="7.3" fill="#a0a0a0"/>
<rect x="136.8" y="232.1" width="7.3" height="7.3" fill="#a5a5a5"/>
<rect x="143.8" y="232.1" width="7.3" height="7.3" fill="#aaaaaa"/>
<rect x="150.8" y="232.1" width="7.3" height="7.3" fill="#acacac"/>
<rect x="157.8" y="232.1" width="6.9" height="7.3" fill="#acacac"/>
<rect x="47" y="239.1" width="6.1" height="7.3" fill="#aaaaaa"/>
<rect x="52.8" y="239.1" width="7.3" height="7.3" fill="#a0a0a0"/>
<rect x="59.8" y="239.1" width="7.3" height="7.3" fill="#919191"/>
<rect x="66.8" y="239.1" width="7.3" height="7.3" fill="#878787"/>
<rect x="73.8" y="239.1" width="7.3" height="7.3" fill="#878787"/>
<rect x="80.8" y="239.1" width="7.3" height="7.3" fill="#878787"/>
<rect x="87.8" y="239.1" width="7.3" height="7.3" fill="#8a8a8a"/>
<rect x="94.8" y="239.1" width="7.3" height="7.3" fill="#878787"/>
<rect x="101.8" y="239.1" width="7.3" height="7.3" fill="#8a8a8a"/>
<rect x="108.8" y="239.1" width="7.3" height="7.3" fill="#969696"/>
<rect x="115.8" y="239.1" width="7.3" height="7.3" fill="#afafaf"/>
<rect x="122.8" y="239.1" width="7.3" height="7.3" fill="#b2b2b2"/>
<rect x="129.8" y="239.1" width="7.3" height="7.3" fill="#b4b4b4"/>
<rect x="136.8" y="239.1" width="7.3" height="7.3" fill="#b4b4b4"/>
<rect x="143.8" y="239.1" width="7.3" height="7.3" fill="#b4b4b4"/>
<rect x="150.8" y="239.1" width="7.3" height="7.3" fill="#b4b4b4"/>
<rect x="157.8" y="239.1" width="6.9" height="7.3" fill="#b6b6b6"/>
<rect x="47" y="246.1" width="6.1" height="5.5" fill="#969696"/>
<rect x="52.8" y="246.1" width="7.3" height="5.5" fill="#969696"/>
<rect x="59.8" y="246.1" width="7.3" height="5.5" fill="#8c8c8c"/>
<rect x="66.8" y="246.1" width="7.3" height="5.5" fill="#878787"/>
<rect x="73.8" y="246.1" width="7.3" height="5.5" fill="#919191"/>
<rect x="80.8" y="246.1" width="7.3" height="5.5" fill="#969696"/>
<rect x="87.8" y="246.1" width="7.3" height="5.5" fill="#969696"/>
<rect x="94.8" y="246.1" width="7.3" height="5.5" fill="#919191"/>
<rect x="101.8" y="246.1" width="7.3" height="5.5" fill="#8e8e8e"/>
<rect x="108.8" y="246.1" width="7.3" height="5.5" fill="#aaaaaa"/>
<rect x="115.8" y="246.1" width="7.3" height="5.5" fill="#b9b9b9"/>
<rect x="122.8" y="246.1" width="7.3" height="5.5" fill="#bebebe"/>
<rect x="129.8" y="246.1" width="7.3" height="5.5" fill="#c3c3c3"/>
<rect x="136.8" y="246.1" width="7.3" height="5.5" fill="#c6c6c6"/>
<rect x="143.8" y="246.1" width="7.3" height="5.5" fill="#c3c3c3"/>
<rect x="150.8" y="246.1" width="7.3" height="5.5" fill="#bebebe"/>
<rect x="157.8" y="246.1" width="6.9" height="5.5" fill="#b9b9b9"/>
</g>
<rect x="45.9" y="134.2" width="121.6" height="120.2" fill="none" stroke="#e2304a" stroke-width="2.3"/>
<polygon points="106.1,62.1 107.5,65.4 111,65.7 108.3,68 109.2,71.5 106.1,69.6 103,71.5 103.9,68 101.2,65.7 104.7,65.4" fill="#6b1a55"/>
<polygon points="105.4,189.8 106.8,193.1 110.3,193.4 107.6,195.7 108.5,199.2 105.4,197.3 102.3,199.2 103.2,195.7 100.5,193.4 104,193.1" fill="#e2304a"/>
<rect x="189" y="22.7" width="14.2" height="14" fill="none" stroke="#6b1a55" stroke-width="1.9"/>
<circle cx="195.9" cy="29.1" r="1.7" fill="#6b1a55"/>
<rect x="192.2" y="100.9" width="14.8" height="14.4" fill="none" stroke="#e2304a" stroke-width="1.9"/>
<circle cx="199.6" cy="107.3" r="1.8" fill="#e2304a"/>
<line x1="191.3" y1="38.4" x2="189.1" y2="42.3" stroke="#6b1a55" stroke-width="3"/>
<line x1="184.6" y1="50.6" x2="178.2" y2="62.1" stroke="#6b1a55" stroke-width="3"/>
<line x1="174.4" y1="69" x2="171" y2="75.2" stroke="#6b1a55" stroke-width="3"/>
<polygon points="165.4,85.3 167,69.6 170.7,75.7 177.8,75.6" fill="#6b1a55"/>
<line x1="195.7" y1="116.7" x2="193.9" y2="120.5" stroke="#e2304a" stroke-width="3"/>
<line x1="190.5" y1="127.9" x2="185.5" y2="138.6" stroke="#e2304a" stroke-width="3"/>
<line x1="181.8" y1="146.4" x2="176.9" y2="157.1" stroke="#e2304a" stroke-width="3"/>
<line x1="174.2" y1="162.9" x2="171.6" y2="168.4" stroke="#e2304a" stroke-width="3"/>
<polygon points="166.8,178.7 167.3,162.9 171.4,168.7 178.5,168.2" fill="#e2304a"/>
<rect x="361" y="332.8" width="115.5" height="3.9" fill="#fff"/>
<rect x="543.0" y="1.2" width="371.3" height="160.5" fill="url(#bscanG)"/>
<rect x="543.0" y="1.2" width="371.3" height="160.5" fill="url(#bscanG)" filter="url(#speck)" opacity="0.9" style="mix-blend-mode:screen"/>
<rect x="543.0" y="1.2" width="371.3" height="160.5" fill="url(#bscanX)"/>
<path d="M809.1 150.9H905.7V134.4" fill="none" stroke="#fff" stroke-width="3.3"/>
<rect x="929.9" y="14" width="15.8" height="134" fill="url(#cbB)" stroke="#3a3a3a" stroke-width="1.4"/>
<g clip-path="url(#clipC)"><g filter="url(#blurC)" shape-rendering="crispEdges" fill="none">
<path stroke="#440154" stroke-width="5.5" d="M552 185.3h2.3M556.5 185.3h2.3M644.2 185.3h2.3M653.2 185.3h2.3M545.2 190.7h2.3M561 196.1h2.3M565.5 196.1h2.3M592.5 196.1h2.3M563.2 201.5h2.3M592.5 201.5h2.3M626.2 201.5h2.3M628.5 201.5h2.3M653.2 201.5h2.3M655.5 201.5h2.3M565.5 206.9h2.3M601.5 206.9h2.3M619.5 244.6h2.3M619.5 250h2.3M601.5 255.4h2.3M612.8 255.4h2.3M547.5 303.9h2.3M581.2 303.9h2.3M671.4 185.3h2.3M763 185.3h2.3M774.5 185.3h2.3M785.9 185.3h2.3M767.6 190.7h2.3M673.7 196.1h2.3M708 196.1h2.3M749.3 196.1h2.3M680.6 201.5h2.3M717.2 201.5h2.3M719.5 201.5h2.3M730.9 201.5h2.3M708 206.9h2.3M737.8 206.9h2.3M779 206.9h2.3M714.9 212.3h2.3M714.9 244.6h2.3M763 244.6h2.3M673.7 255.4h2.3M685.1 255.4h2.3M735.5 266.2h2.3M708 303.9h2.3M774.5 303.9h2.3M819.9 185.3h2.3M907.6 185.3h2.3M799.6 190.7h2.3M835.6 196.1h2.3M842.4 201.5h2.3M855.9 201.5h2.3M882.9 201.5h2.3M817.6 206.9h2.3M819.9 206.9h2.3M853.6 206.9h2.3M878.4 206.9h2.3M846.9 244.6h2.3M797.4 255.4h2.3M822.1 255.4h2.3M860.4 255.4h2.3"/>
<path stroke="#450a5c" stroke-width="5.5" d="M549.8 185.3h2.3M603.8 185.3h2.3M597 190.7h2.3M590.2 206.9h2.3M594.8 250h2.3M651 250h2.3M576.8 255.4h2.3M567.8 266.2h2.3M588 303.9h2.3M594.8 303.9h2.3M651 303.9h2.3M753.8 196.1h2.3M696.6 206.9h2.3M742.4 206.9h2.3M783.6 206.9h2.3M687.4 239.2h2.3M689.7 250h2.3M735.5 255.4h2.3M682.8 260.8h2.3M772.2 303.9h2.3M808.6 185.3h2.3M855.9 185.3h2.3M842.4 190.7h2.3M891.9 190.7h2.3M894.1 190.7h2.3M797.4 206.9h2.3M905.4 212.3h2.3M824.4 244.6h2.3M808.6 250h2.3M849.1 250h2.3M862.6 255.4h2.3M864.9 255.4h2.3M905.4 266.2h2.3M817.6 303.9h2.3"/>
<path stroke="#461264" stroke-width="5.5" d="M556.5 190.7h2.3M552 201.5h2.3M630.8 201.5h2.3M545.2 206.9h2.3M592.5 206.9h2.3M608.2 250h2.3M583.5 255.4h2.3M592.5 255.4h2.3M581.2 266.2h2.3M543 303.9h2.3M719.5 185.3h2.3M669.1 190.7h2.3M742.4 190.7h2.3M749.3 190.7h2.3M742.4 196.1h2.3M694.3 206.9h2.3M776.7 244.6h2.3M763 266.2h2.3M776.7 309.3h2.3M779 309.3h2.3M813.1 185.3h2.3M813.1 196.1h2.3M817.6 201.5h2.3M849.1 201.5h2.3M858.1 201.5h2.3M894.1 201.5h2.3M842.4 206.9h2.3M844.6 206.9h2.3M846.9 206.9h2.3M826.6 212.3h2.3M878.4 239.2h2.3M876.1 255.4h2.3"/>
<path stroke="#471b6d" stroke-width="5.5" d="M581.2 190.7h2.3M621.8 190.7h2.3M642 190.7h2.3M637.5 196.1h2.3M648.8 196.1h2.3M554.2 201.5h2.3M561 201.5h2.3M621.8 201.5h2.3M561 206.9h2.3M585.8 206.9h2.3M608.2 206.9h2.3M644.2 206.9h2.3M608.2 212.3h2.3M655.5 233.8h2.3M545.2 255.4h2.3M558.8 255.4h2.3M588 266.2h2.3M592.5 303.9h2.3M642 303.9h2.3M644.2 309.3h2.3M703.5 185.3h2.3M721.8 185.3h2.3M698.9 196.1h2.3M769.9 196.1h2.3M772.2 196.1h2.3M774.5 201.5h2.3M701.2 206.9h2.3M719.5 206.9h2.3M712.6 233.8h2.3M698.9 239.2h2.3M783.6 244.6h2.3M682.8 250h2.3M767.6 255.4h2.3M687.4 266.2h2.3M891.9 185.3h2.3M853.6 196.1h2.3M826.6 201.5h2.3M846.9 201.5h2.3M804.1 206.9h2.3M817.6 212.3h2.3M797.4 250h2.3M889.6 255.4h2.3M819.9 266.2h2.3"/>
<path stroke="#482475" stroke-width="5.5" d="M547.5 185.3h2.3M554.2 185.3h2.3M657.8 185.3h2.3M626.2 190.7h2.3M628.5 190.7h2.3M630.8 190.7h2.3M633 196.1h2.3M558.8 206.9h2.3M572.2 206.9h2.3M621.8 206.9h2.3M606 212.3h2.3M554.2 239.2h2.3M599.2 244.6h2.3M624 244.6h2.3M657.8 250h2.3M585.8 303.9h2.3M756.1 185.3h2.3M756.1 190.7h2.3M772.2 190.7h2.3M783.6 190.7h2.3M689.7 196.1h2.3M687.4 201.5h2.3M714.9 201.5h2.3M740.1 201.5h2.3M742.4 201.5h2.3M676 206.9h2.3M717.2 212.3h2.3M742.4 244.6h2.3M756.1 244.6h2.3M671.4 250h2.3M776.7 250h2.3M678.3 255.4h2.3M783.6 266.2h2.3M717.2 303.9h2.3M763 309.3h2.3M824.4 190.7h2.3M797.4 201.5h2.3M819.9 201.5h2.3M871.6 206.9h2.3M799.6 212.3h2.3M819.9 233.8h2.3M882.9 233.8h2.3M846.9 239.2h2.3M833.4 244.6h2.3M876.1 244.6h2.3M894.1 244.6h2.3M813.1 255.4h2.3M905.4 255.4h2.3M840.1 260.8h2.3M846.9 303.9h2.3M833.4 309.3h2.3M887.4 309.3h2.3"/>
<path stroke="#462c7a" stroke-width="5.5" d="M610.5 185.3h2.3M574.5 190.7h2.3M606 190.7h2.3M651 190.7h2.3M563.2 196.1h2.3M610.5 196.1h2.3M619.5 196.1h2.3M624 196.1h2.3M653.2 196.1h2.3M644.2 201.5h2.3M646.5 201.5h2.3M588 206.9h2.3M628.5 206.9h2.3M657.8 233.8h2.3M608.2 239.2h2.3M628.5 239.2h2.3M653.2 244.6h2.3M549.8 255.4h2.3M561 255.4h2.3M603.8 255.4h2.3M549.8 303.9h2.3M561 303.9h2.3M698.9 185.3h2.3M747 185.3h2.3M689.7 190.7h2.3M719.5 190.7h2.3M747 196.1h2.3M785.9 196.1h2.3M696.6 201.5h2.3M783.6 201.5h2.3M671.4 206.9h2.3M724.1 206.9h2.3M769.9 206.9h2.3M669.1 212.3h2.3M692 233.8h2.3M689.7 239.2h2.3M781.3 239.2h2.3M694.3 244.6h2.3M671.4 255.4h2.3M687.4 255.4h2.3M730.9 255.4h2.3M753.8 255.4h2.3M680.6 260.8h2.3M705.7 266.2h2.3M676 303.9h2.3M694.3 303.9h2.3M760.7 303.9h2.3M779 303.9h2.3M724.1 309.3h2.3M797.4 185.3h2.3M826.6 185.3h2.3M864.9 185.3h2.3M878.4 185.3h2.3M801.9 190.7h2.3M840.1 190.7h2.3M858.1 190.7h2.3M860.4 190.7h2.3M876.1 190.7h2.3M896.4 190.7h2.3M905.4 190.7h2.3M907.6 190.7h2.3M822.1 196.1h2.3M851.4 196.1h2.3M844.6 201.5h2.3M876.1 201.5h2.3M813.1 206.9h2.3M912.1 206.9h2.3M885.1 239.2h2.3M860.4 244.6h2.3M844.6 250h2.3M898.6 250h2.3M808.6 255.4h2.3M853.6 255.4h2.3M851.4 266.2h2.3M840.1 309.3h2.3M860.4 309.3h2.3M878.4 309.3h2.3"/>
<path stroke="#44347e" stroke-width="5.5" d="M543 185.3h2.3M545.2 185.3h2.3M642 185.3h2.3M579 190.7h2.3M601.5 190.7h2.3M653.2 190.7h2.3M558.8 196.1h2.3M574.5 196.1h2.3M588 196.1h2.3M612.8 196.1h2.3M635.2 196.1h2.3M639.8 196.1h2.3M543 201.5h2.3M583.5 201.5h2.3M619.5 206.9h2.3M558.8 212.3h2.3M615 212.3h2.3M655.5 212.3h2.3M565.5 233.8h2.3M549.8 239.2h2.3M615 244.6h2.3M617.2 244.6h2.3M639.8 244.6h2.3M545.2 250h2.3M597 250h2.3M588 255.4h2.3M635.2 255.4h2.3M653.2 255.4h2.3M657.8 255.4h2.3M545.2 260.8h2.3M585.8 266.2h2.3M552 303.9h2.3M556.5 303.9h2.3M630.8 303.9h2.3M639.8 303.9h2.3M676 190.7h2.3M758.4 190.7h2.3M680.6 196.1h2.3M685.1 196.1h2.3M710.3 196.1h2.3M714.9 196.1h2.3M724.1 196.1h2.3M758.4 196.1h2.3M671.4 201.5h2.3M678.3 206.9h2.3M687.4 206.9h2.3M717.2 206.9h2.3M749.3 212.3h2.3M724.1 233.8h2.3M717.2 239.2h2.3M774.5 239.2h2.3M779 239.2h2.3M785.9 239.2h2.3M676 244.6h2.3M735.5 250h2.3M694.3 255.4h2.3M724.1 255.4h2.3M749.3 255.4h2.3M730.9 260.8h2.3M712.6 266.2h2.3M774.5 266.2h2.3M680.6 303.9h2.3M751.6 303.9h2.3M894.1 185.3h2.3M797.4 190.7h2.3M810.9 190.7h2.3M826.6 190.7h2.3M853.6 190.7h2.3M878.4 190.7h2.3M797.4 196.1h2.3M815.4 196.1h2.3M858.1 196.1h2.3M882.9 196.1h2.3M891.9 201.5h2.3M824.4 206.9h2.3M826.6 206.9h2.3M855.9 206.9h2.3M894.1 206.9h2.3M804.1 233.8h2.3M840.1 239.2h2.3M900.9 239.2h2.3M849.1 244.6h2.3M819.9 255.4h2.3M840.1 255.4h2.3M894.1 255.4h2.3M898.6 255.4h2.3M912.1 255.4h2.3M835.6 260.8h2.3M806.4 266.2h2.3M846.9 266.2h2.3M876.1 266.2h2.3M891.9 303.9h2.3M804.1 309.3h2.3M862.6 309.3h2.3"/>
<path stroke="#433c82" stroke-width="5.5" d="M599.2 185.3h2.3M646.5 185.3h2.3M588 190.7h2.3M619.5 190.7h2.3M545.2 196.1h2.3M554.2 196.1h2.3M556.5 196.1h2.3M583.5 196.1h2.3M585.8 196.1h2.3M597 196.1h2.3M617.2 196.1h2.3M644.2 196.1h2.3M556.5 201.5h2.3M585.8 201.5h2.3M601.5 201.5h2.3M608.2 201.5h2.3M648.8 201.5h2.3M543 206.9h2.3M570 206.9h2.3M574.5 206.9h2.3M633 206.9h2.3M646.5 206.9h2.3M648.8 206.9h2.3M561 233.8h2.3M579 233.8h2.3M543 244.6h2.3M635.2 244.6h2.3M572.2 250h2.3M624 250h2.3M626.2 250h2.3M628.5 250h2.3M547.5 255.4h2.3M556.5 255.4h2.3M563.2 255.4h2.3M565.5 255.4h2.3M590.2 255.4h2.3M606 255.4h2.3M617.2 255.4h2.3M642 255.4h2.3M581.2 260.8h2.3M597 260.8h2.3M621.8 260.8h2.3M558.8 266.2h2.3M570 303.9h2.3M597 303.9h2.3M726.4 185.3h2.3M742.4 185.3h2.3M779 185.3h2.3M783.6 185.3h2.3M710.3 190.7h2.3M724.1 190.7h2.3M747 190.7h2.3M779 190.7h2.3M785.9 190.7h2.3M705.7 196.1h2.3M763 196.1h2.3M765.3 196.1h2.3M767.6 196.1h2.3M774.5 196.1h2.3M728.7 201.5h2.3M735.5 201.5h2.3M721.8 206.9h2.3M740.1 206.9h2.3M758.4 206.9h2.3M676 212.3h2.3M744.7 212.3h2.3M779 212.3h2.3M776.7 233.8h2.3M687.4 244.6h2.3M717.2 244.6h2.3M758.4 244.6h2.3M701.2 250h2.3M753.8 250h2.3M680.6 255.4h2.3M703.5 255.4h2.3M714.9 255.4h2.3M756.1 255.4h2.3M760.7 255.4h2.3M776.7 255.4h2.3M721.8 260.8h2.3M765.3 260.8h2.3M712.6 303.9h2.3M721.8 303.9h2.3M742.4 303.9h2.3M671.4 309.3h2.3M828.9 185.3h2.3M842.4 185.3h2.3M869.4 185.3h2.3M903.1 185.3h2.3M806.4 190.7h2.3M831.1 196.1h2.3M869.4 196.1h2.3M799.6 201.5h2.3M810.9 201.5h2.3M833.4 201.5h2.3M853.6 201.5h2.3M835.6 206.9h2.3M867.1 206.9h2.3M903.1 206.9h2.3M810.9 212.3h2.3M891.9 212.3h2.3M903.1 212.3h2.3M842.4 239.2h2.3M864.9 244.6h2.3M896.4 244.6h2.3M846.9 255.4h2.3M900.9 255.4h2.3M871.6 260.8h2.3M889.6 266.2h2.3M903.1 266.2h2.3M912.1 266.2h2.3M806.4 303.9h2.3M813.1 303.9h2.3M844.6 303.9h2.3M912.1 303.9h2.3M891.9 309.3h2.3"/>
<path stroke="#414487" stroke-width="5.5" d="M563.2 185.3h2.3M561 190.7h2.3M567.8 190.7h2.3M612.8 190.7h2.3M570 196.1h2.3M572.2 196.1h2.3M601.5 196.1h2.3M651 196.1h2.3M657.8 196.1h2.3M549.8 201.5h2.3M570 201.5h2.3M581.2 201.5h2.3M637.5 201.5h2.3M579 206.9h2.3M630.8 206.9h2.3M612.8 212.3h2.3M570 233.8h2.3M619.5 239.2h2.3M626.2 239.2h2.3M590.2 244.6h2.3M633 244.6h2.3M563.2 250h2.3M630.8 250h2.3M635.2 250h2.3M644.2 250h2.3M552 255.4h2.3M619.5 255.4h2.3M639.8 255.4h2.3M630.8 260.8h2.3M590.2 266.2h2.3M597 266.2h2.3M601.5 266.2h2.3M642 266.2h2.3M655.5 266.2h2.3M545.2 303.9h2.3M576.8 303.9h2.3M635.2 303.9h2.3M653.2 303.9h2.3M655.5 303.9h2.3M552 309.3h2.3M606 309.3h2.3M651 309.3h2.3M694.3 185.3h2.3M710.3 185.3h2.3M737.8 185.3h2.3M776.7 185.3h2.3M696.6 190.7h2.3M735.5 190.7h2.3M763 190.7h2.3M769.9 190.7h2.3M671.4 196.1h2.3M776.7 196.1h2.3M676 201.5h2.3M698.9 201.5h2.3M701.2 201.5h2.3M705.7 201.5h2.3M753.8 201.5h2.3M758.4 201.5h2.3M767.6 201.5h2.3M673.7 206.9h2.3M680.6 206.9h2.3M703.5 206.9h2.3M763 206.9h2.3M772.2 206.9h2.3M774.5 206.9h2.3M671.4 212.3h2.3M673.7 233.8h2.3M740.1 239.2h2.3M769.9 239.2h2.3M721.8 244.6h2.3M760.7 244.6h2.3M717.2 250h2.3M767.6 250h2.3M769.9 250h2.3M698.9 255.4h2.3M705.7 255.4h2.3M712.6 255.4h2.3M751.6 255.4h2.3M687.4 260.8h2.3M744.7 266.2h2.3M724.1 303.9h2.3M733.2 303.9h2.3M776.7 303.9h2.3M698.9 309.3h2.3M712.6 309.3h2.3M822.1 185.3h2.3M858.1 185.3h2.3M862.6 185.3h2.3M900.9 185.3h2.3M819.9 190.7h2.3M822.1 190.7h2.3M862.6 190.7h2.3M867.1 190.7h2.3M889.6 190.7h2.3M912.1 190.7h2.3M801.9 196.1h2.3M835.6 201.5h2.3M903.1 201.5h2.3M851.4 206.9h2.3M905.4 206.9h2.3M878.4 233.8h2.3M813.1 239.2h2.3M837.9 239.2h2.3M813.1 244.6h2.3M871.6 244.6h2.3M824.4 250h2.3M842.4 250h2.3M889.6 250h2.3M799.6 255.4h2.3M851.4 255.4h2.3M858.1 255.4h2.3M869.4 255.4h2.3M806.4 260.8h2.3M808.6 266.2h2.3M824.4 266.2h2.3M826.6 266.2h2.3M849.1 266.2h2.3M885.1 266.2h2.3M891.9 266.2h2.3M894.1 303.9h2.3M896.4 303.9h2.3M867.1 309.3h2.3M900.9 309.3h2.3"/>
<path stroke="#3e4b88" stroke-width="5.5" d="M574.5 185.3h2.3M585.8 185.3h2.3M619.5 185.3h2.3M583.5 190.7h2.3M639.8 190.7h2.3M581.2 196.1h2.3M599.2 196.1h2.3M606 196.1h2.3M621.8 196.1h2.3M567.8 201.5h2.3M597 201.5h2.3M635.2 206.9h2.3M639.8 206.9h2.3M556.5 212.3h2.3M637.5 212.3h2.3M547.5 239.2h2.3M563.2 239.2h2.3M570 239.2h2.3M651 239.2h2.3M547.5 244.6h2.3M597 244.6h2.3M646.5 244.6h2.3M567.8 250h2.3M599.2 250h2.3M637.5 250h2.3M648.8 250h2.3M599.2 255.4h2.3M615 255.4h2.3M588 260.8h2.3M543 266.2h2.3M549.8 266.2h2.3M657.8 266.2h2.3M628.5 303.9h2.3M570 309.3h2.3M601.5 309.3h2.3M687.4 185.3h2.3M673.7 190.7h2.3M717.2 190.7h2.3M669.1 196.1h2.3M676 196.1h2.3M708 201.5h2.3M760.7 201.5h2.3M785.9 201.5h2.3M685.1 206.9h2.3M714.9 206.9h2.3M753.8 206.9h2.3M760.7 206.9h2.3M776.7 206.9h2.3M742.4 212.3h2.3M680.6 233.8h2.3M687.4 233.8h2.3M710.3 239.2h2.3M728.7 239.2h2.3M756.1 239.2h2.3M765.3 239.2h2.3M710.3 244.6h2.3M769.9 244.6h2.3M710.3 250h2.3M719.5 250h2.3M682.8 255.4h2.3M740.1 255.4h2.3M769.9 255.4h2.3M785.9 255.4h2.3M698.9 266.2h2.3M710.3 266.2h2.3M673.7 303.9h2.3M703.5 303.9h2.3M719.5 303.9h2.3M781.3 303.9h2.3M860.4 185.3h2.3M880.6 185.3h2.3M817.6 190.7h2.3M828.9 190.7h2.3M833.4 190.7h2.3M835.6 190.7h2.3M849.1 190.7h2.3M855.9 190.7h2.3M885.1 190.7h2.3M887.4 190.7h2.3M808.6 196.1h2.3M826.6 196.1h2.3M833.4 196.1h2.3M867.1 196.1h2.3M878.4 196.1h2.3M907.6 196.1h2.3M813.1 201.5h2.3M822.1 201.5h2.3M837.9 201.5h2.3M840.1 201.5h2.3M864.9 201.5h2.3M871.6 201.5h2.3M898.6 201.5h2.3M806.4 206.9h2.3M876.1 206.9h2.3M882.9 206.9h2.3M891.9 206.9h2.3M900.9 206.9h2.3M909.9 206.9h2.3M860.4 212.3h2.3M801.9 233.8h2.3M887.4 233.8h2.3M833.4 239.2h2.3M867.1 239.2h2.3M903.1 239.2h2.3M851.4 244.6h2.3M891.9 244.6h2.3M912.1 244.6h2.3M822.1 250h2.3M864.9 250h2.3M869.4 250h2.3M894.1 250h2.3M849.1 255.4h2.3M873.9 255.4h2.3M882.9 255.4h2.3M896.4 255.4h2.3M907.6 255.4h2.3M824.4 260.8h2.3M837.9 260.8h2.3M801.9 266.2h2.3M828.9 266.2h2.3M815.4 303.9h2.3M833.4 303.9h2.3M860.4 303.9h2.3M858.1 309.3h2.3M905.4 309.3h2.3"/>
<path stroke="#3b528a" stroke-width="5.5" d="M558.8 185.3h2.3M635.2 185.3h2.3M637.5 185.3h2.3M639.8 185.3h2.3M554.2 190.7h2.3M594.8 190.7h2.3M635.2 190.7h2.3M646.5 190.7h2.3M657.8 190.7h2.3M615 196.1h2.3M630.8 196.1h2.3M545.2 201.5h2.3M558.8 201.5h2.3M594.8 201.5h2.3M603.8 201.5h2.3M606 201.5h2.3M619.5 201.5h2.3M633 201.5h2.3M556.5 206.9h2.3M583.5 206.9h2.3M549.8 212.3h2.3M554.2 212.3h2.3M554.2 233.8h2.3M601.5 233.8h2.3M558.8 239.2h2.3M588 239.2h2.3M610.5 239.2h2.3M549.8 244.6h2.3M572.2 244.6h2.3M655.5 244.6h2.3M601.5 250h2.3M610.5 250h2.3M655.5 250h2.3M610.5 255.4h2.3M624 260.8h2.3M561 266.2h2.3M635.2 266.2h2.3M651 266.2h2.3M558.8 303.9h2.3M579 303.9h2.3M590.2 303.9h2.3M606 303.9h2.3M626.2 303.9h2.3M633 303.9h2.3M644.2 303.9h2.3M635.2 309.3h2.3M657.8 309.3h2.3M676 185.3h2.3M696.6 185.3h2.3M701.2 185.3h2.3M705.7 185.3h2.3M781.3 185.3h2.3M698.9 190.7h2.3M701.2 190.7h2.3M728.7 190.7h2.3M751.6 190.7h2.3M717.2 196.1h2.3M728.7 196.1h2.3M779 196.1h2.3M673.7 201.5h2.3M712.6 201.5h2.3M737.8 201.5h2.3M747 201.5h2.3M751.6 201.5h2.3M756.1 201.5h2.3M765.3 201.5h2.3M769.9 201.5h2.3M698.9 206.9h2.3M733.2 206.9h2.3M756.1 206.9h2.3M767.6 206.9h2.3M687.4 212.3h2.3M756.1 212.3h2.3M726.4 239.2h2.3M735.5 239.2h2.3M682.8 244.6h2.3M705.7 244.6h2.3M744.7 244.6h2.3M742.4 250h2.3M744.7 250h2.3M669.1 255.4h2.3M737.8 255.4h2.3M765.3 255.4h2.3M779 255.4h2.3M710.3 260.8h2.3M749.3 260.8h2.3M685.1 266.2h2.3M714.9 266.2h2.3M717.2 266.2h2.3M758.4 266.2h2.3M779 266.2h2.3M758.4 303.9h2.3M799.6 185.3h2.3M846.9 185.3h2.3M912.1 185.3h2.3M831.1 190.7h2.3M882.9 190.7h2.3M819.9 196.1h2.3M846.9 196.1h2.3M849.1 196.1h2.3M860.4 196.1h2.3M862.6 196.1h2.3M898.6 196.1h2.3M851.4 201.5h2.3M862.6 201.5h2.3M869.4 201.5h2.3M885.1 201.5h2.3M896.4 201.5h2.3M822.1 206.9h2.3M898.6 206.9h2.3M822.1 212.3h2.3M853.6 212.3h2.3M873.9 212.3h2.3M853.6 239.2h2.3M869.4 244.6h2.3M889.6 244.6h2.3M799.6 250h2.3M804.1 250h2.3M835.6 250h2.3M862.6 250h2.3M905.4 250h2.3M828.9 255.4h2.3M903.1 255.4h2.3M808.6 260.8h2.3M903.1 260.8h2.3M905.4 260.8h2.3M840.1 266.2h2.3M871.6 266.2h2.3M907.6 266.2h2.3M819.9 303.9h2.3M837.9 303.9h2.3M858.1 303.9h2.3M869.4 303.9h2.3M871.6 303.9h2.3M889.6 303.9h2.3M815.4 309.3h2.3M822.1 309.3h2.3M869.4 309.3h2.3"/>
<path stroke="#38588c" stroke-width="5.5" d="M565.5 185.3h2.3M608.2 185.3h2.3M648.8 185.3h2.3M558.8 190.7h2.3M624 190.7h2.3M637.5 190.7h2.3M648.8 190.7h2.3M626.2 196.1h2.3M646.5 196.1h2.3M547.5 201.5h2.3M574.5 201.5h2.3M576.8 201.5h2.3M610.5 201.5h2.3M615 201.5h2.3M651 201.5h2.3M657.8 201.5h2.3M576.8 206.9h2.3M594.8 206.9h2.3M617.2 206.9h2.3M642 206.9h2.3M594.8 212.3h2.3M601.5 212.3h2.3M648.8 212.3h2.3M585.8 233.8h2.3M585.8 239.2h2.3M612.8 239.2h2.3M617.2 239.2h2.3M545.2 244.6h2.3M554.2 244.6h2.3M585.8 244.6h2.3M549.8 250h2.3M565.5 250h2.3M592.5 250h2.3M612.8 250h2.3M570 255.4h2.3M572.2 255.4h2.3M581.2 255.4h2.3M576.8 260.8h2.3M583.5 260.8h2.3M657.8 260.8h2.3M583.5 266.2h2.3M603.8 266.2h2.3M637.5 266.2h2.3M565.5 303.9h2.3M615 303.9h2.3M585.8 309.3h2.3M630.8 336.3h2.3M708 185.3h2.3M671.4 190.7h2.3M692 190.7h2.3M712.6 190.7h2.3M753.8 190.7h2.3M781.3 190.7h2.3M735.5 196.1h2.3M756.1 196.1h2.3M669.1 201.5h2.3M721.8 201.5h2.3M705.7 206.9h2.3M710.3 212.3h2.3M728.7 212.3h2.3M753.8 212.3h2.3M772.2 212.3h2.3M785.9 212.3h2.3M705.7 233.8h2.3M740.1 233.8h2.3M696.6 239.2h2.3M714.9 239.2h2.3M783.6 239.2h2.3M669.1 244.6h2.3M673.7 244.6h2.3M685.1 244.6h2.3M767.6 244.6h2.3M781.3 244.6h2.3M669.1 250h2.3M687.4 250h2.3M730.9 250h2.3M760.7 250h2.3M785.9 250h2.3M721.8 255.4h2.3M712.6 260.8h2.3M717.2 260.8h2.3M671.4 266.2h2.3M673.7 266.2h2.3M689.7 266.2h2.3M721.8 266.2h2.3M756.1 266.2h2.3M769.9 266.2h2.3M776.7 266.2h2.3M671.4 303.9h2.3M678.3 303.9h2.3M701.2 303.9h2.3M705.7 303.9h2.3M710.3 303.9h2.3M728.7 303.9h2.3M783.6 303.9h2.3M669.1 309.3h2.3M730.9 309.3h2.3M781.3 309.3h2.3M801.9 185.3h2.3M810.9 185.3h2.3M815.4 185.3h2.3M867.1 185.3h2.3M898.6 185.3h2.3M905.4 185.3h2.3M909.9 185.3h2.3M804.1 190.7h2.3M846.9 190.7h2.3M873.9 190.7h2.3M898.6 190.7h2.3M903.1 190.7h2.3M804.1 196.1h2.3M842.4 196.1h2.3M855.9 196.1h2.3M864.9 196.1h2.3M880.6 196.1h2.3M903.1 196.1h2.3M801.9 201.5h2.3M880.6 201.5h2.3M887.4 201.5h2.3M905.4 201.5h2.3M907.6 201.5h2.3M864.9 206.9h2.3M849.1 212.3h2.3M894.1 212.3h2.3M896.4 212.3h2.3M909.9 212.3h2.3M835.6 233.8h2.3M840.1 233.8h2.3M860.4 239.2h2.3M862.6 239.2h2.3M864.9 239.2h2.3M891.9 239.2h2.3M837.9 244.6h2.3M880.6 244.6h2.3M909.9 244.6h2.3M806.4 250h2.3M817.6 250h2.3M826.6 250h2.3M853.6 250h2.3M858.1 250h2.3M860.4 250h2.3M810.9 255.4h2.3M824.4 255.4h2.3M842.4 255.4h2.3M878.4 255.4h2.3M885.1 255.4h2.3M828.9 260.8h2.3M799.6 266.2h2.3M842.4 266.2h2.3M873.9 266.2h2.3M882.9 266.2h2.3M835.6 303.9h2.3M842.4 303.9h2.3M873.9 303.9h2.3M819.9 309.3h2.3M876.1 309.3h2.3"/>
<path stroke="#355f8d" stroke-width="5.5" d="M594.8 185.3h2.3M601.5 185.3h2.3M612.8 185.3h2.3M563.2 190.7h2.3M572.2 190.7h2.3M599.2 190.7h2.3M644.2 190.7h2.3M590.2 196.1h2.3M608.2 196.1h2.3M655.5 196.1h2.3M565.5 201.5h2.3M579 201.5h2.3M639.8 201.5h2.3M642 201.5h2.3M599.2 206.9h2.3M606 206.9h2.3M612.8 206.9h2.3M615 206.9h2.3M655.5 206.9h2.3M626.2 212.3h2.3M543 233.8h2.3M572.2 233.8h2.3M574.5 233.8h2.3M594.8 239.2h2.3M635.2 239.2h2.3M581.2 244.6h2.3M628.5 244.6h2.3M570 250h2.3M581.2 250h2.3M554.2 255.4h2.3M579 255.4h2.3M585.8 255.4h2.3M597 255.4h2.3M621.8 255.4h2.3M648.8 255.4h2.3M594.8 260.8h2.3M617.2 260.8h2.3M644.2 260.8h2.3M545.2 266.2h2.3M592.5 266.2h2.3M563.2 303.9h2.3M543 309.3h2.3M633 309.3h2.3M583.5 336.3h2.3M669.1 185.3h2.3M682.8 185.3h2.3M728.7 185.3h2.3M753.8 185.3h2.3M678.3 190.7h2.3M705.7 190.7h2.3M721.8 190.7h2.3M726.4 190.7h2.3M744.7 190.7h2.3M776.7 190.7h2.3M692 196.1h2.3M781.3 196.1h2.3M685.1 201.5h2.3M689.7 201.5h2.3M724.1 201.5h2.3M763 201.5h2.3M772.2 201.5h2.3M776.7 201.5h2.3M701.2 212.3h2.3M730.9 212.3h2.3M747 212.3h2.3M774.5 212.3h2.3M783.6 212.3h2.3M671.4 233.8h2.3M710.3 233.8h2.3M728.7 233.8h2.3M765.3 233.8h2.3M769.9 233.8h2.3M781.3 233.8h2.3M671.4 239.2h2.3M682.8 239.2h2.3M721.8 239.2h2.3M737.8 239.2h2.3M758.4 239.2h2.3M701.2 244.6h2.3M703.5 244.6h2.3M749.3 244.6h2.3M680.6 250h2.3M708 250h2.3M781.3 250h2.3M710.3 255.4h2.3M733.2 255.4h2.3M763 255.4h2.3M744.7 260.8h2.3M776.7 260.8h2.3M669.1 266.2h2.3M680.6 266.2h2.3M728.7 266.2h2.3M733.2 266.2h2.3M740.1 266.2h2.3M751.6 266.2h2.3M682.8 303.9h2.3M687.4 303.9h2.3M696.6 303.9h2.3M698.9 303.9h2.3M744.7 303.9h2.3M765.3 303.9h2.3M673.7 309.3h2.3M680.6 309.3h2.3M765.3 309.3h2.3M772.2 309.3h2.3M806.4 185.3h2.3M831.1 185.3h2.3M840.1 185.3h2.3M844.6 185.3h2.3M849.1 185.3h2.3M853.6 185.3h2.3M871.6 185.3h2.3M873.9 185.3h2.3M851.4 190.7h2.3M871.6 190.7h2.3M900.9 190.7h2.3M909.9 190.7h2.3M806.4 196.1h2.3M810.9 196.1h2.3M837.9 196.1h2.3M840.1 196.1h2.3M876.1 196.1h2.3M891.9 196.1h2.3M912.1 196.1h2.3M867.1 201.5h2.3M889.6 201.5h2.3M912.1 201.5h2.3M801.9 206.9h2.3M810.9 206.9h2.3M837.9 206.9h2.3M860.4 206.9h2.3M873.9 206.9h2.3M887.4 206.9h2.3M889.6 206.9h2.3M842.4 212.3h2.3M878.4 212.3h2.3M858.1 233.8h2.3M909.9 233.8h2.3M808.6 239.2h2.3M810.9 239.2h2.3M887.4 239.2h2.3M797.4 244.6h2.3M819.9 244.6h2.3M828.9 244.6h2.3M831.1 244.6h2.3M835.6 244.6h2.3M810.9 250h2.3M819.9 250h2.3M828.9 250h2.3M876.1 250h2.3M885.1 250h2.3M844.6 255.4h2.3M871.6 255.4h2.3M880.6 255.4h2.3M826.6 260.8h2.3M882.9 260.8h2.3M894.1 260.8h2.3M804.1 266.2h2.3M817.6 266.2h2.3M853.6 266.2h2.3M864.9 303.9h2.3M876.1 303.9h2.3M907.6 303.9h2.3M828.9 309.3h2.3M849.1 309.3h2.3M896.4 309.3h2.3"/>
<path stroke="#32658d" stroke-width="5.5" d="M570 185.3h2.3M588 185.3h2.3M590.2 185.3h2.3M606 185.3h2.3M570 190.7h2.3M633 190.7h2.3M549.8 196.1h2.3M576.8 196.1h2.3M628.5 196.1h2.3M590.2 201.5h2.3M547.5 206.9h2.3M552 206.9h2.3M567.8 206.9h2.3M603.8 206.9h2.3M653.2 206.9h2.3M579 212.3h2.3M594.8 233.8h2.3M552 239.2h2.3M565.5 239.2h2.3M558.8 244.6h2.3M570 244.6h2.3M592.5 244.6h2.3M606 244.6h2.3M621.8 244.6h2.3M637.5 244.6h2.3M651 244.6h2.3M554.2 250h2.3M556.5 250h2.3M558.8 250h2.3M574.5 250h2.3M576.8 250h2.3M606 250h2.3M642 250h2.3M574.5 255.4h2.3M630.8 255.4h2.3M637.5 255.4h2.3M651 255.4h2.3M543 260.8h2.3M570 260.8h2.3M579 260.8h2.3M590.2 260.8h2.3M601.5 260.8h2.3M603.8 260.8h2.3M646.5 260.8h2.3M579 266.2h2.3M594.8 266.2h2.3M606 266.2h2.3M626.2 266.2h2.3M628.5 266.2h2.3M630.8 266.2h2.3M646.5 266.2h2.3M648.8 266.2h2.3M644.2 271.6h2.3M567.8 303.9h2.3M619.5 303.9h2.3M648.8 303.9h2.3M657.8 303.9h2.3M621.8 309.3h2.3M630.8 309.3h2.3M735.5 185.3h2.3M682.8 190.7h2.3M687.4 190.7h2.3M760.7 190.7h2.3M687.4 196.1h2.3M694.3 196.1h2.3M719.5 196.1h2.3M733.2 196.1h2.3M678.3 201.5h2.3M692 201.5h2.3M710.3 201.5h2.3M749.3 201.5h2.3M779 201.5h2.3M669.1 206.9h2.3M692 206.9h2.3M712.6 206.9h2.3M744.7 206.9h2.3M749.3 206.9h2.3M751.6 206.9h2.3M685.1 212.3h2.3M694.3 212.3h2.3M698.9 212.3h2.3M719.5 212.3h2.3M678.3 233.8h2.3M689.7 233.8h2.3M758.4 233.8h2.3M779 233.8h2.3M705.7 239.2h2.3M744.7 239.2h2.3M753.8 239.2h2.3M671.4 244.6h2.3M726.4 244.6h2.3M673.7 250h2.3M692 250h2.3M737.8 250h2.3M774.5 250h2.3M728.7 255.4h2.3M781.3 255.4h2.3M689.7 260.8h2.3M696.6 260.8h2.3M701.2 260.8h2.3M740.1 260.8h2.3M763 260.8h2.3M785.9 260.8h2.3M753.8 266.2h2.3M772.2 266.2h2.3M714.9 303.9h2.3M735.5 303.9h2.3M747 303.9h2.3M694.3 309.3h2.3M735.5 309.3h2.3M744.7 309.3h2.3M783.6 309.3h2.3M689.7 341.7h2.3M804.1 185.3h2.3M833.4 185.3h2.3M813.1 190.7h2.3M844.6 190.7h2.3M869.4 190.7h2.3M817.6 196.1h2.3M885.1 196.1h2.3M894.1 196.1h2.3M808.6 201.5h2.3M815.4 201.5h2.3M831.1 201.5h2.3M799.6 206.9h2.3M808.6 206.9h2.3M815.4 206.9h2.3M862.6 206.9h2.3M880.6 206.9h2.3M885.1 206.9h2.3M907.6 206.9h2.3M819.9 212.3h2.3M828.9 212.3h2.3M900.9 212.3h2.3M907.6 212.3h2.3M797.4 233.8h2.3M889.6 233.8h2.3M896.4 233.8h2.3M808.6 244.6h2.3M844.6 244.6h2.3M853.6 244.6h2.3M878.4 244.6h2.3M882.9 244.6h2.3M840.1 250h2.3M896.4 250h2.3M912.1 250h2.3M804.1 255.4h2.3M831.1 255.4h2.3M837.9 255.4h2.3M867.1 255.4h2.3M887.4 255.4h2.3M833.4 260.8h2.3M851.4 260.8h2.3M810.9 266.2h2.3M835.6 266.2h2.3M844.6 266.2h2.3M858.1 266.2h2.3M799.6 303.9h2.3M804.1 303.9h2.3M853.6 303.9h2.3M903.1 303.9h2.3M905.4 303.9h2.3M909.9 303.9h2.3M797.4 309.3h2.3M903.1 309.3h2.3"/>
<path stroke="#306c8e" stroke-width="5.5" d="M597 185.3h2.3M651 185.3h2.3M579 196.1h2.3M642 196.1h2.3M612.8 201.5h2.3M635.2 201.5h2.3M554.2 206.9h2.3M581.2 206.9h2.3M610.5 206.9h2.3M637.5 206.9h2.3M657.8 206.9h2.3M543 212.3h2.3M572.2 212.3h2.3M581.2 212.3h2.3M590.2 212.3h2.3M633 212.3h2.3M637.5 233.8h2.3M556.5 239.2h2.3M567.8 239.2h2.3M581.2 239.2h2.3M637.5 239.2h2.3M579 250h2.3M588 250h2.3M621.8 250h2.3M633 250h2.3M567.8 255.4h2.3M594.8 255.4h2.3M626.2 255.4h2.3M628.5 255.4h2.3M633 255.4h2.3M646.5 255.4h2.3M655.5 255.4h2.3M549.8 260.8h2.3M552 260.8h2.3M552 266.2h2.3M570 266.2h2.3M572.2 266.2h2.3M615 266.2h2.3M621.8 266.2h2.3M639.8 266.2h2.3M644.2 266.2h2.3M570 271.6h2.3M585.8 271.6h2.3M599.2 298.6h2.3M574.5 303.9h2.3M624 303.9h2.3M637.5 303.9h2.3M563.2 309.3h2.3M565.5 309.3h2.3M579 309.3h2.3M583.5 309.3h2.3M592.5 309.3h2.3M561 325.5h2.3M621.8 325.5h2.3M633 325.5h2.3M615 336.3h2.3M685.1 185.3h2.3M714.9 185.3h2.3M724.1 185.3h2.3M751.6 185.3h2.3M758.4 185.3h2.3M694.3 190.7h2.3M708 190.7h2.3M730.9 190.7h2.3M737.8 190.7h2.3M682.8 196.1h2.3M710.3 206.9h2.3M730.9 206.9h2.3M740.1 212.3h2.3M751.6 212.3h2.3M781.3 212.3h2.3M669.1 233.8h2.3M719.5 233.8h2.3M744.7 233.8h2.3M760.7 233.8h2.3M785.9 233.8h2.3M776.7 239.2h2.3M708 244.6h2.3M728.7 244.6h2.3M730.9 244.6h2.3M737.8 244.6h2.3M753.8 244.6h2.3M772.2 244.6h2.3M779 244.6h2.3M733.2 250h2.3M747 250h2.3M758.4 250h2.3M763 250h2.3M692 255.4h2.3M708 255.4h2.3M724.1 260.8h2.3M756.1 260.8h2.3M772.2 260.8h2.3M703.5 266.2h2.3M726.4 266.2h2.3M747 266.2h2.3M749.3 266.2h2.3M767.6 266.2h2.3M747 271.6h2.3M689.7 303.9h2.3M730.9 303.9h2.3M763 303.9h2.3M685.1 309.3h2.3M701.2 309.3h2.3M733.2 309.3h2.3M747 309.3h2.3M774.5 309.3h2.3M698.9 320.1h2.3M885.1 185.3h2.3M837.9 190.7h2.3M799.6 196.1h2.3M844.6 196.1h2.3M873.9 196.1h2.3M896.4 196.1h2.3M909.9 196.1h2.3M806.4 201.5h2.3M878.4 201.5h2.3M828.9 206.9h2.3M849.1 206.9h2.3M869.4 206.9h2.3M808.6 212.3h2.3M844.6 212.3h2.3M855.9 212.3h2.3M858.1 212.3h2.3M880.6 233.8h2.3M891.9 233.8h2.3M799.6 239.2h2.3M880.6 239.2h2.3M907.6 239.2h2.3M804.1 244.6h2.3M810.9 244.6h2.3M842.4 244.6h2.3M903.1 244.6h2.3M871.6 250h2.3M880.6 250h2.3M903.1 250h2.3M801.9 255.4h2.3M817.6 255.4h2.3M891.9 255.4h2.3M842.4 260.8h2.3M846.9 260.8h2.3M849.1 260.8h2.3M860.4 260.8h2.3M889.6 260.8h2.3M909.9 260.8h2.3M831.1 266.2h2.3M837.9 266.2h2.3M860.4 266.2h2.3M862.6 266.2h2.3M867.1 266.2h2.3M900.9 266.2h2.3M909.9 266.2h2.3M822.1 303.9h2.3M862.6 303.9h2.3M882.9 303.9h2.3M799.6 309.3h2.3M835.6 309.3h2.3M844.6 309.3h2.3M853.6 309.3h2.3M880.6 309.3h2.3"/>
<path stroke="#2d728e" stroke-width="5.5" d="M572.2 185.3h2.3M579 185.3h2.3M583.5 185.3h2.3M615 185.3h2.3M630.8 185.3h2.3M547.5 190.7h2.3M585.8 190.7h2.3M615 190.7h2.3M655.5 190.7h2.3M547.5 196.1h2.3M594.8 196.1h2.3M549.8 206.9h2.3M624 206.9h2.3M626.2 206.9h2.3M651 206.9h2.3M561 212.3h2.3M592.5 212.3h2.3M610.5 212.3h2.3M619.5 212.3h2.3M630.8 212.3h2.3M615 233.8h2.3M648.8 233.8h2.3M543 239.2h2.3M561 239.2h2.3M572.2 239.2h2.3M583.5 239.2h2.3M603.8 239.2h2.3M655.5 239.2h2.3M574.5 244.6h2.3M576.8 244.6h2.3M579 244.6h2.3M610.5 244.6h2.3M547.5 250h2.3M585.8 250h2.3M639.8 250h2.3M653.2 250h2.3M554.2 260.8h2.3M619.5 260.8h2.3M565.5 266.2h2.3M599.2 266.2h2.3M624 266.2h2.3M599.2 271.6h2.3M619.5 271.6h2.3M554.2 303.9h2.3M608.2 303.9h2.3M615 309.3h2.3M617.2 309.3h2.3M626.2 309.3h2.3M639.8 309.3h2.3M644.2 320.1h2.3M554.2 330.9h2.3M594.8 336.3h2.3M552 341.7h2.3M730.9 185.3h2.3M749.3 185.3h2.3M740.1 190.7h2.3M774.5 190.7h2.3M696.6 196.1h2.3M701.2 196.1h2.3M721.8 196.1h2.3M726.4 196.1h2.3M744.7 196.1h2.3M751.6 196.1h2.3M760.7 196.1h2.3M726.4 201.5h2.3M744.7 201.5h2.3M682.8 206.9h2.3M735.5 212.3h2.3M776.7 212.3h2.3M726.4 233.8h2.3M673.7 239.2h2.3M678.3 239.2h2.3M703.5 239.2h2.3M708 239.2h2.3M719.5 239.2h2.3M698.9 244.6h2.3M765.3 244.6h2.3M785.9 244.6h2.3M694.3 250h2.3M703.5 250h2.3M712.6 250h2.3M756.1 250h2.3M779 250h2.3M696.6 255.4h2.3M774.5 255.4h2.3M676 260.8h2.3M751.6 260.8h2.3M682.8 266.2h2.3M737.8 266.2h2.3M742.4 266.2h2.3M760.7 266.2h2.3M781.3 266.2h2.3M687.4 271.6h2.3M763 298.6h2.3M737.8 303.9h2.3M753.8 303.9h2.3M756.1 303.9h2.3M678.3 309.3h2.3M705.7 309.3h2.3M740.1 309.3h2.3M769.9 309.3h2.3M673.7 325.5h2.3M710.3 336.3h2.3M680.6 341.7h2.3M824.4 185.3h2.3M835.6 185.3h2.3M808.6 190.7h2.3M864.9 190.7h2.3M880.6 190.7h2.3M871.6 196.1h2.3M889.6 196.1h2.3M900.9 196.1h2.3M905.4 196.1h2.3M804.1 201.5h2.3M828.9 201.5h2.3M860.4 201.5h2.3M840.1 206.9h2.3M851.4 212.3h2.3M885.1 212.3h2.3M912.1 212.3h2.3M826.6 233.8h2.3M801.9 239.2h2.3M806.4 239.2h2.3M826.6 239.2h2.3M831.1 239.2h2.3M855.9 239.2h2.3M876.1 239.2h2.3M912.1 239.2h2.3M799.6 244.6h2.3M817.6 244.6h2.3M905.4 244.6h2.3M907.6 244.6h2.3M813.1 250h2.3M815.4 250h2.3M833.4 250h2.3M837.9 250h2.3M855.9 250h2.3M867.1 250h2.3M878.4 250h2.3M887.4 250h2.3M891.9 250h2.3M900.9 250h2.3M855.9 255.4h2.3M909.9 255.4h2.3M815.4 260.8h2.3M853.6 260.8h2.3M869.4 260.8h2.3M815.4 266.2h2.3M822.1 266.2h2.3M833.4 266.2h2.3M855.9 266.2h2.3M869.4 266.2h2.3M898.6 266.2h2.3M801.9 303.9h2.3M808.6 303.9h2.3M824.4 303.9h2.3M851.4 303.9h2.3M867.1 303.9h2.3M889.6 309.3h2.3M912.1 309.3h2.3"/>
<path stroke="#2a788e" stroke-width="5.5" d="M621.8 185.3h2.3M628.5 185.3h2.3M633 185.3h2.3M543 190.7h2.3M576.8 190.7h2.3M592.5 190.7h2.3M603.8 190.7h2.3M543 196.1h2.3M572.2 201.5h2.3M599.2 201.5h2.3M547.5 212.3h2.3M552 212.3h2.3M583.5 212.3h2.3M588 212.3h2.3M624 212.3h2.3M653.2 212.3h2.3M547.5 217.7h2.3M617.2 233.8h2.3M545.2 239.2h2.3M576.8 239.2h2.3M597 239.2h2.3M599.2 239.2h2.3M606 239.2h2.3M646.5 239.2h2.3M552 244.6h2.3M556.5 244.6h2.3M594.8 244.6h2.3M644.2 244.6h2.3M552 250h2.3M583.5 250h2.3M617.2 250h2.3M565.5 260.8h2.3M567.8 260.8h2.3M592.5 260.8h2.3M651 260.8h2.3M563.2 266.2h2.3M574.5 266.2h2.3M567.8 271.6h2.3M619.5 298.6h2.3M601.5 303.9h2.3M610.5 303.9h2.3M545.2 309.3h2.3M554.2 309.3h2.3M556.5 309.3h2.3M612.8 309.3h2.3M545.2 325.5h2.3M558.8 336.3h2.3M572.2 336.3h2.3M581.2 341.7h2.3M678.3 185.3h2.3M680.6 185.3h2.3M689.7 185.3h2.3M733.2 185.3h2.3M740.1 185.3h2.3M744.7 185.3h2.3M760.7 185.3h2.3M733.2 190.7h2.3M678.3 196.1h2.3M703.5 196.1h2.3M733.2 201.5h2.3M735.5 206.9h2.3M765.3 206.9h2.3M781.3 206.9h2.3M785.9 206.9h2.3M721.8 212.3h2.3M737.8 212.3h2.3M682.8 233.8h2.3M772.2 233.8h2.3M783.6 233.8h2.3M680.6 239.2h2.3M712.6 239.2h2.3M751.6 239.2h2.3M735.5 244.6h2.3M751.6 244.6h2.3M678.3 250h2.3M685.1 250h2.3M696.6 250h2.3M705.7 250h2.3M714.9 250h2.3M726.4 250h2.3M751.6 250h2.3M783.6 250h2.3M717.2 255.4h2.3M744.7 255.4h2.3M772.2 255.4h2.3M783.6 255.4h2.3M671.4 260.8h2.3M692 260.8h2.3M753.8 260.8h2.3M692 266.2h2.3M701.2 266.2h2.3M719.5 266.2h2.3M685.1 303.9h2.3M682.8 309.3h2.3M687.4 309.3h2.3M689.7 309.3h2.3M696.6 309.3h2.3M737.8 309.3h2.3M753.8 309.3h2.3M682.8 314.7h2.3M712.6 320.1h2.3M785.9 320.1h2.3M710.3 325.5h2.3M751.6 325.5h2.3M669.1 336.3h2.3M682.8 336.3h2.3M708 336.3h2.3M724.1 341.7h2.3M876.1 185.3h2.3M882.9 185.3h2.3M828.9 196.1h2.3M873.9 201.5h2.3M909.9 201.5h2.3M858.1 206.9h2.3M896.4 206.9h2.3M806.4 212.3h2.3M833.4 212.3h2.3M846.9 212.3h2.3M815.4 233.8h2.3M903.1 233.8h2.3M828.9 239.2h2.3M851.4 239.2h2.3M822.1 244.6h2.3M885.1 244.6h2.3M801.9 250h2.3M882.9 250h2.3M909.9 250h2.3M806.4 255.4h2.3M799.6 260.8h2.3M817.6 260.8h2.3M822.1 260.8h2.3M876.1 260.8h2.3M878.4 260.8h2.3M907.6 260.8h2.3M864.9 266.2h2.3M878.4 303.9h2.3M806.4 309.3h2.3M810.9 309.3h2.3M813.1 309.3h2.3M837.9 309.3h2.3M851.4 309.3h2.3M855.9 309.3h2.3M873.9 309.3h2.3M882.9 309.3h2.3M894.1 309.3h2.3M898.6 309.3h2.3M909.9 309.3h2.3"/>
<path stroke="#287e8e" stroke-width="5.5" d="M567.8 185.3h2.3M626.2 185.3h2.3M655.5 185.3h2.3M549.8 190.7h2.3M565.5 190.7h2.3M608.2 190.7h2.3M588 201.5h2.3M624 201.5h2.3M597 206.9h2.3M585.8 212.3h2.3M617.2 212.3h2.3M639.8 212.3h2.3M554.2 217.7h2.3M545.2 233.8h2.3M549.8 233.8h2.3M556.5 233.8h2.3M581.2 233.8h2.3M621.8 233.8h2.3M624 233.8h2.3M646.5 233.8h2.3M574.5 239.2h2.3M601.5 239.2h2.3M615 239.2h2.3M621.8 239.2h2.3M653.2 239.2h2.3M626.2 244.6h2.3M561 250h2.3M615 250h2.3M624 255.4h2.3M644.2 255.4h2.3M558.8 260.8h2.3M606 260.8h2.3M610.5 260.8h2.3M653.2 260.8h2.3M547.5 266.2h2.3M610.5 266.2h2.3M612.8 266.2h2.3M619.5 266.2h2.3M545.2 271.6h2.3M633 271.6h2.3M637.5 271.6h2.3M639.8 271.6h2.3M612.8 298.6h2.3M644.2 298.6h2.3M599.2 303.9h2.3M547.5 309.3h2.3M561 309.3h2.3M567.8 309.3h2.3M574.5 309.3h2.3M597 309.3h2.3M603.8 309.3h2.3M646.5 309.3h2.3M648.8 309.3h2.3M547.5 314.7h2.3M552 314.7h2.3M599.2 314.7h2.3M628.5 320.1h2.3M630.8 320.1h2.3M572.2 325.5h2.3M655.5 325.5h2.3M619.5 330.9h2.3M635.2 336.3h2.3M563.2 341.7h2.3M603.8 341.7h2.3M628.5 341.7h2.3M717.2 185.3h2.3M765.3 185.3h2.3M714.9 190.7h2.3M737.8 196.1h2.3M740.1 196.1h2.3M783.6 196.1h2.3M694.3 201.5h2.3M781.3 201.5h2.3M689.7 206.9h2.3M696.6 212.3h2.3M733.2 212.3h2.3M760.7 212.3h2.3M769.9 212.3h2.3M776.7 217.7h2.3M774.5 233.8h2.3M692 239.2h2.3M694.3 239.2h2.3M742.4 239.2h2.3M763 239.2h2.3M680.6 244.6h2.3M712.6 244.6h2.3M724.1 244.6h2.3M676 250h2.3M721.8 250h2.3M676 255.4h2.3M726.4 255.4h2.3M747 255.4h2.3M694.3 260.8h2.3M705.7 260.8h2.3M737.8 260.8h2.3M758.4 260.8h2.3M774.5 260.8h2.3M685.1 271.6h2.3M742.4 271.6h2.3M753.8 271.6h2.3M763 271.6h2.3M726.4 303.9h2.3M740.1 303.9h2.3M767.6 303.9h2.3M692 309.3h2.3M721.8 309.3h2.3M767.6 309.3h2.3M765.3 314.7h2.3M747 320.1h2.3M678.3 330.9h2.3M682.8 330.9h2.3M769.9 336.3h2.3M673.7 341.7h2.3M710.3 341.7h2.3M721.8 341.7h2.3M776.7 341.7h2.3M837.9 185.3h2.3M851.4 185.3h2.3M896.4 185.3h2.3M815.4 190.7h2.3M824.4 196.1h2.3M833.4 206.9h2.3M804.1 212.3h2.3M835.6 212.3h2.3M867.1 212.3h2.3M876.1 212.3h2.3M887.4 212.3h2.3M810.9 233.8h2.3M822.1 233.8h2.3M824.4 233.8h2.3M828.9 233.8h2.3M831.1 233.8h2.3M844.6 233.8h2.3M869.4 233.8h2.3M885.1 233.8h2.3M898.6 233.8h2.3M815.4 239.2h2.3M871.6 239.2h2.3M801.9 244.6h2.3M815.4 244.6h2.3M858.1 244.6h2.3M862.6 244.6h2.3M846.9 250h2.3M907.6 250h2.3M826.6 255.4h2.3M797.4 260.8h2.3M819.9 260.8h2.3M900.9 260.8h2.3M813.1 266.2h2.3M797.4 303.9h2.3M810.9 303.9h2.3M828.9 303.9h2.3M840.1 303.9h2.3M849.1 303.9h2.3M887.4 303.9h2.3M898.6 303.9h2.3M824.4 309.3h2.3M846.9 309.3h2.3M864.9 309.3h2.3M871.6 309.3h2.3M907.6 309.3h2.3"/>
<path stroke="#26848d" stroke-width="5.5" d="M624 185.3h2.3M617.2 190.7h2.3M552 196.1h2.3M567.8 196.1h2.3M545.2 212.3h2.3M565.5 212.3h2.3M603.8 212.3h2.3M635.2 212.3h2.3M543 217.7h2.3M561 217.7h2.3M583.5 217.7h2.3M603.8 217.7h2.3M612.8 217.7h2.3M644.2 217.7h2.3M558.8 233.8h2.3M590.2 233.8h2.3M610.5 233.8h2.3M612.8 233.8h2.3M642 233.8h2.3M653.2 233.8h2.3M644.2 239.2h2.3M648.8 239.2h2.3M563.2 244.6h2.3M567.8 244.6h2.3M588 244.6h2.3M642 244.6h2.3M543 255.4h2.3M563.2 260.8h2.3M608.2 260.8h2.3M628.5 260.8h2.3M639.8 260.8h2.3M554.2 266.2h2.3M556.5 266.2h2.3M633 266.2h2.3M561 271.6h2.3M574.5 271.6h2.3M594.8 271.6h2.3M606 271.6h2.3M608.2 271.6h2.3M646.5 271.6h2.3M653.2 271.6h2.3M547.5 298.6h2.3M549.8 298.6h2.3M574.5 298.6h2.3M588 298.6h2.3M601.5 298.6h2.3M624 298.6h2.3M648.8 298.6h2.3M572.2 303.9h2.3M583.5 303.9h2.3M621.8 303.9h2.3M549.8 309.3h2.3M558.8 309.3h2.3M581.2 309.3h2.3M590.2 309.3h2.3M642 309.3h2.3M597 314.7h2.3M615 314.7h2.3M626.2 314.7h2.3M642 314.7h2.3M651 314.7h2.3M574.5 325.5h2.3M588 325.5h2.3M619.5 325.5h2.3M644.2 325.5h2.3M651 325.5h2.3M608.2 330.9h2.3M612.8 330.9h2.3M646.5 330.9h2.3M554.2 336.3h2.3M612.8 336.3h2.3M626.2 336.3h2.3M639.8 336.3h2.3M543 341.7h2.3M558.8 341.7h2.3M608.2 341.7h2.3M712.6 185.3h2.3M703.5 190.7h2.3M730.9 196.1h2.3M703.5 201.5h2.3M682.8 212.3h2.3M712.6 212.3h2.3M767.6 212.3h2.3M708 217.7h2.3M698.9 233.8h2.3M708 233.8h2.3M733.2 233.8h2.3M747 233.8h2.3M751.6 233.8h2.3M753.8 233.8h2.3M767.6 233.8h2.3M730.9 239.2h2.3M733.2 239.2h2.3M689.7 244.6h2.3M747 244.6h2.3M728.7 250h2.3M749.3 250h2.3M747 260.8h2.3M767.6 260.8h2.3M769.9 260.8h2.3M783.6 260.8h2.3M694.3 266.2h2.3M696.6 266.2h2.3M708 266.2h2.3M730.9 266.2h2.3M785.9 266.2h2.3M669.1 271.6h2.3M676 271.6h2.3M749.3 271.6h2.3M756.1 271.6h2.3M769.9 271.6h2.3M774.5 271.6h2.3M687.4 298.6h2.3M744.7 298.6h2.3M747 298.6h2.3M749.3 303.9h2.3M769.9 303.9h2.3M714.9 309.3h2.3M728.7 309.3h2.3M680.6 314.7h2.3M749.3 314.7h2.3M687.4 320.1h2.3M737.8 320.1h2.3M749.3 320.1h2.3M717.2 325.5h2.3M733.2 325.5h2.3M673.7 330.9h2.3M767.6 330.9h2.3M687.4 336.3h2.3M701.2 336.3h2.3M758.4 336.3h2.3M763 336.3h2.3M742.4 341.7h2.3M817.6 185.3h2.3M824.4 201.5h2.3M831.1 206.9h2.3M824.4 212.3h2.3M840.1 212.3h2.3M869.4 212.3h2.3M880.6 212.3h2.3M844.6 217.7h2.3M842.4 233.8h2.3M855.9 233.8h2.3M860.4 233.8h2.3M894.1 233.8h2.3M905.4 233.8h2.3M822.1 239.2h2.3M882.9 239.2h2.3M905.4 239.2h2.3M867.1 244.6h2.3M898.6 244.6h2.3M831.1 250h2.3M833.4 255.4h2.3M810.9 260.8h2.3M858.1 260.8h2.3M864.9 260.8h2.3M867.1 260.8h2.3M896.4 260.8h2.3M898.6 260.8h2.3M797.4 266.2h2.3M887.4 266.2h2.3M896.4 271.6h2.3M905.4 298.6h2.3M831.1 303.9h2.3M885.1 303.9h2.3M817.6 309.3h2.3M826.6 309.3h2.3M882.9 325.5h2.3M817.6 336.3h2.3"/>
<path stroke="#238b8c" stroke-width="5.5" d="M561 185.3h2.3M592.5 185.3h2.3M552 190.7h2.3M563.2 206.9h2.3M567.8 212.3h2.3M574.5 212.3h2.3M576.8 212.3h2.3M597 212.3h2.3M599.2 212.3h2.3M621.8 212.3h2.3M642 212.3h2.3M657.8 212.3h2.3M558.8 217.7h2.3M617.2 217.7h2.3M642 217.7h2.3M657.8 217.7h2.3M592.5 233.8h2.3M597 233.8h2.3M619.5 233.8h2.3M635.2 233.8h2.3M579 239.2h2.3M592.5 239.2h2.3M630.8 239.2h2.3M561 244.6h2.3M612.8 244.6h2.3M657.8 244.6h2.3M646.5 250h2.3M608.2 255.4h2.3M556.5 260.8h2.3M561 260.8h2.3M637.5 260.8h2.3M608.2 266.2h2.3M558.8 271.6h2.3M592.5 271.6h2.3M628.5 271.6h2.3M651 271.6h2.3M563.2 298.6h2.3M590.2 298.6h2.3M606 298.6h2.3M610.5 309.3h2.3M543 314.7h2.3M574.5 314.7h2.3M603.8 314.7h2.3M606 314.7h2.3M633 314.7h2.3M635.2 314.7h2.3M572.2 320.1h2.3M585.8 320.1h2.3M626.2 320.1h2.3M653.2 320.1h2.3M549.8 325.5h2.3M552 325.5h2.3M556.5 325.5h2.3M570 325.5h2.3M594.8 325.5h2.3M603.8 325.5h2.3M628.5 325.5h2.3M646.5 325.5h2.3M563.2 330.9h2.3M590.2 330.9h2.3M581.2 336.3h2.3M547.5 341.7h2.3M549.8 341.7h2.3M594.8 341.7h2.3M601.5 341.7h2.3M635.2 341.7h2.3M637.5 341.7h2.3M767.6 185.3h2.3M769.9 185.3h2.3M680.6 190.7h2.3M685.1 190.7h2.3M765.3 190.7h2.3M712.6 196.1h2.3M726.4 206.9h2.3M678.3 212.3h2.3M680.6 212.3h2.3M692 212.3h2.3M724.1 212.3h2.3M765.3 212.3h2.3M685.1 217.7h2.3M696.6 217.7h2.3M685.1 233.8h2.3M694.3 233.8h2.3M701.2 233.8h2.3M717.2 233.8h2.3M742.4 233.8h2.3M767.6 239.2h2.3M678.3 244.6h2.3M698.9 250h2.3M724.1 250h2.3M689.7 255.4h2.3M742.4 255.4h2.3M758.4 255.4h2.3M669.1 260.8h2.3M703.5 260.8h2.3M708 260.8h2.3M719.5 260.8h2.3M724.1 271.6h2.3M779 271.6h2.3M749.3 298.6h2.3M774.5 298.6h2.3M717.2 309.3h2.3M719.5 309.3h2.3M726.4 309.3h2.3M749.3 309.3h2.3M751.6 309.3h2.3M756.1 309.3h2.3M758.4 309.3h2.3M669.1 314.7h2.3M698.9 314.7h2.3M726.4 314.7h2.3M728.7 314.7h2.3M740.1 314.7h2.3M747 314.7h2.3M756.1 314.7h2.3M710.3 320.1h2.3M733.2 320.1h2.3M767.6 320.1h2.3M769.9 320.1h2.3M774.5 320.1h2.3M783.6 320.1h2.3M744.7 325.5h2.3M769.9 325.5h2.3M689.7 330.9h2.3M703.5 330.9h2.3M742.4 330.9h2.3M749.3 330.9h2.3M769.9 330.9h2.3M772.2 330.9h2.3M673.7 336.3h2.3M676 336.3h2.3M696.6 336.3h2.3M714.9 336.3h2.3M724.1 336.3h2.3M744.7 336.3h2.3M749.3 336.3h2.3M756.1 336.3h2.3M781.3 336.3h2.3M785.9 336.3h2.3M705.7 341.7h2.3M708 341.7h2.3M753.8 341.7h2.3M781.3 341.7h2.3M889.6 185.3h2.3M864.9 212.3h2.3M871.6 212.3h2.3M808.6 233.8h2.3M846.9 233.8h2.3M862.6 233.8h2.3M867.1 233.8h2.3M912.1 233.8h2.3M819.9 239.2h2.3M869.4 239.2h2.3M873.9 239.2h2.3M889.6 239.2h2.3M898.6 239.2h2.3M806.4 244.6h2.3M835.6 255.4h2.3M831.1 260.8h2.3M844.6 260.8h2.3M885.1 260.8h2.3M822.1 271.6h2.3M855.9 271.6h2.3M873.9 271.6h2.3M801.9 298.6h2.3M853.6 298.6h2.3M880.6 303.9h2.3M801.9 309.3h2.3M808.6 309.3h2.3M831.1 309.3h2.3M885.1 309.3h2.3M873.9 320.1h2.3M810.9 325.5h2.3M826.6 325.5h2.3M860.4 325.5h2.3M801.9 330.9h2.3M801.9 336.3h2.3M810.9 336.3h2.3M858.1 341.7h2.3M864.9 341.7h2.3"/>
<path stroke="#21918c" stroke-width="5.5" d="M617.2 185.3h2.3M617.2 201.5h2.3M563.2 212.3h2.3M646.5 212.3h2.3M565.5 217.7h2.3M572.2 217.7h2.3M567.8 233.8h2.3M576.8 233.8h2.3M608.2 233.8h2.3M633 233.8h2.3M590.2 239.2h2.3M633 239.2h2.3M639.8 239.2h2.3M642 239.2h2.3M608.2 244.6h2.3M648.8 244.6h2.3M547.5 260.8h2.3M574.5 260.8h2.3M648.8 260.8h2.3M576.8 266.2h2.3M617.2 266.2h2.3M653.2 266.2h2.3M543 271.6h2.3M583.5 271.6h2.3M612.8 271.6h2.3M626.2 271.6h2.3M642 271.6h2.3M543 298.6h2.3M579 298.6h2.3M581.2 298.6h2.3M626.2 298.6h2.3M628.5 298.6h2.3M617.2 303.9h2.3M576.8 309.3h2.3M588 309.3h2.3M567.8 314.7h2.3M581.2 314.7h2.3M588 314.7h2.3M610.5 314.7h2.3M648.8 314.7h2.3M657.8 314.7h2.3M556.5 320.1h2.3M594.8 320.1h2.3M612.8 320.1h2.3M655.5 320.1h2.3M567.8 325.5h2.3M583.5 325.5h2.3M585.8 325.5h2.3M599.2 325.5h2.3M610.5 325.5h2.3M617.2 325.5h2.3M624 325.5h2.3M635.2 325.5h2.3M639.8 325.5h2.3M642 325.5h2.3M599.2 330.9h2.3M603.8 330.9h2.3M642 330.9h2.3M651 330.9h2.3M545.2 336.3h2.3M601.5 336.3h2.3M608.2 336.3h2.3M648.8 336.3h2.3M597 341.7h2.3M630.8 341.7h2.3M651 341.7h2.3M653.2 341.7h2.3M657.8 341.7h2.3M673.7 185.3h2.3M772.2 185.3h2.3M682.8 201.5h2.3M728.7 206.9h2.3M747 206.9h2.3M708 212.3h2.3M692 217.7h2.3M728.7 217.7h2.3M730.9 217.7h2.3M756.1 217.7h2.3M760.7 217.7h2.3M785.9 217.7h2.3M696.6 233.8h2.3M703.5 233.8h2.3M730.9 233.8h2.3M735.5 233.8h2.3M676 239.2h2.3M724.1 239.2h2.3M719.5 244.6h2.3M719.5 255.4h2.3M678.3 260.8h2.3M685.1 260.8h2.3M714.9 260.8h2.3M779 260.8h2.3M676 266.2h2.3M678.3 266.2h2.3M765.3 266.2h2.3M678.3 271.6h2.3M708 271.6h2.3M728.7 271.6h2.3M733.2 271.6h2.3M760.7 271.6h2.3M781.3 271.6h2.3M692 298.6h2.3M728.7 298.6h2.3M756.1 298.6h2.3M758.4 298.6h2.3M765.3 298.6h2.3M767.6 298.6h2.3M783.6 298.6h2.3M669.1 303.9h2.3M692 303.9h2.3M785.9 303.9h2.3M742.4 309.3h2.3M685.1 314.7h2.3M696.6 314.7h2.3M703.5 314.7h2.3M705.7 314.7h2.3M714.9 314.7h2.3M724.1 314.7h2.3M769.9 314.7h2.3M779 314.7h2.3M669.1 320.1h2.3M685.1 320.1h2.3M696.6 320.1h2.3M703.5 320.1h2.3M728.7 320.1h2.3M760.7 320.1h2.3M772.2 320.1h2.3M680.6 325.5h2.3M714.9 330.9h2.3M735.5 330.9h2.3M744.7 330.9h2.3M785.9 330.9h2.3M671.4 336.3h2.3M678.3 336.3h2.3M692 336.3h2.3M694.3 336.3h2.3M717.2 336.3h2.3M733.2 336.3h2.3M772.2 336.3h2.3M694.3 341.7h2.3M756.1 341.7h2.3M765.3 341.7h2.3M785.9 341.7h2.3M887.4 185.3h2.3M900.9 201.5h2.3M801.9 212.3h2.3M837.9 212.3h2.3M813.1 233.8h2.3M833.4 233.8h2.3M851.4 233.8h2.3M873.9 233.8h2.3M907.6 233.8h2.3M817.6 239.2h2.3M824.4 239.2h2.3M835.6 239.2h2.3M894.1 239.2h2.3M909.9 239.2h2.3M873.9 244.6h2.3M887.4 244.6h2.3M873.9 250h2.3M801.9 260.8h2.3M804.1 260.8h2.3M891.9 260.8h2.3M912.1 260.8h2.3M880.6 266.2h2.3M799.6 271.6h2.3M801.9 271.6h2.3M828.9 271.6h2.3M835.6 271.6h2.3M837.9 271.6h2.3M844.6 271.6h2.3M858.1 271.6h2.3M867.1 271.6h2.3M871.6 271.6h2.3M891.9 271.6h2.3M905.4 271.6h2.3M797.4 298.6h2.3M831.1 298.6h2.3M837.9 298.6h2.3M842.4 298.6h2.3M858.1 298.6h2.3M869.4 298.6h2.3M873.9 298.6h2.3M880.6 298.6h2.3M909.9 298.6h2.3M912.1 298.6h2.3M900.9 303.9h2.3M824.4 314.7h2.3M851.4 314.7h2.3M860.4 314.7h2.3M894.1 314.7h2.3M900.9 314.7h2.3M909.9 314.7h2.3M882.9 320.1h2.3M889.6 320.1h2.3M849.1 325.5h2.3M851.4 325.5h2.3M858.1 325.5h2.3M867.1 325.5h2.3M871.6 325.5h2.3M873.9 325.5h2.3M878.4 325.5h2.3M907.6 325.5h2.3M824.4 330.9h2.3M894.1 330.9h2.3M909.9 330.9h2.3M797.4 336.3h2.3M815.4 336.3h2.3M822.1 336.3h2.3M831.1 336.3h2.3M860.4 336.3h2.3M862.6 336.3h2.3M867.1 336.3h2.3M873.9 336.3h2.3M882.9 336.3h2.3M912.1 336.3h2.3M831.1 341.7h2.3M835.6 341.7h2.3M844.6 341.7h2.3M905.4 341.7h2.3"/>
<path stroke="#21978a" stroke-width="5.5" d="M590.2 190.7h2.3M603.8 196.1h2.3M585.8 217.7h2.3M590.2 217.7h2.3M608.2 217.7h2.3M610.5 217.7h2.3M648.8 217.7h2.3M552 233.8h2.3M563.2 233.8h2.3M628.5 233.8h2.3M624 239.2h2.3M657.8 239.2h2.3M603.8 244.6h2.3M630.8 244.6h2.3M543 250h2.3M603.8 250h2.3M655.5 260.8h2.3M552 271.6h2.3M554.2 271.6h2.3M565.5 271.6h2.3M581.2 271.6h2.3M617.2 271.6h2.3M635.2 271.6h2.3M556.5 298.6h2.3M561 298.6h2.3M565.5 298.6h2.3M572.2 298.6h2.3M594.8 298.6h2.3M621.8 298.6h2.3M630.8 298.6h2.3M637.5 298.6h2.3M628.5 309.3h2.3M653.2 309.3h2.3M655.5 309.3h2.3M556.5 314.7h2.3M558.8 314.7h2.3M583.5 314.7h2.3M592.5 314.7h2.3M612.8 314.7h2.3M617.2 314.7h2.3M628.5 314.7h2.3M637.5 314.7h2.3M653.2 314.7h2.3M655.5 314.7h2.3M603.8 320.1h2.3M633 320.1h2.3M642 320.1h2.3M651 320.1h2.3M547.5 325.5h2.3M612.8 325.5h2.3M630.8 325.5h2.3M637.5 325.5h2.3M556.5 330.9h2.3M570 330.9h2.3M583.5 330.9h2.3M585.8 330.9h2.3M594.8 330.9h2.3M606 330.9h2.3M610.5 330.9h2.3M635.2 330.9h2.3M570 336.3h2.3M574.5 336.3h2.3M579 336.3h2.3M657.8 336.3h2.3M561 341.7h2.3M576.8 341.7h2.3M583.5 341.7h2.3M592.5 341.7h2.3M599.2 341.7h2.3M626.2 341.7h2.3M644.2 341.7h2.3M655.5 341.7h2.3M689.7 212.3h2.3M758.4 212.3h2.3M698.9 217.7h2.3M719.5 217.7h2.3M721.8 217.7h2.3M735.5 217.7h2.3M737.8 217.7h2.3M740.1 217.7h2.3M783.6 217.7h2.3M669.1 239.2h2.3M749.3 239.2h2.3M760.7 239.2h2.3M696.6 244.6h2.3M774.5 244.6h2.3M742.4 260.8h2.3M724.1 266.2h2.3M673.7 271.6h2.3M698.9 271.6h2.3M705.7 271.6h2.3M717.2 271.6h2.3M758.4 271.6h2.3M669.1 298.6h2.3M678.3 298.6h2.3M689.7 298.6h2.3M694.3 298.6h2.3M696.6 298.6h2.3M703.5 298.6h2.3M717.2 298.6h2.3M721.8 298.6h2.3M735.5 298.6h2.3M742.4 298.6h2.3M751.6 298.6h2.3M769.9 298.6h2.3M703.5 309.3h2.3M760.7 309.3h2.3M673.7 314.7h2.3M678.3 314.7h2.3M710.3 314.7h2.3M721.8 314.7h2.3M737.8 314.7h2.3M751.6 314.7h2.3M776.7 314.7h2.3M694.3 320.1h2.3M701.2 320.1h2.3M708 320.1h2.3M726.4 320.1h2.3M744.7 320.1h2.3M751.6 320.1h2.3M765.3 320.1h2.3M776.7 320.1h2.3M682.8 325.5h2.3M685.1 325.5h2.3M689.7 325.5h2.3M694.3 325.5h2.3M696.6 325.5h2.3M730.9 325.5h2.3M735.5 325.5h2.3M737.8 325.5h2.3M776.7 325.5h2.3M687.4 330.9h2.3M708 330.9h2.3M724.1 330.9h2.3M726.4 330.9h2.3M737.8 330.9h2.3M753.8 330.9h2.3M689.7 336.3h2.3M703.5 336.3h2.3M728.7 336.3h2.3M742.4 336.3h2.3M747 336.3h2.3M760.7 336.3h2.3M671.4 341.7h2.3M676 341.7h2.3M682.8 341.7h2.3M703.5 341.7h2.3M737.8 341.7h2.3M774.5 341.7h2.3M887.4 196.1h2.3M813.1 212.3h2.3M862.6 212.3h2.3M889.6 212.3h2.3M898.6 212.3h2.3M822.1 217.7h2.3M831.1 217.7h2.3M853.6 217.7h2.3M885.1 217.7h2.3M894.1 217.7h2.3M912.1 217.7h2.3M871.6 233.8h2.3M876.1 233.8h2.3M797.4 239.2h2.3M858.1 239.2h2.3M896.4 239.2h2.3M826.6 244.6h2.3M840.1 244.6h2.3M815.4 255.4h2.3M862.6 260.8h2.3M873.9 260.8h2.3M880.6 260.8h2.3M887.4 260.8h2.3M896.4 266.2h2.3M808.6 271.6h2.3M813.1 271.6h2.3M815.4 271.6h2.3M819.9 271.6h2.3M824.4 271.6h2.3M840.1 271.6h2.3M851.4 271.6h2.3M862.6 271.6h2.3M876.1 271.6h2.3M880.6 271.6h2.3M885.1 271.6h2.3M907.6 271.6h2.3M909.9 271.6h2.3M912.1 271.6h2.3M804.1 298.6h2.3M806.4 298.6h2.3M808.6 298.6h2.3M815.4 298.6h2.3M817.6 298.6h2.3M824.4 298.6h2.3M828.9 298.6h2.3M851.4 298.6h2.3M855.9 298.6h2.3M862.6 298.6h2.3M867.1 298.6h2.3M871.6 298.6h2.3M882.9 298.6h2.3M885.1 298.6h2.3M891.9 298.6h2.3M855.9 303.9h2.3M797.4 314.7h2.3M801.9 314.7h2.3M813.1 314.7h2.3M815.4 314.7h2.3M822.1 314.7h2.3M840.1 314.7h2.3M849.1 314.7h2.3M869.4 314.7h2.3M871.6 314.7h2.3M876.1 314.7h2.3M880.6 314.7h2.3M882.9 314.7h2.3M885.1 314.7h2.3M887.4 314.7h2.3M898.6 314.7h2.3M905.4 314.7h2.3M813.1 320.1h2.3M817.6 320.1h2.3M826.6 320.1h2.3M833.4 320.1h2.3M835.6 320.1h2.3M842.4 320.1h2.3M846.9 320.1h2.3M855.9 320.1h2.3M858.1 320.1h2.3M860.4 320.1h2.3M876.1 320.1h2.3M905.4 320.1h2.3M822.1 325.5h2.3M824.4 325.5h2.3M831.1 325.5h2.3M844.6 325.5h2.3M864.9 325.5h2.3M905.4 325.5h2.3M822.1 330.9h2.3M831.1 330.9h2.3M844.6 330.9h2.3M867.1 330.9h2.3M869.4 330.9h2.3M896.4 330.9h2.3M804.1 336.3h2.3M808.6 336.3h2.3M819.9 336.3h2.3M828.9 336.3h2.3M833.4 336.3h2.3M840.1 336.3h2.3M842.4 336.3h2.3M846.9 336.3h2.3M849.1 336.3h2.3M855.9 336.3h2.3M858.1 336.3h2.3M864.9 336.3h2.3M885.1 336.3h2.3M887.4 336.3h2.3M889.6 336.3h2.3M898.6 336.3h2.3M808.6 341.7h2.3M813.1 341.7h2.3M819.9 341.7h2.3M822.1 341.7h2.3M837.9 341.7h2.3M840.1 341.7h2.3M842.4 341.7h2.3M851.4 341.7h2.3M882.9 341.7h2.3M887.4 341.7h2.3M889.6 341.7h2.3M898.6 341.7h2.3"/>
<path stroke="#229c88" stroke-width="5.5" d="M610.5 190.7h2.3M651 212.3h2.3M556.5 217.7h2.3M563.2 217.7h2.3M570 217.7h2.3M594.8 217.7h2.3M599.2 217.7h2.3M626.2 217.7h2.3M637.5 217.7h2.3M651 217.7h2.3M655.5 217.7h2.3M606 233.8h2.3M630.8 233.8h2.3M639.8 233.8h2.3M583.5 244.6h2.3M590.2 250h2.3M612.8 260.8h2.3M633 260.8h2.3M547.5 271.6h2.3M556.5 271.6h2.3M563.2 271.6h2.3M615 271.6h2.3M648.8 271.6h2.3M576.8 298.6h2.3M585.8 298.6h2.3M603.8 298.6h2.3M608.2 298.6h2.3M610.5 298.6h2.3M646.5 298.6h2.3M612.8 303.9h2.3M646.5 303.9h2.3M572.2 309.3h2.3M619.5 309.3h2.3M637.5 309.3h2.3M570 314.7h2.3M590.2 314.7h2.3M552 320.1h2.3M570 320.1h2.3M581.2 320.1h2.3M583.5 320.1h2.3M590.2 320.1h2.3M601.5 320.1h2.3M621.8 320.1h2.3M624 320.1h2.3M635.2 320.1h2.3M543 325.5h2.3M554.2 325.5h2.3M581.2 325.5h2.3M543 330.9h2.3M547.5 330.9h2.3M592.5 330.9h2.3M615 330.9h2.3M628.5 330.9h2.3M655.5 330.9h2.3M552 336.3h2.3M556.5 336.3h2.3M565.5 336.3h2.3M597 336.3h2.3M603.8 336.3h2.3M617.2 336.3h2.3M633 336.3h2.3M637.5 336.3h2.3M642 336.3h2.3M545.2 341.7h2.3M570 341.7h2.3M585.8 341.7h2.3M610.5 341.7h2.3M612.8 341.7h2.3M615 341.7h2.3M692 185.3h2.3M673.7 212.3h2.3M678.3 217.7h2.3M701.2 217.7h2.3M772.2 250h2.3M698.9 260.8h2.3M735.5 260.8h2.3M760.7 260.8h2.3M740.1 271.6h2.3M776.7 271.6h2.3M671.4 298.6h2.3M673.7 298.6h2.3M712.6 298.6h2.3M719.5 298.6h2.3M726.4 298.6h2.3M730.9 298.6h2.3M733.2 298.6h2.3M781.3 298.6h2.3M708 309.3h2.3M671.4 314.7h2.3M719.5 314.7h2.3M742.4 314.7h2.3M753.8 314.7h2.3M772.2 314.7h2.3M676 320.1h2.3M682.8 320.1h2.3M742.4 320.1h2.3M687.4 325.5h2.3M705.7 325.5h2.3M714.9 325.5h2.3M724.1 325.5h2.3M740.1 325.5h2.3M756.1 325.5h2.3M763 325.5h2.3M785.9 325.5h2.3M676 330.9h2.3M680.6 330.9h2.3M696.6 330.9h2.3M705.7 330.9h2.3M758.4 330.9h2.3M765.3 330.9h2.3M774.5 330.9h2.3M779 330.9h2.3M783.6 330.9h2.3M680.6 336.3h2.3M698.9 336.3h2.3M719.5 336.3h2.3M721.8 336.3h2.3M735.5 336.3h2.3M737.8 336.3h2.3M767.6 336.3h2.3M669.1 341.7h2.3M687.4 341.7h2.3M719.5 341.7h2.3M744.7 341.7h2.3M747 341.7h2.3M769.9 341.7h2.3M799.6 217.7h2.3M813.1 217.7h2.3M819.9 217.7h2.3M842.4 217.7h2.3M873.9 217.7h2.3M882.9 217.7h2.3M889.6 217.7h2.3M896.4 217.7h2.3M900.9 217.7h2.3M907.6 217.7h2.3M817.6 233.8h2.3M849.1 233.8h2.3M864.9 233.8h2.3M849.1 239.2h2.3M851.4 250h2.3M813.1 260.8h2.3M804.1 271.6h2.3M817.6 271.6h2.3M826.6 271.6h2.3M831.1 271.6h2.3M842.4 271.6h2.3M846.9 271.6h2.3M849.1 271.6h2.3M878.4 271.6h2.3M887.4 271.6h2.3M889.6 271.6h2.3M903.1 271.6h2.3M799.6 298.6h2.3M813.1 298.6h2.3M819.9 298.6h2.3M822.1 298.6h2.3M835.6 298.6h2.3M840.1 298.6h2.3M844.6 298.6h2.3M846.9 298.6h2.3M849.1 298.6h2.3M860.4 298.6h2.3M864.9 298.6h2.3M878.4 298.6h2.3M887.4 298.6h2.3M889.6 298.6h2.3M894.1 298.6h2.3M896.4 298.6h2.3M900.9 298.6h2.3M903.1 298.6h2.3M907.6 298.6h2.3M842.4 309.3h2.3M799.6 314.7h2.3M804.1 314.7h2.3M828.9 314.7h2.3M835.6 314.7h2.3M837.9 314.7h2.3M844.6 314.7h2.3M862.6 314.7h2.3M864.9 314.7h2.3M867.1 314.7h2.3M873.9 314.7h2.3M891.9 314.7h2.3M896.4 314.7h2.3M903.1 314.7h2.3M907.6 314.7h2.3M912.1 314.7h2.3M797.4 320.1h2.3M799.6 320.1h2.3M808.6 320.1h2.3M815.4 320.1h2.3M822.1 320.1h2.3M831.1 320.1h2.3M837.9 320.1h2.3M867.1 320.1h2.3M869.4 320.1h2.3M878.4 320.1h2.3M880.6 320.1h2.3M885.1 320.1h2.3M896.4 320.1h2.3M898.6 320.1h2.3M903.1 320.1h2.3M909.9 320.1h2.3M797.4 325.5h2.3M799.6 325.5h2.3M804.1 325.5h2.3M813.1 325.5h2.3M815.4 325.5h2.3M819.9 325.5h2.3M833.4 325.5h2.3M835.6 325.5h2.3M837.9 325.5h2.3M846.9 325.5h2.3M862.6 325.5h2.3M896.4 325.5h2.3M898.6 325.5h2.3M900.9 325.5h2.3M903.1 325.5h2.3M797.4 330.9h2.3M810.9 330.9h2.3M813.1 330.9h2.3M819.9 330.9h2.3M846.9 330.9h2.3M853.6 330.9h2.3M855.9 330.9h2.3M858.1 330.9h2.3M860.4 330.9h2.3M876.1 330.9h2.3M889.6 330.9h2.3M891.9 330.9h2.3M898.6 330.9h2.3M907.6 330.9h2.3M912.1 330.9h2.3M799.6 336.3h2.3M806.4 336.3h2.3M813.1 336.3h2.3M824.4 336.3h2.3M835.6 336.3h2.3M837.9 336.3h2.3M844.6 336.3h2.3M876.1 336.3h2.3M878.4 336.3h2.3M880.6 336.3h2.3M891.9 336.3h2.3M894.1 336.3h2.3M896.4 336.3h2.3M900.9 336.3h2.3M799.6 341.7h2.3M801.9 341.7h2.3M810.9 341.7h2.3M833.4 341.7h2.3M846.9 341.7h2.3M849.1 341.7h2.3M853.6 341.7h2.3M873.9 341.7h2.3M876.1 341.7h2.3M894.1 341.7h2.3M900.9 341.7h2.3M907.6 341.7h2.3M909.9 341.7h2.3"/>
<path stroke="#22a286" stroke-width="5.5" d="M581.2 185.3h2.3M574.5 217.7h2.3M588 217.7h2.3M597 217.7h2.3M601.5 217.7h2.3M615 217.7h2.3M630.8 217.7h2.3M633 217.7h2.3M635.2 217.7h2.3M599.2 233.8h2.3M572.2 260.8h2.3M585.8 260.8h2.3M599.2 260.8h2.3M626.2 260.8h2.3M572.2 271.6h2.3M576.8 271.6h2.3M597 271.6h2.3M583.5 298.6h2.3M639.8 298.6h2.3M655.5 298.6h2.3M603.8 303.9h2.3M608.2 309.3h2.3M545.2 314.7h2.3M561 314.7h2.3M565.5 314.7h2.3M576.8 314.7h2.3M594.8 314.7h2.3M619.5 314.7h2.3M543 320.1h2.3M558.8 320.1h2.3M567.8 320.1h2.3M646.5 320.1h2.3M657.8 320.1h2.3M558.8 325.5h2.3M565.5 325.5h2.3M579 325.5h2.3M590.2 325.5h2.3M601.5 325.5h2.3M565.5 330.9h2.3M572.2 330.9h2.3M597 330.9h2.3M626.2 330.9h2.3M637.5 330.9h2.3M639.8 330.9h2.3M653.2 330.9h2.3M657.8 330.9h2.3M547.5 336.3h2.3M549.8 336.3h2.3M567.8 336.3h2.3M619.5 336.3h2.3M621.8 336.3h2.3M653.2 336.3h2.3M554.2 341.7h2.3M565.5 341.7h2.3M606 341.7h2.3M619.5 341.7h2.3M621.8 341.7h2.3M639.8 341.7h2.3M763 212.3h2.3M673.7 217.7h2.3M689.7 217.7h2.3M703.5 217.7h2.3M717.2 217.7h2.3M765.3 217.7h2.3M714.9 233.8h2.3M756.1 233.8h2.3M747 239.2h2.3M772.2 239.2h2.3M733.2 244.6h2.3M740.1 250h2.3M765.3 250h2.3M701.2 255.4h2.3M781.3 260.8h2.3M692 271.6h2.3M696.6 271.6h2.3M712.6 271.6h2.3M726.4 271.6h2.3M735.5 271.6h2.3M737.8 271.6h2.3M765.3 271.6h2.3M772.2 271.6h2.3M680.6 282.4h2.3M685.1 298.6h2.3M737.8 298.6h2.3M760.7 298.6h2.3M776.7 298.6h2.3M785.9 298.6h2.3M676 309.3h2.3M710.3 309.3h2.3M676 314.7h2.3M733.2 314.7h2.3M735.5 314.7h2.3M758.4 314.7h2.3M774.5 314.7h2.3M673.7 320.1h2.3M717.2 320.1h2.3M721.8 320.1h2.3M779 320.1h2.3M669.1 325.5h2.3M671.4 325.5h2.3M708 325.5h2.3M712.6 325.5h2.3M747 325.5h2.3M758.4 325.5h2.3M767.6 325.5h2.3M779 325.5h2.3M781.3 325.5h2.3M712.6 330.9h2.3M721.8 330.9h2.3M740.1 330.9h2.3M760.7 330.9h2.3M776.7 330.9h2.3M705.7 336.3h2.3M730.9 336.3h2.3M765.3 336.3h2.3M776.7 336.3h2.3M685.1 341.7h2.3M698.9 341.7h2.3M717.2 341.7h2.3M726.4 341.7h2.3M728.7 341.7h2.3M751.6 341.7h2.3M772.2 341.7h2.3M779 341.7h2.3M882.9 212.3h2.3M797.4 217.7h2.3M804.1 217.7h2.3M815.4 217.7h2.3M835.6 217.7h2.3M846.9 217.7h2.3M862.6 217.7h2.3M864.9 217.7h2.3M867.1 217.7h2.3M871.6 217.7h2.3M876.1 217.7h2.3M880.6 217.7h2.3M903.1 217.7h2.3M905.4 217.7h2.3M837.9 233.8h2.3M900.9 233.8h2.3M804.1 239.2h2.3M844.6 239.2h2.3M900.9 244.6h2.3M797.4 271.6h2.3M806.4 271.6h2.3M833.4 271.6h2.3M860.4 271.6h2.3M864.9 271.6h2.3M869.4 271.6h2.3M810.9 298.6h2.3M826.6 298.6h2.3M833.4 298.6h2.3M876.1 298.6h2.3M898.6 298.6h2.3M826.6 303.9h2.3M810.9 314.7h2.3M817.6 314.7h2.3M819.9 314.7h2.3M831.1 314.7h2.3M842.4 314.7h2.3M855.9 314.7h2.3M858.1 314.7h2.3M889.6 314.7h2.3M801.9 320.1h2.3M806.4 320.1h2.3M810.9 320.1h2.3M824.4 320.1h2.3M828.9 320.1h2.3M840.1 320.1h2.3M844.6 320.1h2.3M849.1 320.1h2.3M851.4 320.1h2.3M853.6 320.1h2.3M864.9 320.1h2.3M871.6 320.1h2.3M887.4 320.1h2.3M891.9 320.1h2.3M900.9 320.1h2.3M907.6 320.1h2.3M912.1 320.1h2.3M801.9 325.5h2.3M806.4 325.5h2.3M840.1 325.5h2.3M842.4 325.5h2.3M853.6 325.5h2.3M855.9 325.5h2.3M880.6 325.5h2.3M885.1 325.5h2.3M889.6 325.5h2.3M909.9 325.5h2.3M912.1 325.5h2.3M799.6 330.9h2.3M806.4 330.9h2.3M808.6 330.9h2.3M815.4 330.9h2.3M817.6 330.9h2.3M826.6 330.9h2.3M835.6 330.9h2.3M864.9 330.9h2.3M873.9 330.9h2.3M882.9 330.9h2.3M885.1 330.9h2.3M887.4 330.9h2.3M905.4 330.9h2.3M826.6 336.3h2.3M851.4 336.3h2.3M853.6 336.3h2.3M869.4 336.3h2.3M871.6 336.3h2.3M905.4 336.3h2.3M907.6 336.3h2.3M797.4 341.7h2.3M806.4 341.7h2.3M815.4 341.7h2.3M824.4 341.7h2.3M828.9 341.7h2.3M862.6 341.7h2.3M871.6 341.7h2.3M880.6 341.7h2.3M891.9 341.7h2.3M896.4 341.7h2.3M912.1 341.7h2.3"/>
<path stroke="#22a884" stroke-width="5.5" d="M576.8 185.3h2.3M570 212.3h2.3M644.2 212.3h2.3M545.2 217.7h2.3M576.8 217.7h2.3M619.5 217.7h2.3M639.8 217.7h2.3M653.2 217.7h2.3M547.5 233.8h2.3M583.5 233.8h2.3M644.2 233.8h2.3M615 260.8h2.3M579 271.6h2.3M590.2 271.6h2.3M601.5 271.6h2.3M657.8 271.6h2.3M590.2 277h2.3M567.8 298.6h2.3M642 298.6h2.3M624 309.3h2.3M554.2 314.7h2.3M624 314.7h2.3M630.8 314.7h2.3M644.2 314.7h2.3M646.5 314.7h2.3M565.5 320.1h2.3M574.5 320.1h2.3M617.2 320.1h2.3M648.8 320.1h2.3M563.2 325.5h2.3M597 325.5h2.3M606 325.5h2.3M549.8 330.9h2.3M558.8 330.9h2.3M574.5 330.9h2.3M579 330.9h2.3M581.2 330.9h2.3M617.2 330.9h2.3M633 330.9h2.3M648.8 330.9h2.3M599.2 336.3h2.3M610.5 336.3h2.3M624 336.3h2.3M628.5 336.3h2.3M644.2 336.3h2.3M572.2 341.7h2.3M574.5 341.7h2.3M579 341.7h2.3M588 341.7h2.3M676 217.7h2.3M705.7 217.7h2.3M733.2 217.7h2.3M744.7 217.7h2.3M749.3 217.7h2.3M774.5 217.7h2.3M676 233.8h2.3M749.3 233.8h2.3M763 233.8h2.3M692 244.6h2.3M740.1 244.6h2.3M728.7 260.8h2.3M682.8 271.6h2.3M689.7 271.6h2.3M701.2 271.6h2.3M721.8 271.6h2.3M744.7 271.6h2.3M701.2 277h2.3M671.4 282.4h2.3M676 298.6h2.3M682.8 298.6h2.3M701.2 298.6h2.3M785.9 309.3h2.3M692 314.7h2.3M694.3 314.7h2.3M701.2 314.7h2.3M708 314.7h2.3M730.9 314.7h2.3M744.7 314.7h2.3M760.7 314.7h2.3M781.3 314.7h2.3M678.3 320.1h2.3M714.9 320.1h2.3M735.5 320.1h2.3M753.8 320.1h2.3M758.4 320.1h2.3M676 325.5h2.3M678.3 325.5h2.3M701.2 325.5h2.3M703.5 325.5h2.3M721.8 325.5h2.3M728.7 325.5h2.3M753.8 325.5h2.3M765.3 325.5h2.3M694.3 330.9h2.3M710.3 330.9h2.3M717.2 330.9h2.3M719.5 330.9h2.3M733.2 330.9h2.3M751.6 330.9h2.3M756.1 330.9h2.3M783.6 336.3h2.3M678.3 341.7h2.3M701.2 341.7h2.3M714.9 341.7h2.3M730.9 341.7h2.3M735.5 341.7h2.3M749.3 341.7h2.3M763 341.7h2.3M767.6 341.7h2.3M783.6 341.7h2.3M797.4 212.3h2.3M815.4 212.3h2.3M801.9 217.7h2.3M806.4 217.7h2.3M808.6 217.7h2.3M817.6 217.7h2.3M824.4 217.7h2.3M826.6 217.7h2.3M828.9 217.7h2.3M837.9 217.7h2.3M849.1 217.7h2.3M851.4 217.7h2.3M855.9 217.7h2.3M858.1 217.7h2.3M887.4 217.7h2.3M891.9 217.7h2.3M806.4 233.8h2.3M855.9 260.8h2.3M894.1 266.2h2.3M810.9 271.6h2.3M853.6 271.6h2.3M882.9 271.6h2.3M894.1 271.6h2.3M898.6 271.6h2.3M900.9 271.6h2.3M806.4 314.7h2.3M808.6 314.7h2.3M833.4 314.7h2.3M804.1 320.1h2.3M894.1 320.1h2.3M808.6 325.5h2.3M828.9 325.5h2.3M869.4 325.5h2.3M891.9 325.5h2.3M840.1 330.9h2.3M862.6 330.9h2.3M871.6 330.9h2.3M878.4 330.9h2.3M900.9 330.9h2.3M903.1 336.3h2.3M909.9 336.3h2.3M804.1 341.7h2.3M817.6 341.7h2.3M855.9 341.7h2.3M867.1 341.7h2.3M869.4 341.7h2.3M885.1 341.7h2.3"/>
<path stroke="#2aae7f" stroke-width="5.5" d="M628.5 212.3h2.3M581.2 217.7h2.3M624 217.7h2.3M603.8 233.8h2.3M642 260.8h2.3M603.8 271.6h2.3M621.8 271.6h2.3M565.5 277h2.3M655.5 277h2.3M588 282.4h2.3M552 298.6h2.3M633 298.6h2.3M635.2 298.6h2.3M651 298.6h2.3M594.8 309.3h2.3M572.2 314.7h2.3M585.8 314.7h2.3M601.5 314.7h2.3M608.2 314.7h2.3M621.8 314.7h2.3M639.8 314.7h2.3M547.5 320.1h2.3M579 320.1h2.3M597 320.1h2.3M599.2 320.1h2.3M592.5 325.5h2.3M615 325.5h2.3M545.2 330.9h2.3M601.5 330.9h2.3M624 330.9h2.3M561 336.3h2.3M576.8 336.3h2.3M585.8 336.3h2.3M606 336.3h2.3M646.5 336.3h2.3M617.2 341.7h2.3M633 341.7h2.3M646.5 341.7h2.3M705.7 212.3h2.3M682.8 217.7h2.3M687.4 217.7h2.3M724.1 217.7h2.3M726.4 217.7h2.3M742.4 217.7h2.3M747 217.7h2.3M753.8 217.7h2.3M763 217.7h2.3M769.9 217.7h2.3M703.5 223h2.3M737.8 233.8h2.3M767.6 271.6h2.3M781.3 282.4h2.3M708 298.6h2.3M710.3 298.6h2.3M753.8 298.6h2.3M779 298.6h2.3M687.4 314.7h2.3M689.7 314.7h2.3M717.2 314.7h2.3M785.9 314.7h2.3M692 320.1h2.3M719.5 320.1h2.3M763 320.1h2.3M781.3 320.1h2.3M692 325.5h2.3M698.9 325.5h2.3M719.5 325.5h2.3M760.7 325.5h2.3M774.5 325.5h2.3M669.1 330.9h2.3M671.4 330.9h2.3M685.1 330.9h2.3M692 330.9h2.3M728.7 330.9h2.3M726.4 336.3h2.3M740.1 336.3h2.3M751.6 336.3h2.3M779 336.3h2.3M758.4 341.7h2.3M831.1 212.3h2.3M810.9 217.7h2.3M833.4 217.7h2.3M840.1 217.7h2.3M860.4 217.7h2.3M869.4 217.7h2.3M878.4 217.7h2.3M898.6 217.7h2.3M909.9 217.7h2.3M853.6 233.8h2.3M855.9 244.6h2.3M878.4 314.7h2.3M862.6 320.1h2.3M817.6 325.5h2.3M876.1 325.5h2.3M887.4 325.5h2.3M894.1 325.5h2.3M804.1 330.9h2.3M828.9 330.9h2.3M837.9 330.9h2.3M851.4 330.9h2.3M880.6 330.9h2.3M860.4 341.7h2.3M878.4 341.7h2.3M903.1 341.7h2.3"/>
<path stroke="#33b47a" stroke-width="5.5" d="M552 217.7h2.3M567.8 217.7h2.3M579 217.7h2.3M592.5 217.7h2.3M630.8 223h2.3M606 228.4h2.3M588 233.8h2.3M626.2 233.8h2.3M651 233.8h2.3M565.5 244.6h2.3M601.5 244.6h2.3M549.8 271.6h2.3M588 271.6h2.3M630.8 271.6h2.3M648.8 277h2.3M556.5 282.4h2.3M594.8 282.4h2.3M657.8 282.4h2.3M554.2 298.6h2.3M558.8 298.6h2.3M570 298.6h2.3M592.5 298.6h2.3M653.2 298.6h2.3M657.8 298.6h2.3M599.2 309.3h2.3M549.8 314.7h2.3M563.2 314.7h2.3M579 314.7h2.3M549.8 320.1h2.3M554.2 320.1h2.3M561 320.1h2.3M592.5 320.1h2.3M626.2 325.5h2.3M648.8 325.5h2.3M653.2 325.5h2.3M657.8 325.5h2.3M567.8 330.9h2.3M576.8 330.9h2.3M630.8 330.9h2.3M563.2 336.3h2.3M651 336.3h2.3M655.5 336.3h2.3M556.5 341.7h2.3M567.8 341.7h2.3M590.2 341.7h2.3M703.5 212.3h2.3M726.4 212.3h2.3M694.3 217.7h2.3M712.6 217.7h2.3M758.4 223h2.3M685.1 239.2h2.3M701.2 239.2h2.3M733.2 260.8h2.3M680.6 271.6h2.3M703.5 271.6h2.3M719.5 271.6h2.3M730.9 271.6h2.3M676 277h2.3M673.7 282.4h2.3M689.7 282.4h2.3M698.9 282.4h2.3M769.9 282.4h2.3M680.6 298.6h2.3M714.9 298.6h2.3M772.2 298.6h2.3M767.6 314.7h2.3M783.6 314.7h2.3M705.7 320.1h2.3M730.9 320.1h2.3M756.1 320.1h2.3M726.4 325.5h2.3M783.6 325.5h2.3M701.2 330.9h2.3M753.8 336.3h2.3M740.1 341.7h2.3M878.4 266.2h2.3M799.6 282.4h2.3M855.9 282.4h2.3M826.6 314.7h2.3M846.9 314.7h2.3M853.6 314.7h2.3M819.9 320.1h2.3M833.4 330.9h2.3M849.1 330.9h2.3M903.1 330.9h2.3M826.6 341.7h2.3"/>
<path stroke="#3cb975" stroke-width="5.5" d="M621.8 217.7h2.3M628.5 217.7h2.3M646.5 217.7h2.3M576.8 223h2.3M639.8 223h2.3M630.8 228.4h2.3M610.5 271.6h2.3M624 271.6h2.3M621.8 277h2.3M561 282.4h2.3M570 282.4h2.3M592.5 282.4h2.3M612.8 282.4h2.3M619.5 282.4h2.3M626.2 282.4h2.3M635.2 282.4h2.3M648.8 282.4h2.3M597 298.6h2.3M615 298.6h2.3M617.2 298.6h2.3M588 320.1h2.3M610.5 320.1h2.3M615 320.1h2.3M637.5 320.1h2.3M608.2 325.5h2.3M561 330.9h2.3M644.2 330.9h2.3M543 336.3h2.3M588 336.3h2.3M590.2 336.3h2.3M624 341.7h2.3M648.8 341.7h2.3M669.1 217.7h2.3M680.6 217.7h2.3M758.4 217.7h2.3M673.7 228.4h2.3M712.6 228.4h2.3M717.2 228.4h2.3M694.3 271.6h2.3M751.6 271.6h2.3M721.8 277h2.3M742.4 277h2.3M744.7 277h2.3M763 277h2.3M717.2 282.4h2.3M744.7 282.4h2.3M753.8 282.4h2.3M763 282.4h2.3M698.9 298.6h2.3M705.7 298.6h2.3M740.1 298.6h2.3M712.6 314.7h2.3M763 314.7h2.3M680.6 320.1h2.3M724.1 320.1h2.3M772.2 325.5h2.3M747 330.9h2.3M763 330.9h2.3M781.3 330.9h2.3M774.5 336.3h2.3M696.6 341.7h2.3M712.6 341.7h2.3M760.7 341.7h2.3M799.6 233.8h2.3M837.9 277h2.3M801.9 282.4h2.3M804.1 282.4h2.3M835.6 282.4h2.3M876.1 282.4h2.3M880.6 282.4h2.3M912.1 282.4h2.3M842.4 330.9h2.3"/>
<path stroke="#44bf70" stroke-width="5.5" d="M556.5 223h2.3M558.8 223h2.3M606 223h2.3M615 223h2.3M621.8 223h2.3M637.5 223h2.3M554.2 228.4h2.3M558.8 228.4h2.3M565.5 228.4h2.3M567.8 228.4h2.3M585.8 228.4h2.3M617.2 228.4h2.3M637.5 228.4h2.3M567.8 277h2.3M570 277h2.3M606 277h2.3M635.2 277h2.3M545.2 282.4h2.3M552 282.4h2.3M567.8 282.4h2.3M590.2 282.4h2.3M597 282.4h2.3M610.5 282.4h2.3M637.5 282.4h2.3M545.2 298.6h2.3M576.8 320.1h2.3M608.2 320.1h2.3M619.5 320.1h2.3M576.8 325.5h2.3M671.4 217.7h2.3M710.3 217.7h2.3M714.9 217.7h2.3M682.8 223h2.3M781.3 223h2.3M714.9 228.4h2.3M721.8 233.8h2.3M673.7 260.8h2.3M726.4 260.8h2.3M783.6 271.6h2.3M671.4 277h2.3M703.5 277h2.3M726.4 277h2.3M753.8 277h2.3M772.2 277h2.3M710.3 282.4h2.3M712.6 282.4h2.3M742.4 282.4h2.3M767.6 282.4h2.3M776.7 282.4h2.3M783.6 282.4h2.3M765.3 293.2h2.3M724.1 298.6h2.3M740.1 320.1h2.3M742.4 325.5h2.3M749.3 325.5h2.3M730.9 330.9h2.3M685.1 336.3h2.3M692 341.7h2.3M733.2 341.7h2.3M819.9 223h2.3M900.9 223h2.3M840.1 277h2.3M849.1 277h2.3M853.6 277h2.3M873.9 277h2.3M876.1 277h2.3M885.1 277h2.3M887.4 277h2.3M909.9 277h2.3M808.6 282.4h2.3M815.4 282.4h2.3M819.9 282.4h2.3M824.4 282.4h2.3M826.6 282.4h2.3M840.1 282.4h2.3M844.6 282.4h2.3M853.6 282.4h2.3M858.1 282.4h2.3M862.6 282.4h2.3M869.4 282.4h2.3M873.9 282.4h2.3M882.9 282.4h2.3M887.4 282.4h2.3M891.9 282.4h2.3M907.6 282.4h2.3M909.9 282.4h2.3"/>
<path stroke="#52c468" stroke-width="5.5" d="M549.8 217.7h2.3M545.2 223h2.3M567.8 223h2.3M581.2 223h2.3M583.5 223h2.3M617.2 223h2.3M633 223h2.3M648.8 223h2.3M563.2 228.4h2.3M601.5 228.4h2.3M644.2 228.4h2.3M655.5 271.6h2.3M543 277h2.3M554.2 277h2.3M556.5 277h2.3M592.5 277h2.3M597 277h2.3M601.5 277h2.3M626.2 277h2.3M549.8 282.4h2.3M563.2 282.4h2.3M574.5 282.4h2.3M585.8 282.4h2.3M603.8 282.4h2.3M606 282.4h2.3M608.2 282.4h2.3M615 282.4h2.3M621.8 282.4h2.3M630.8 282.4h2.3M639.8 320.1h2.3M621.8 330.9h2.3M781.3 217.7h2.3M669.1 223h2.3M676 223h2.3M710.3 223h2.3M742.4 223h2.3M744.7 223h2.3M753.8 223h2.3M765.3 223h2.3M678.3 228.4h2.3M687.4 228.4h2.3M692 228.4h2.3M701.2 228.4h2.3M710.3 228.4h2.3M726.4 228.4h2.3M749.3 228.4h2.3M785.9 228.4h2.3M710.3 271.6h2.3M714.9 271.6h2.3M678.3 277h2.3M694.3 277h2.3M712.6 277h2.3M733.2 277h2.3M756.1 277h2.3M758.4 277h2.3M769.9 277h2.3M682.8 282.4h2.3M696.6 282.4h2.3M703.5 282.4h2.3M708 282.4h2.3M724.1 282.4h2.3M747 282.4h2.3M749.3 282.4h2.3M779 282.4h2.3M698.9 330.9h2.3M712.6 336.3h2.3M824.4 223h2.3M833.4 223h2.3M896.4 223h2.3M903.1 223h2.3M801.9 277h2.3M819.9 277h2.3M822.1 277h2.3M824.4 277h2.3M858.1 277h2.3M882.9 277h2.3M889.6 277h2.3M797.4 282.4h2.3M806.4 282.4h2.3M810.9 282.4h2.3M813.1 282.4h2.3M822.1 282.4h2.3M828.9 282.4h2.3M846.9 282.4h2.3M860.4 282.4h2.3M864.9 282.4h2.3M867.1 282.4h2.3M871.6 282.4h2.3M878.4 282.4h2.3M889.6 282.4h2.3M894.1 282.4h2.3M896.4 282.4h2.3M903.1 282.4h2.3"/>
<path stroke="#5fc860" stroke-width="5.5" d="M606 217.7h2.3M549.8 223h2.3M590.2 223h2.3M608.2 223h2.3M619.5 223h2.3M579 228.4h2.3M583.5 228.4h2.3M592.5 228.4h2.3M624 228.4h2.3M653.2 228.4h2.3M635.2 260.8h2.3M549.8 277h2.3M561 277h2.3M572.2 277h2.3M574.5 277h2.3M581.2 277h2.3M603.8 277h2.3M608.2 277h2.3M619.5 277h2.3M630.8 277h2.3M639.8 277h2.3M644.2 277h2.3M646.5 277h2.3M653.2 277h2.3M543 282.4h2.3M554.2 282.4h2.3M558.8 282.4h2.3M579 282.4h2.3M581.2 282.4h2.3M599.2 282.4h2.3M601.5 282.4h2.3M624 282.4h2.3M628.5 282.4h2.3M644.2 282.4h2.3M653.2 282.4h2.3M655.5 282.4h2.3M630.8 287.8h2.3M603.8 293.2h2.3M545.2 320.1h2.3M563.2 320.1h2.3M552 330.9h2.3M588 330.9h2.3M592.5 336.3h2.3M642 341.7h2.3M671.4 223h2.3M694.3 223h2.3M696.6 223h2.3M705.7 223h2.3M712.6 223h2.3M749.3 223h2.3M760.7 223h2.3M769.9 223h2.3M689.7 228.4h2.3M708 228.4h2.3M740.1 228.4h2.3M742.4 228.4h2.3M744.7 228.4h2.3M751.6 228.4h2.3M776.7 228.4h2.3M785.9 271.6h2.3M669.1 277h2.3M682.8 277h2.3M685.1 277h2.3M687.4 277h2.3M698.9 277h2.3M705.7 277h2.3M717.2 277h2.3M781.3 277h2.3M694.3 282.4h2.3M701.2 282.4h2.3M714.9 282.4h2.3M726.4 282.4h2.3M728.7 282.4h2.3M733.2 282.4h2.3M735.5 282.4h2.3M758.4 282.4h2.3M760.7 282.4h2.3M765.3 282.4h2.3M772.2 282.4h2.3M682.8 293.2h2.3M671.4 320.1h2.3M689.7 320.1h2.3M817.6 223h2.3M822.1 223h2.3M831.1 223h2.3M842.4 223h2.3M849.1 223h2.3M860.4 223h2.3M871.6 223h2.3M873.9 223h2.3M878.4 223h2.3M880.6 223h2.3M889.6 223h2.3M898.6 223h2.3M905.4 223h2.3M817.6 228.4h2.3M824.4 228.4h2.3M826.6 228.4h2.3M882.9 228.4h2.3M900.9 228.4h2.3M912.1 228.4h2.3M797.4 277h2.3M810.9 277h2.3M813.1 277h2.3M815.4 277h2.3M846.9 277h2.3M851.4 277h2.3M860.4 277h2.3M869.4 277h2.3M871.6 277h2.3M878.4 277h2.3M894.1 277h2.3M898.6 277h2.3M903.1 277h2.3M905.4 277h2.3M912.1 277h2.3M817.6 282.4h2.3M831.1 282.4h2.3M833.4 282.4h2.3M842.4 282.4h2.3M849.1 282.4h2.3M905.4 282.4h2.3"/>
<path stroke="#6ccc59" stroke-width="5.5" d="M543 223h2.3M552 223h2.3M565.5 223h2.3M579 223h2.3M592.5 223h2.3M599.2 223h2.3M603.8 223h2.3M594.8 228.4h2.3M633 228.4h2.3M646.5 228.4h2.3M579 277h2.3M583.5 277h2.3M588 277h2.3M594.8 277h2.3M624 277h2.3M628.5 277h2.3M657.8 277h2.3M565.5 282.4h2.3M576.8 282.4h2.3M617.2 282.4h2.3M633 282.4h2.3M651 282.4h2.3M561 287.8h2.3M599.2 287.8h2.3M644.2 287.8h2.3M644.2 293.2h2.3M606 320.1h2.3M767.6 217.7h2.3M772.2 217.7h2.3M779 217.7h2.3M680.6 223h2.3M685.1 223h2.3M692 223h2.3M714.9 223h2.3M728.7 223h2.3M740.1 223h2.3M756.1 223h2.3M774.5 223h2.3M779 223h2.3M783.6 223h2.3M671.4 228.4h2.3M696.6 228.4h2.3M728.7 228.4h2.3M730.9 228.4h2.3M765.3 228.4h2.3M774.5 228.4h2.3M671.4 271.6h2.3M696.6 277h2.3M708 277h2.3M714.9 277h2.3M724.1 277h2.3M730.9 277h2.3M735.5 277h2.3M737.8 277h2.3M740.1 277h2.3M747 277h2.3M749.3 277h2.3M751.6 277h2.3M760.7 277h2.3M767.6 277h2.3M779 277h2.3M785.9 277h2.3M669.1 282.4h2.3M676 282.4h2.3M719.5 282.4h2.3M721.8 282.4h2.3M737.8 282.4h2.3M774.5 282.4h2.3M785.9 282.4h2.3M721.8 287.8h2.3M730.9 287.8h2.3M696.6 293.2h2.3M753.8 293.2h2.3M806.4 223h2.3M808.6 223h2.3M813.1 223h2.3M828.9 223h2.3M858.1 223h2.3M869.4 223h2.3M882.9 223h2.3M806.4 228.4h2.3M819.9 228.4h2.3M831.1 228.4h2.3M835.6 228.4h2.3M840.1 228.4h2.3M849.1 228.4h2.3M851.4 228.4h2.3M858.1 228.4h2.3M876.1 228.4h2.3M880.6 228.4h2.3M889.6 228.4h2.3M896.4 228.4h2.3M898.6 228.4h2.3M909.9 228.4h2.3M799.6 277h2.3M804.1 277h2.3M817.6 277h2.3M826.6 277h2.3M833.4 277h2.3M835.6 277h2.3M844.6 277h2.3M864.9 277h2.3M867.1 277h2.3M880.6 277h2.3M891.9 277h2.3M896.4 277h2.3M900.9 277h2.3M907.6 277h2.3M837.9 282.4h2.3M851.4 282.4h2.3M898.6 282.4h2.3"/>
<path stroke="#7ad151" stroke-width="5.5" d="M547.5 223h2.3M572.2 223h2.3M601.5 223h2.3M610.5 223h2.3M626.2 223h2.3M642 223h2.3M651 223h2.3M653.2 223h2.3M655.5 223h2.3M657.8 223h2.3M552 228.4h2.3M608.2 228.4h2.3M612.8 228.4h2.3M615 228.4h2.3M619.5 228.4h2.3M626.2 228.4h2.3M628.5 228.4h2.3M639.8 228.4h2.3M547.5 277h2.3M552 277h2.3M576.8 277h2.3M585.8 277h2.3M615 277h2.3M617.2 277h2.3M633 277h2.3M637.5 277h2.3M651 277h2.3M547.5 282.4h2.3M583.5 282.4h2.3M639.8 282.4h2.3M646.5 282.4h2.3M558.8 287.8h2.3M597 287.8h2.3M567.8 293.2h2.3M588 293.2h2.3M612.8 293.2h2.3M655.5 293.2h2.3M751.6 217.7h2.3M678.3 223h2.3M717.2 223h2.3M721.8 223h2.3M724.1 223h2.3M726.4 223h2.3M730.9 223h2.3M733.2 223h2.3M785.9 223h2.3M676 228.4h2.3M680.6 228.4h2.3M719.5 228.4h2.3M724.1 228.4h2.3M735.5 228.4h2.3M767.6 228.4h2.3M772.2 228.4h2.3M673.7 277h2.3M680.6 277h2.3M719.5 277h2.3M765.3 277h2.3M774.5 277h2.3M776.7 277h2.3M783.6 277h2.3M678.3 282.4h2.3M685.1 282.4h2.3M687.4 282.4h2.3M705.7 282.4h2.3M740.1 282.4h2.3M751.6 282.4h2.3M756.1 282.4h2.3M714.9 287.8h2.3M694.3 293.2h2.3M730.9 293.2h2.3M797.4 223h2.3M801.9 223h2.3M804.1 223h2.3M810.9 223h2.3M815.4 223h2.3M835.6 223h2.3M837.9 223h2.3M840.1 223h2.3M867.1 223h2.3M885.1 223h2.3M891.9 223h2.3M894.1 223h2.3M907.6 223h2.3M909.9 223h2.3M797.4 228.4h2.3M804.1 228.4h2.3M810.9 228.4h2.3M828.9 228.4h2.3M833.4 228.4h2.3M837.9 228.4h2.3M855.9 228.4h2.3M860.4 228.4h2.3M862.6 228.4h2.3M864.9 228.4h2.3M885.1 228.4h2.3M887.4 228.4h2.3M891.9 228.4h2.3M905.4 228.4h2.3M806.4 277h2.3M808.6 277h2.3M828.9 277h2.3M831.1 277h2.3M842.4 277h2.3M855.9 277h2.3M862.6 277h2.3M885.1 282.4h2.3M900.9 282.4h2.3M849.1 293.2h2.3"/>
<path stroke="#8bd446" stroke-width="5.5" d="M554.2 223h2.3M561 223h2.3M585.8 223h2.3M588 223h2.3M597 223h2.3M612.8 223h2.3M646.5 223h2.3M556.5 228.4h2.3M570 228.4h2.3M572.2 228.4h2.3M574.5 228.4h2.3M576.8 228.4h2.3M590.2 228.4h2.3M610.5 228.4h2.3M621.8 228.4h2.3M635.2 228.4h2.3M642 228.4h2.3M657.8 228.4h2.3M545.2 277h2.3M599.2 277h2.3M610.5 277h2.3M612.8 277h2.3M572.2 282.4h2.3M572.2 287.8h2.3M585.8 287.8h2.3M615 287.8h2.3M646.5 287.8h2.3M648.8 287.8h2.3M653.2 287.8h2.3M549.8 293.2h2.3M594.8 293.2h2.3M606 293.2h2.3M608.2 293.2h2.3M626.2 293.2h2.3M642 293.2h2.3M687.4 223h2.3M735.5 223h2.3M776.7 223h2.3M669.1 228.4h2.3M698.9 228.4h2.3M733.2 228.4h2.3M756.1 228.4h2.3M692 277h2.3M710.3 277h2.3M728.7 277h2.3M692 282.4h2.3M730.9 282.4h2.3M669.1 287.8h2.3M687.4 287.8h2.3M692 287.8h2.3M701.2 287.8h2.3M735.5 287.8h2.3M747 287.8h2.3M726.4 293.2h2.3M756.1 293.2h2.3M772.2 293.2h2.3M774.5 293.2h2.3M785.9 293.2h2.3M799.6 223h2.3M844.6 223h2.3M846.9 223h2.3M851.4 223h2.3M853.6 223h2.3M864.9 223h2.3M876.1 223h2.3M912.1 223h2.3M799.6 228.4h2.3M801.9 228.4h2.3M813.1 228.4h2.3M842.4 228.4h2.3M846.9 228.4h2.3M853.6 228.4h2.3M867.1 228.4h2.3M869.4 228.4h2.3M871.6 228.4h2.3M873.9 228.4h2.3M903.1 228.4h2.3M907.6 228.4h2.3M804.1 287.8h2.3M806.4 287.8h2.3M860.4 287.8h2.3M876.1 287.8h2.3M889.6 287.8h2.3M842.4 293.2h2.3M864.9 293.2h2.3M898.6 293.2h2.3M900.9 293.2h2.3"/>
<path stroke="#9cd83c" stroke-width="5.5" d="M563.2 223h2.3M570 223h2.3M574.5 223h2.3M594.8 223h2.3M624 223h2.3M628.5 223h2.3M543 228.4h2.3M549.8 228.4h2.3M581.2 228.4h2.3M588 228.4h2.3M597 228.4h2.3M599.2 228.4h2.3M648.8 228.4h2.3M651 228.4h2.3M655.5 228.4h2.3M558.8 277h2.3M563.2 277h2.3M642 277h2.3M642 282.4h2.3M576.8 287.8h2.3M590.2 287.8h2.3M606 287.8h2.3M626.2 287.8h2.3M552 293.2h2.3M556.5 293.2h2.3M561 293.2h2.3M579 293.2h2.3M583.5 293.2h2.3M592.5 293.2h2.3M599.2 293.2h2.3M624 293.2h2.3M637.5 293.2h2.3M648.8 293.2h2.3M657.8 293.2h2.3M719.5 223h2.3M737.8 223h2.3M763 223h2.3M694.3 228.4h2.3M705.7 228.4h2.3M737.8 228.4h2.3M753.8 228.4h2.3M769.9 228.4h2.3M708 287.8h2.3M710.3 287.8h2.3M717.2 287.8h2.3M744.7 287.8h2.3M765.3 287.8h2.3M772.2 287.8h2.3M776.7 287.8h2.3M781.3 287.8h2.3M676 293.2h2.3M678.3 293.2h2.3M680.6 293.2h2.3M687.4 293.2h2.3M712.6 293.2h2.3M735.5 293.2h2.3M742.4 293.2h2.3M760.7 293.2h2.3M769.9 293.2h2.3M776.7 293.2h2.3M826.6 223h2.3M855.9 223h2.3M862.6 223h2.3M887.4 223h2.3M808.6 228.4h2.3M815.4 228.4h2.3M822.1 228.4h2.3M844.6 228.4h2.3M878.4 228.4h2.3M894.1 228.4h2.3M797.4 287.8h2.3M822.1 287.8h2.3M842.4 287.8h2.3M846.9 287.8h2.3M851.4 287.8h2.3M855.9 287.8h2.3M873.9 287.8h2.3M882.9 287.8h2.3M887.4 287.8h2.3M898.6 287.8h2.3M900.9 287.8h2.3M817.6 293.2h2.3M819.9 293.2h2.3M822.1 293.2h2.3M824.4 293.2h2.3M858.1 293.2h2.3M878.4 293.2h2.3M894.1 293.2h2.3M903.1 293.2h2.3M905.4 293.2h2.3M912.1 293.2h2.3"/>
<path stroke="#acdc31" stroke-width="5.5" d="M635.2 223h2.3M644.2 223h2.3M545.2 228.4h2.3M547.5 228.4h2.3M603.8 228.4h2.3M563.2 287.8h2.3M581.2 287.8h2.3M601.5 287.8h2.3M603.8 287.8h2.3M617.2 287.8h2.3M619.5 287.8h2.3M628.5 287.8h2.3M642 287.8h2.3M651 287.8h2.3M563.2 293.2h2.3M590.2 293.2h2.3M619.5 293.2h2.3M628.5 293.2h2.3M646.5 293.2h2.3M653.2 293.2h2.3M698.9 223h2.3M682.8 228.4h2.3M703.5 228.4h2.3M747 228.4h2.3M760.7 228.4h2.3M779 228.4h2.3M781.3 228.4h2.3M689.7 277h2.3M680.6 287.8h2.3M696.6 287.8h2.3M698.9 287.8h2.3M703.5 287.8h2.3M719.5 287.8h2.3M728.7 287.8h2.3M733.2 287.8h2.3M740.1 287.8h2.3M753.8 287.8h2.3M760.7 287.8h2.3M763 287.8h2.3M783.6 287.8h2.3M669.1 293.2h2.3M673.7 293.2h2.3M685.1 293.2h2.3M701.2 293.2h2.3M710.3 293.2h2.3M719.5 293.2h2.3M724.1 293.2h2.3M728.7 293.2h2.3M740.1 293.2h2.3M744.7 293.2h2.3M781.3 293.2h2.3M799.6 287.8h2.3M810.9 287.8h2.3M813.1 287.8h2.3M819.9 287.8h2.3M824.4 287.8h2.3M828.9 287.8h2.3M833.4 287.8h2.3M844.6 287.8h2.3M862.6 287.8h2.3M867.1 287.8h2.3M871.6 287.8h2.3M905.4 287.8h2.3M801.9 293.2h2.3M806.4 293.2h2.3M813.1 293.2h2.3M815.4 293.2h2.3M828.9 293.2h2.3M846.9 293.2h2.3M851.4 293.2h2.3M853.6 293.2h2.3M855.9 293.2h2.3M871.6 293.2h2.3M876.1 293.2h2.3M885.1 293.2h2.3M889.6 293.2h2.3M907.6 293.2h2.3M909.9 293.2h2.3"/>
<path stroke="#bddf26" stroke-width="5.5" d="M543 287.8h2.3M549.8 287.8h2.3M552 287.8h2.3M594.8 287.8h2.3M610.5 287.8h2.3M635.2 287.8h2.3M639.8 287.8h2.3M655.5 287.8h2.3M543 293.2h2.3M545.2 293.2h2.3M572.2 293.2h2.3M574.5 293.2h2.3M610.5 293.2h2.3M615 293.2h2.3M621.8 293.2h2.3M630.8 293.2h2.3M635.2 293.2h2.3M689.7 223h2.3M708 223h2.3M747 223h2.3M751.6 223h2.3M767.6 223h2.3M763 228.4h2.3M783.6 228.4h2.3M671.4 287.8h2.3M673.7 287.8h2.3M694.3 287.8h2.3M724.1 287.8h2.3M756.1 287.8h2.3M774.5 287.8h2.3M779 287.8h2.3M671.4 293.2h2.3M689.7 293.2h2.3M698.9 293.2h2.3M703.5 293.2h2.3M705.7 293.2h2.3M714.9 293.2h2.3M747 293.2h2.3M758.4 293.2h2.3M783.6 293.2h2.3M835.6 287.8h2.3M840.1 287.8h2.3M849.1 287.8h2.3M869.4 287.8h2.3M880.6 287.8h2.3M885.1 287.8h2.3M894.1 287.8h2.3M903.1 287.8h2.3M907.6 287.8h2.3M797.4 293.2h2.3M833.4 293.2h2.3M840.1 293.2h2.3M844.6 293.2h2.3M860.4 293.2h2.3M862.6 293.2h2.3M867.1 293.2h2.3M869.4 293.2h2.3M880.6 293.2h2.3M882.9 293.2h2.3M887.4 293.2h2.3M891.9 293.2h2.3M896.4 293.2h2.3"/>
<path stroke="#cde126" stroke-width="5.5" d="M561 228.4h2.3M545.2 287.8h2.3M570 287.8h2.3M574.5 287.8h2.3M579 287.8h2.3M592.5 287.8h2.3M608.2 287.8h2.3M612.8 287.8h2.3M637.5 287.8h2.3M657.8 287.8h2.3M554.2 293.2h2.3M581.2 293.2h2.3M601.5 293.2h2.3M639.8 293.2h2.3M651 293.2h2.3M701.2 223h2.3M685.1 228.4h2.3M721.8 228.4h2.3M676 287.8h2.3M742.4 287.8h2.3M758.4 287.8h2.3M717.2 293.2h2.3M721.8 293.2h2.3M737.8 293.2h2.3M749.3 293.2h2.3M767.6 293.2h2.3M779 293.2h2.3M801.9 287.8h2.3M815.4 287.8h2.3M826.6 287.8h2.3M831.1 287.8h2.3M837.9 287.8h2.3M853.6 287.8h2.3M858.1 287.8h2.3M864.9 287.8h2.3M878.4 287.8h2.3M891.9 287.8h2.3M896.4 287.8h2.3M912.1 287.8h2.3M799.6 293.2h2.3M804.1 293.2h2.3M808.6 293.2h2.3M831.1 293.2h2.3M835.6 293.2h2.3M837.9 293.2h2.3"/>
<path stroke="#dde326" stroke-width="5.5" d="M547.5 287.8h2.3M554.2 287.8h2.3M621.8 287.8h2.3M624 287.8h2.3M570 293.2h2.3M585.8 293.2h2.3M597 293.2h2.3M617.2 293.2h2.3M673.7 223h2.3M758.4 228.4h2.3M705.7 287.8h2.3M767.6 287.8h2.3M769.9 287.8h2.3M708 293.2h2.3M733.2 293.2h2.3M751.6 293.2h2.3M763 293.2h2.3M817.6 287.8h2.3M810.9 293.2h2.3M826.6 293.2h2.3M873.9 293.2h2.3"/>
<path stroke="#ede525" stroke-width="5.5" d="M556.5 287.8h2.3M565.5 287.8h2.3M583.5 287.8h2.3M588 287.8h2.3M558.8 293.2h2.3M565.5 293.2h2.3M576.8 293.2h2.3M633 293.2h2.3M682.8 287.8h2.3M689.7 287.8h2.3M737.8 287.8h2.3M751.6 287.8h2.3M785.9 287.8h2.3M692 293.2h2.3M808.6 287.8h2.3M909.9 287.8h2.3"/>
<path stroke="#fde725" stroke-width="5.5" d="M567.8 287.8h2.3M633 287.8h2.3M547.5 293.2h2.3M772.2 223h2.3M678.3 287.8h2.3M685.1 287.8h2.3M712.6 287.8h2.3M726.4 287.8h2.3M749.3 287.8h2.3"/>
</g></g>
<path d="M861.7 333H905.8V308.3" fill="none" stroke="#fff" stroke-width="3.3"/>
<rect x="929.9" y="199.6" width="15.8" height="134" fill="url(#cbV)" stroke="#3a3a3a" stroke-width="1.4"/>
<text x="948.9" y="21.8" font-size="22" text-anchor="start">100</text>
<text x="948.1" y="156.2" font-size="22" text-anchor="start">55</text>
<text x="988.3" y="81.5" font-size="26" text-anchor="middle" transform="rotate(-90 988.3 81.5)">B-scan</text>
<text x="1019.5" y="81.5" font-size="26" text-anchor="middle" transform="rotate(-90 1019.5 81.5)">intensity (dB)</text>
<text x="948.9" y="207.2" font-size="22" text-anchor="start">100</text>
<text x="948.1" y="340.6" font-size="22" text-anchor="start">55</text>
<text x="988.3" y="266.8" font-size="26" text-anchor="middle" transform="rotate(-90 988.3 266.8)">M-scan</text>
<text x="1019.5" y="266.8" font-size="26" text-anchor="middle" transform="rotate(-90 1019.5 266.8)">intensity (dB)</text>
<text x="11.8" y="24.3" font-size="34" text-anchor="start">a</text>
<text x="505.1" y="24.7" font-size="34" text-anchor="start">b</text>
<text x="506" y="199.1" font-size="34" text-anchor="start">c</text>
<text x="11.5" y="394.6" font-size="34" text-anchor="start">d</text>
<text x="11.8" y="701.7" font-size="34" text-anchor="start">e</text>
<text x="505.6" y="701.3" font-size="34" text-anchor="start">f</text>
<line x1="104.5" y1="392.4" x2="104.5" y2="596.3" stroke="#231f20" stroke-width="1.8"/>
<line x1="103.6" y1="595.4" x2="483" y2="595.4" stroke="#231f20" stroke-width="1.8"/>
<line x1="104.5" y1="595.4" x2="104.5" y2="604.4" stroke="#231f20" stroke-width="1.8"/>
<text x="104.5" y="626" font-size="26" text-anchor="middle">0</text>
<line x1="204.1" y1="595.4" x2="204.1" y2="604.4" stroke="#231f20" stroke-width="1.8"/>
<text x="204.1" y="626" font-size="26" text-anchor="middle">1</text>
<line x1="303.7" y1="595.4" x2="303.7" y2="604.4" stroke="#231f20" stroke-width="1.8"/>
<text x="303.7" y="626" font-size="26" text-anchor="middle">2</text>
<line x1="403.3" y1="595.4" x2="403.3" y2="604.4" stroke="#231f20" stroke-width="1.8"/>
<text x="403.3" y="626" font-size="26" text-anchor="middle">3</text>
<line x1="95.5" y1="392.6" x2="104.5" y2="392.6" stroke="#231f20" stroke-width="1.8"/>
<text x="92" y="402" font-size="26" text-anchor="end">80</text>
<line x1="95.5" y1="460.4" x2="104.5" y2="460.4" stroke="#231f20" stroke-width="1.8"/>
<text x="92" y="469.8" font-size="26" text-anchor="end">40</text>
<line x1="95.5" y1="528.2" x2="104.5" y2="528.2" stroke="#231f20" stroke-width="1.8"/>
<text x="92" y="537.6" font-size="26" text-anchor="end">0</text>
<line x1="95.5" y1="596" x2="104.5" y2="596" stroke="#231f20" stroke-width="1.8"/>
<text x="92" y="605.4" font-size="26" text-anchor="end">−40</text>
<text x="37.6" y="494.6" font-size="27.4" text-anchor="middle" transform="rotate(-90 37.6 494.6)">ΔOPL (nm)</text>
<text x="293" y="655.6" font-size="27.4" text-anchor="middle">Time (s)</text>
<polyline points="104.5,558.9 111.2,558.1 119.3,549 128.4,542.3 135.5,553.4 143.2,538.2 151.1,551 158.8,540 166.9,530 174.6,483.9 182.2,520 189.7,546.3 197.4,507.8 205.1,491.2 212.6,544.3 220.7,546.3 228.4,556.1 236.3,530.1 244.4,558.9 251.7,554.8 259.8,451.4 267.3,522 274.8,552.8 283,463.6 290.7,534.2 298.1,547.3 305.8,531.7 313.9,526 321.4,518.3 329.6,541.3 337.1,525 344.8,526 352.5,534.2 360.6,440.4 368.1,505.8 376.2,530.1 383.7,535.8 391.4,530.1 399.5,502.7 407.2,532.1 414.7,477 422.3,483.4 430.4,397.8 438.1,507.4 445.8,521 453.9,517.9 461.4,411.4 468.9,446.9 477,400.3 481.7,514.9" fill="none" stroke="#6b1a55" stroke-width="2.2" stroke-linejoin="round" stroke-dasharray="7.5 4"/>
<polyline points="104.5,489.5 111.8,562.6 119.3,550.8 126.4,552.8 135.5,562.6 143.2,526.5 151.1,554 158.8,542.3 166.9,533.1 175,526.5 182.2,523 189.7,550 197.4,528 205.5,518.3 213.2,551.4 220.7,533.8 228.4,524 235.9,540.2 244,538.2 251.7,547.3 259.8,532.5 267.3,535.2 274.8,543.3 283,518.3 290.7,525.6 298.1,540.2 305.2,543.3 313.9,528.5 321.4,524.4 328.9,530.5 337.1,519.6 344.8,519.1 352.5,537.8 360.6,512.3 368.7,516.3 376.2,518.7 383.7,520.8 391.4,537.8 399.5,520 407.2,520 414.1,494 422.3,479.4 430,471.7 438.1,510.2 445.8,503.3 453.9,483.9 461.4,472.9 468.9,478.2 477,485.1 481.7,514.9" fill="none" stroke="#6b1a55" stroke-width="2.2" stroke-linejoin="round"/>
<line x1="608.5" y1="392.2" x2="608.5" y2="596.7" stroke="#231f20" stroke-width="1.8"/>
<line x1="607.6" y1="595.8" x2="986" y2="595.8" stroke="#231f20" stroke-width="1.8"/>
<line x1="608.5" y1="595.8" x2="608.5" y2="604.8" stroke="#231f20" stroke-width="1.8"/>
<text x="608.5" y="626.4" font-size="26" text-anchor="middle">0</text>
<line x1="707.3" y1="595.8" x2="707.3" y2="604.8" stroke="#231f20" stroke-width="1.8"/>
<text x="707.3" y="626.4" font-size="26" text-anchor="middle">1</text>
<line x1="806.1" y1="595.8" x2="806.1" y2="604.8" stroke="#231f20" stroke-width="1.8"/>
<text x="806.1" y="626.4" font-size="26" text-anchor="middle">2</text>
<line x1="904.9" y1="595.8" x2="904.9" y2="604.8" stroke="#231f20" stroke-width="1.8"/>
<text x="904.9" y="626.4" font-size="26" text-anchor="middle">3</text>
<line x1="599.5" y1="392.3" x2="608.5" y2="392.3" stroke="#231f20" stroke-width="1.8"/>
<text x="596" y="401.7" font-size="26" text-anchor="end">200</text>
<line x1="599.5" y1="432.9" x2="608.5" y2="432.9" stroke="#231f20" stroke-width="1.8"/>
<line x1="599.5" y1="473.6" x2="608.5" y2="473.6" stroke="#231f20" stroke-width="1.8"/>
<text x="596" y="483" font-size="26" text-anchor="end">100</text>
<line x1="599.5" y1="514.3" x2="608.5" y2="514.3" stroke="#231f20" stroke-width="1.8"/>
<line x1="599.5" y1="555" x2="608.5" y2="555" stroke="#231f20" stroke-width="1.8"/>
<text x="596" y="564.4" font-size="26" text-anchor="end">0</text>
<line x1="599.5" y1="595.7" x2="608.5" y2="595.7" stroke="#231f20" stroke-width="1.8"/>
<text x="541.5" y="494" font-size="27.4" text-anchor="middle" transform="rotate(-90 541.5 494)">ΔOPL (nm)</text>
<text x="797.7" y="655.6" font-size="27.4" text-anchor="middle">Time (s)</text>
<polyline points="608.4,551.7 615.6,557.6 623.4,552.7 631.2,546.4 639,551.7 646.8,562.4 654.6,566 662.4,566.3 670.2,556.6 678,531.6 685.9,552.7 693.7,559.5 701.5,556.6 709.3,552.7 717.1,563.4 724.9,552.7 732.7,529.7 740.5,551.7 748.3,562.4 756.1,553.1 763.9,568.3 771.7,572.6 779.5,564.4 787.3,534.1 795.1,551.1 802.7,560 810.1,520.5 817.9,536.1 825.7,530.2 832.9,567.3 840.7,541.4 848.5,558.5 856.3,574.1 864.1,531.6 872,582 879.8,537.1 887.6,570.2 895.4,571.2 903.3,486.4 910.8,576.6 918.5,531 925.6,536.1 934.3,501.6 941.8,532 948.9,577.6 957,579.7 965.1,396.2 972.8,549.3 981,447.9 985.4,536.1" fill="none" stroke="#e2304a" stroke-width="2.2" stroke-linejoin="round" stroke-dasharray="7.5 4"/>
<polyline points="608.4,569.9 615.6,557.6 623.4,551.5 631.2,545.9 639,550 645.9,556.6 654.6,552.3 662.4,560.9 670.2,551.1 678,548.8 685.9,549.8 693.7,547.2 701.5,551.1 709.3,555.2 717.1,551.7 724.9,550.7 732.7,564 740.5,552.7 748.3,558.5 756.1,555.6 763.9,555.6 771.7,566.3 779.5,564.4 787.3,553.1 795.1,555.6 802.7,571.8 810.1,542.9 817.9,555.6 825.7,559.5 832.9,555.6 840.7,556.2 848.5,567.9 856.3,582 864.1,563.4 872,585.9 879.8,541 887.6,564.4 895.3,581 903.3,569.5 911.2,570.5 918.8,558.5 926.6,548.3 934.3,556.8 942.3,547.2 949.9,560.4 958,545.2 965.5,557.4 973.2,557.4 985.4,553.3" fill="none" stroke="#e2304a" stroke-width="2.2" stroke-linejoin="round"/>
<text x="718" y="421.2" font-size="22" text-anchor="start">location 1</text>
<text x="819.5" y="421.2" font-size="22" text-anchor="start">location 2</text>
<text x="640" y="452" font-size="22" text-anchor="start">PRESIR</text>
<text x="631" y="480.7" font-size="22" text-anchor="start">Pixel-level</text>
<line x1="744.4" y1="449.3" x2="785" y2="449.3" stroke="#6b1a55" stroke-width="2.6"/>
<line x1="845.9" y1="449.3" x2="886.5" y2="449.3" stroke="#e2304a" stroke-width="2.6"/>
<line x1="744.4" y1="476.7" x2="785" y2="476.7" stroke="#6b1a55" stroke-width="2.6" stroke-dasharray="7.6 3.8"/>
<line x1="845.9" y1="476.7" x2="886.5" y2="476.7" stroke="#e2304a" stroke-width="2.6" stroke-dasharray="7.6 3.8"/>
<line x1="608.2" y1="693.3" x2="608.2" y2="996.3" stroke="#231f20" stroke-width="1.8"/>
<line x1="607.3" y1="995.4" x2="991" y2="995.4" stroke="#231f20" stroke-width="1.8"/>
<line x1="607.5" y1="995.4" x2="607.5" y2="1004.4" stroke="#231f20" stroke-width="1.8"/>
<line x1="676" y1="995.4" x2="676" y2="1004.4" stroke="#231f20" stroke-width="1.8"/>
<text x="676" y="1026" font-size="26" text-anchor="middle">0</text>
<line x1="744.5" y1="995.4" x2="744.5" y2="1004.4" stroke="#231f20" stroke-width="1.8"/>
<line x1="813" y1="995.4" x2="813" y2="1004.4" stroke="#231f20" stroke-width="1.8"/>
<text x="813" y="1026" font-size="26" text-anchor="middle">1</text>
<line x1="881.5" y1="995.4" x2="881.5" y2="1004.4" stroke="#231f20" stroke-width="1.8"/>
<line x1="950" y1="995.4" x2="950" y2="1004.4" stroke="#231f20" stroke-width="1.8"/>
<text x="950" y="1026" font-size="26" text-anchor="middle">2</text>
<line x1="599.2" y1="713.2" x2="608.2" y2="713.2" stroke="#231f20" stroke-width="1.8"/>
<text x="594.2" y="722.6" font-size="26" text-anchor="end">450</text>
<line x1="599.2" y1="772.7" x2="608.2" y2="772.7" stroke="#231f20" stroke-width="1.8"/>
<text x="594.2" y="782.1" font-size="26" text-anchor="end">300</text>
<line x1="599.2" y1="832.2" x2="608.2" y2="832.2" stroke="#231f20" stroke-width="1.8"/>
<text x="594.2" y="841.6" font-size="26" text-anchor="end">150</text>
<line x1="599.2" y1="891.7" x2="608.2" y2="891.7" stroke="#231f20" stroke-width="1.8"/>
<text x="594.2" y="901.1" font-size="26" text-anchor="end">0</text>
<line x1="599.2" y1="951.2" x2="608.2" y2="951.2" stroke="#231f20" stroke-width="1.8"/>
<text x="594.2" y="960.6" font-size="26" text-anchor="end">−150</text>
<text x="524.8" y="844" font-size="27.4" text-anchor="middle" transform="rotate(-90 524.8 844)">ΔOPL (nm)</text>
<text x="799.6" y="1056.8" font-size="27.4" text-anchor="middle">Time (s)</text>
<polyline points="608.8,894.5 623.4,893.3 635.1,890.4 644.5,888.6 655,891.2 666.2,891 676.7,886.9 687.7,963 698.3,969.5 708.6,934 718.3,921.2 730.5,903.5 740.8,898.6 750.5,896.1 761.8,886.4 772.4,889.6 782.7,892.8 794,885.1 803.6,889 814.9,877.7 826.1,885.8 835.8,880 847.1,874.5 856.7,875.5 867,876.7 878.6,887.4 890.5,874.5 901.2,877.7 911.5,874.5 921.1,872.2 932.4,874.5 943,880 953.3,880 963.6,877.7 974.3,874.5 990.3,870.3" fill="none" stroke="#6b1a55" stroke-width="2.2" stroke-linejoin="round" stroke-dasharray="7.5 4"/>
<polyline points="608.8,894.5 623.4,893.3 635.1,890.4 644.5,888.6 655,891.2 666.2,891 676.7,886.9 686.3,862.8 696.9,806.8 709.3,773.7 719.6,756.7 730,746.3 741.7,736.6 750.7,734.4 762.3,724.2 773,726.8 783.1,728.6 793.8,722.5 804.7,721 815.6,718.4 826.3,721.7 836.4,719.2 846.5,718.7 858,720.4 868.1,716.6 879,717.4 889.7,712.3 900.3,714.9 910.5,714.4 921.4,711.8 932.3,716.6 942.9,715.4 953.6,713.8 964.5,715.9 975.4,710.8 989.9,711.6" fill="none" stroke="#6b1a55" stroke-width="2.2" stroke-linejoin="round"/>
<polyline points="608.8,893.8 624,891.5 635.1,888.6 645.7,884.5 655,892.7 665.6,882.8 676.7,886.3 686.3,862.8 696.9,812.7 709.3,792 719.6,785.5 730,770 741.7,757 750.7,754.7 762.3,736.2 772.5,746.3 783.1,748.9 793.8,742 804.7,747.1 815.6,717.4 826.3,708.3 836.4,725.5 847.1,752.2 858,739.5 868.1,748.9 879,719.9 889.7,714.1 900.3,719.9 911.2,752.2 921.4,748.3 932.3,739.5 942.9,720.4 953.6,728 964.5,748.9 975.4,731.1 989.9,723" fill="none" stroke="#e2304a" stroke-width="2.2" stroke-linejoin="round" stroke-dasharray="7.5 4"/>
<polyline points="608.8,893.3 629.3,890.4 645,887 655,884 665.6,886.3 676.7,887.5 686.3,862.8 696.9,812.7 709.3,792 719.6,785.5 730,773.7 741.7,760.2 750.7,758.5 762.3,750.9 772.5,758.5 783.1,748.9 793.8,742 804.7,747.1 815.6,742.8 826.3,745.8 836.4,742 847.1,750.9 858,733.1 868.1,747.1 879,735.7 889.7,736.9 900.3,740.2 910.5,742 921.4,742 932.3,737.7 942.9,730.6 953.6,733.6 964.5,739 975.4,735.7 989.9,730.6" fill="none" stroke="#e2304a" stroke-width="2.2" stroke-linejoin="round"/>
<text x="802" y="916.3" font-size="22" text-anchor="start">location 1</text>
<text x="903.4" y="916.3" font-size="22" text-anchor="start">location 2</text>
<text x="724.5" y="947.6" font-size="22" text-anchor="start">PRESIR</text>
<text x="715" y="977.3" font-size="22" text-anchor="start">Pixel-level</text>
<line x1="828.4" y1="945.3" x2="869" y2="945.3" stroke="#6b1a55" stroke-width="2.6"/>
<line x1="929.2" y1="945.3" x2="970" y2="945.3" stroke="#e2304a" stroke-width="2.6"/>
<line x1="828.4" y1="972.7" x2="869" y2="972.7" stroke="#6b1a55" stroke-width="2.6" stroke-dasharray="7.6 3.8"/>
<line x1="929.2" y1="972.7" x2="970" y2="972.7" stroke="#e2304a" stroke-width="2.6" stroke-dasharray="7.6 3.8"/>
<g shape-rendering="crispEdges">
<rect x="122.7" y="972.4" width="15" height="11.8" fill="#a0b4df"/>
<rect x="122.7" y="960.7" width="15" height="11.8" fill="#93acdc"/>
<rect x="137.7" y="960.7" width="15" height="11.8" fill="#93acdc"/>
<rect x="152.7" y="960.7" width="15" height="11.8" fill="#93acdc"/>
<rect x="167.7" y="960.7" width="15" height="11.8" fill="#aabbe0"/>
<rect x="182.7" y="960.7" width="15" height="11.8" fill="#aabbe0"/>
<rect x="212.7" y="960.7" width="15" height="11.8" fill="#aabbe0"/>
<rect x="257.7" y="960.7" width="15" height="11.8" fill="#aabbe0"/>
<rect x="137.7" y="948.9" width="15" height="11.8" fill="#86a5d9"/>
<rect x="152.7" y="948.9" width="15" height="11.8" fill="#5686ca"/>
<rect x="167.7" y="948.9" width="15" height="11.8" fill="#6e97d3"/>
<rect x="182.7" y="948.9" width="15" height="11.8" fill="#7a9ed7"/>
<rect x="197.7" y="948.9" width="15" height="11.8" fill="#a0b4df"/>
<rect x="212.7" y="948.9" width="15" height="11.8" fill="#a0b4df"/>
<rect x="227.7" y="948.9" width="15" height="11.8" fill="#a0b4df"/>
<rect x="242.7" y="948.9" width="15" height="11.8" fill="#a0b4df"/>
<rect x="257.7" y="948.9" width="15" height="11.8" fill="#aabbe0"/>
<rect x="137.7" y="937.2" width="15" height="11.8" fill="#aabbe0"/>
<rect x="152.7" y="937.2" width="15" height="11.8" fill="#86a5d9"/>
<rect x="167.7" y="937.2" width="15" height="11.8" fill="#515b7b"/>
<rect x="182.7" y="937.2" width="15" height="11.8" fill="#5f8ccd"/>
<rect x="197.7" y="937.2" width="15" height="11.8" fill="#6e97d3"/>
<rect x="212.7" y="937.2" width="15" height="11.8" fill="#86a5d9"/>
<rect x="227.7" y="937.2" width="15" height="11.8" fill="#93acdc"/>
<rect x="242.7" y="937.2" width="15" height="11.8" fill="#a0b4df"/>
<rect x="257.7" y="937.2" width="15" height="11.8" fill="#a0b4df"/>
<rect x="272.7" y="937.2" width="15" height="11.8" fill="#a0b4df"/>
<rect x="287.7" y="937.2" width="15" height="11.8" fill="#aabbe0"/>
<rect x="152.7" y="925.4" width="15" height="11.8" fill="#a0b4df"/>
<rect x="167.7" y="925.4" width="15" height="11.8" fill="#7a9ed7"/>
<rect x="182.7" y="925.4" width="15" height="11.8" fill="#5f8ccd"/>
<rect x="197.7" y="925.4" width="15" height="11.8" fill="#5f8ccd"/>
<rect x="212.7" y="925.4" width="15" height="11.8" fill="#5f8ccd"/>
<rect x="227.7" y="925.4" width="15" height="11.8" fill="#93acdc"/>
<rect x="242.7" y="925.4" width="15" height="11.8" fill="#93acdc"/>
<rect x="257.7" y="925.4" width="15" height="11.8" fill="#93acdc"/>
<rect x="272.7" y="925.4" width="15" height="11.8" fill="#a0b4df"/>
<rect x="287.7" y="925.4" width="15" height="11.8" fill="#a0b4df"/>
<rect x="317.7" y="925.4" width="15" height="11.8" fill="#aabbe0"/>
<rect x="407.7" y="925.4" width="15" height="11.8" fill="#aabbe0"/>
<rect x="422.7" y="925.4" width="15" height="11.8" fill="#aabbe0"/>
<rect x="167.7" y="913.7" width="15" height="11.8" fill="#aabbe0"/>
<rect x="182.7" y="913.7" width="15" height="11.8" fill="#6e97d3"/>
<rect x="197.7" y="913.7" width="15" height="11.8" fill="#5686ca"/>
<rect x="212.7" y="913.7" width="15" height="11.8" fill="#86a5d9"/>
<rect x="227.7" y="913.7" width="15" height="11.8" fill="#6e97d3"/>
<rect x="242.7" y="913.7" width="15" height="11.8" fill="#93acdc"/>
<rect x="257.7" y="913.7" width="15" height="11.8" fill="#a0b4df"/>
<rect x="272.7" y="913.7" width="15" height="11.8" fill="#93acdc"/>
<rect x="182.7" y="901.9" width="15" height="11.8" fill="#aabbe0"/>
<rect x="197.7" y="901.9" width="15" height="11.8" fill="#6e97d3"/>
<rect x="212.7" y="901.9" width="15" height="11.8" fill="#5686ca"/>
<rect x="227.7" y="901.9" width="15" height="11.8" fill="#7a9ed7"/>
<rect x="242.7" y="901.9" width="15" height="11.8" fill="#93acdc"/>
<rect x="257.7" y="901.9" width="15" height="11.8" fill="#93acdc"/>
<rect x="272.7" y="901.9" width="15" height="11.8" fill="#a0b4df"/>
<rect x="287.7" y="901.9" width="15" height="11.8" fill="#a0b4df"/>
<rect x="302.7" y="901.9" width="15" height="11.8" fill="#a0b4df"/>
<rect x="332.7" y="901.9" width="15" height="11.8" fill="#aabbe0"/>
<rect x="407.7" y="901.9" width="15" height="11.8" fill="#aabbe0"/>
<rect x="212.7" y="890.2" width="15" height="11.8" fill="#a0b4df"/>
<rect x="227.7" y="890.2" width="15" height="11.8" fill="#7a9ed7"/>
<rect x="242.7" y="890.2" width="15" height="11.8" fill="#93acdc"/>
<rect x="257.7" y="890.2" width="15" height="11.8" fill="#93acdc"/>
<rect x="272.7" y="890.2" width="15" height="11.8" fill="#93acdc"/>
<rect x="302.7" y="890.2" width="15" height="11.8" fill="#a0b4df"/>
<rect x="317.7" y="890.2" width="15" height="11.8" fill="#aabbe0"/>
<rect x="332.7" y="890.2" width="15" height="11.8" fill="#aabbe0"/>
<rect x="347.7" y="890.2" width="15" height="11.8" fill="#aabbe0"/>
<rect x="212.7" y="878.5" width="15" height="11.8" fill="#aabbe0"/>
<rect x="227.7" y="878.5" width="15" height="11.8" fill="#a0b4df"/>
<rect x="242.7" y="878.5" width="15" height="11.8" fill="#6e97d3"/>
<rect x="257.7" y="878.5" width="15" height="11.8" fill="#86a5d9"/>
<rect x="272.7" y="878.5" width="15" height="11.8" fill="#93acdc"/>
<rect x="287.7" y="878.5" width="15" height="11.8" fill="#a0b4df"/>
<rect x="302.7" y="878.5" width="15" height="11.8" fill="#a0b4df"/>
<rect x="332.7" y="878.5" width="15" height="11.8" fill="#aabbe0"/>
<rect x="347.7" y="878.5" width="15" height="11.8" fill="#aabbe0"/>
<rect x="227.7" y="866.7" width="15" height="11.8" fill="#aabbe0"/>
<rect x="242.7" y="866.7" width="15" height="11.8" fill="#86a5d9"/>
<rect x="257.7" y="866.7" width="15" height="11.8" fill="#86a5d9"/>
<rect x="272.7" y="866.7" width="15" height="11.8" fill="#93acdc"/>
<rect x="287.7" y="866.7" width="15" height="11.8" fill="#86a5d9"/>
<rect x="302.7" y="866.7" width="15" height="11.8" fill="#a0b4df"/>
<rect x="317.7" y="866.7" width="15" height="11.8" fill="#93acdc"/>
<rect x="347.7" y="866.7" width="15" height="11.8" fill="#aabbe0"/>
<rect x="377.7" y="866.7" width="15" height="11.8" fill="#aabbe0"/>
<rect x="242.7" y="855" width="15" height="11.8" fill="#a0b4df"/>
<rect x="257.7" y="855" width="15" height="11.8" fill="#93acdc"/>
<rect x="272.7" y="855" width="15" height="11.8" fill="#86a5d9"/>
<rect x="287.7" y="855" width="15" height="11.8" fill="#93acdc"/>
<rect x="302.7" y="855" width="15" height="11.8" fill="#93acdc"/>
<rect x="317.7" y="855" width="15" height="11.8" fill="#93acdc"/>
<rect x="347.7" y="855" width="15" height="11.8" fill="#aabbe0"/>
<rect x="362.7" y="855" width="15" height="11.8" fill="#aabbe0"/>
<rect x="437.7" y="855" width="15" height="11.8" fill="#aabbe0"/>
<rect x="242.7" y="843.2" width="15" height="11.8" fill="#aabbe0"/>
<rect x="257.7" y="843.2" width="15" height="11.8" fill="#a0b4df"/>
<rect x="272.7" y="843.2" width="15" height="11.8" fill="#a0b4df"/>
<rect x="287.7" y="843.2" width="15" height="11.8" fill="#93acdc"/>
<rect x="302.7" y="843.2" width="15" height="11.8" fill="#93acdc"/>
<rect x="317.7" y="843.2" width="15" height="11.8" fill="#93acdc"/>
<rect x="332.7" y="843.2" width="15" height="11.8" fill="#aabbe0"/>
<rect x="362.7" y="843.2" width="15" height="11.8" fill="#aabbe0"/>
<rect x="437.7" y="843.2" width="15" height="11.8" fill="#aabbe0"/>
<rect x="257.7" y="831.5" width="15" height="11.8" fill="#aabbe0"/>
<rect x="272.7" y="831.5" width="15" height="11.8" fill="#a0b4df"/>
<rect x="287.7" y="831.5" width="15" height="11.8" fill="#a0b4df"/>
<rect x="302.7" y="831.5" width="15" height="11.8" fill="#93acdc"/>
<rect x="317.7" y="831.5" width="15" height="11.8" fill="#93acdc"/>
<rect x="332.7" y="831.5" width="15" height="11.8" fill="#aabbe0"/>
<rect x="347.7" y="831.5" width="15" height="11.8" fill="#aabbe0"/>
<rect x="362.7" y="831.5" width="15" height="11.8" fill="#aabbe0"/>
<rect x="377.7" y="831.5" width="15" height="11.8" fill="#aabbe0"/>
<rect x="422.7" y="831.5" width="15" height="11.8" fill="#aabbe0"/>
<rect x="257.7" y="819.7" width="15" height="11.8" fill="#aabbe0"/>
<rect x="287.7" y="819.7" width="15" height="11.8" fill="#aabbe0"/>
<rect x="302.7" y="819.7" width="15" height="11.8" fill="#a0b4df"/>
<rect x="317.7" y="819.7" width="15" height="11.8" fill="#93acdc"/>
<rect x="332.7" y="819.7" width="15" height="11.8" fill="#93acdc"/>
<rect x="347.7" y="819.7" width="15" height="11.8" fill="#a0b4df"/>
<rect x="377.7" y="819.7" width="15" height="11.8" fill="#aabbe0"/>
<rect x="437.7" y="819.7" width="15" height="11.8" fill="#aabbe0"/>
<rect x="257.7" y="808" width="15" height="11.8" fill="#aabbe0"/>
<rect x="272.7" y="808" width="15" height="11.8" fill="#aabbe0"/>
<rect x="317.7" y="808" width="15" height="11.8" fill="#aabbe0"/>
<rect x="332.7" y="808" width="15" height="11.8" fill="#a0b4df"/>
<rect x="347.7" y="808" width="15" height="11.8" fill="#a0b4df"/>
<rect x="362.7" y="808" width="15" height="11.8" fill="#aabbe0"/>
<rect x="392.7" y="808" width="15" height="11.8" fill="#aabbe0"/>
<rect x="407.7" y="808" width="15" height="11.8" fill="#aabbe0"/>
<rect x="437.7" y="808" width="15" height="11.8" fill="#aabbe0"/>
<rect x="332.7" y="796.3" width="15" height="11.8" fill="#aabbe0"/>
<rect x="347.7" y="796.3" width="15" height="11.8" fill="#93acdc"/>
<rect x="362.7" y="796.3" width="15" height="11.8" fill="#aabbe0"/>
<rect x="377.7" y="796.3" width="15" height="11.8" fill="#aabbe0"/>
<rect x="392.7" y="796.3" width="15" height="11.8" fill="#aabbe0"/>
<rect x="407.7" y="796.3" width="15" height="11.8" fill="#aabbe0"/>
<rect x="437.7" y="796.3" width="15" height="11.8" fill="#aabbe0"/>
<rect x="332.7" y="784.5" width="15" height="11.8" fill="#aabbe0"/>
<rect x="347.7" y="784.5" width="15" height="11.8" fill="#aabbe0"/>
<rect x="362.7" y="784.5" width="15" height="11.8" fill="#a0b4df"/>
<rect x="422.7" y="784.5" width="15" height="11.8" fill="#aabbe0"/>
<rect x="377.7" y="772.8" width="15" height="11.8" fill="#aabbe0"/>
<rect x="407.7" y="772.8" width="15" height="11.8" fill="#aabbe0"/>
<rect x="422.7" y="772.8" width="15" height="11.8" fill="#aabbe0"/>
<rect x="392.7" y="761" width="15" height="11.8" fill="#aabbe0"/>
<rect x="422.7" y="761" width="15" height="11.8" fill="#aabbe0"/>
<rect x="362.7" y="749.3" width="15" height="11.8" fill="#aabbe0"/>
<rect x="392.7" y="749.3" width="15" height="11.8" fill="#aabbe0"/>
<rect x="407.7" y="749.3" width="15" height="11.8" fill="#aabbe0"/>
<rect x="422.7" y="749.3" width="15" height="11.8" fill="#aabbe0"/>
<rect x="407.7" y="737.5" width="15" height="11.8" fill="#aabbe0"/>
<rect x="437.7" y="725.8" width="15" height="11.8" fill="#aabbe0"/>
<rect x="437.7" y="690.6" width="15" height="11.8" fill="#aabbe0"/>
</g>
<line x1="93.5" y1="995.9" x2="482.6" y2="691.3" stroke="#1a1a1a" stroke-width="2.4" stroke-dasharray="13.65 13.65" stroke-dashoffset="0.5"/>
<line x1="93.5" y1="692.3" x2="93.5" y2="996.8" stroke="#231f20" stroke-width="1.8"/>
<line x1="92.6" y1="995.9" x2="482.6" y2="995.9" stroke="#231f20" stroke-width="1.8"/>
<line x1="93.5" y1="995.9" x2="93.5" y2="1004.9" stroke="#231f20" stroke-width="1.8"/>
<text x="93.5" y="1026.5" font-size="26" text-anchor="middle">0</text>
<line x1="281" y1="995.9" x2="281" y2="1004.9" stroke="#231f20" stroke-width="1.8"/>
<text x="281" y="1026.5" font-size="26" text-anchor="middle">25</text>
<line x1="468.5" y1="995.9" x2="468.5" y2="1004.9" stroke="#231f20" stroke-width="1.8"/>
<text x="468.5" y="1026.5" font-size="26" text-anchor="middle">50</text>
<line x1="84.5" y1="702.3" x2="93.5" y2="702.3" stroke="#231f20" stroke-width="1.8"/>
<text x="81" y="711.7" font-size="26" text-anchor="end">50</text>
<line x1="84.5" y1="849.1" x2="93.5" y2="849.1" stroke="#231f20" stroke-width="1.8"/>
<text x="81" y="858.5" font-size="26" text-anchor="end">25</text>
<line x1="84.5" y1="995.9" x2="93.5" y2="995.9" stroke="#231f20" stroke-width="1.8"/>
<text x="81" y="1005.3" font-size="26" text-anchor="end">0</text>
<text x="80.4" y="1059.4" font-size="31" font-style="italic">σ</text>
<text x="97" y="1063.9" font-size="21" font-style="italic">t</text>
<text x="117" y="1059.4" font-size="28.3">with pixel-level correction (nm)</text>
<g transform="translate(39 0) rotate(-90)"><text x="-975" y="0" font-size="31" font-style="italic">σ</text><text x="-958.3" y="4.5" font-size="21" font-style="italic">t</text><text x="-940.3" y="0" font-size="28.3">with PRESIR (nm)</text></g>
</svg>
</body></html>
